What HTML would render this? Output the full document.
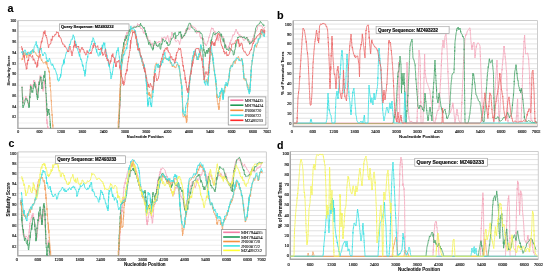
<!DOCTYPE html>
<html><head><meta charset="utf-8"><title>SimPlot and Bootscan analysis</title>
<style>html,body{margin:0;padding:0;background:#fff;}body{width:550px;height:277px;overflow:hidden;}svg{display:block;}</style>
</head><body>
<svg width="550" height="277" viewBox="0 0 550 277">
<rect width="550" height="277" fill="#fff"/>
<line x1="17.9" y1="25.99" x2="268.0" y2="25.99" stroke="#e9e9e9" stroke-width="0.8"/><line x1="17.9" y1="31.38" x2="268.0" y2="31.38" stroke="#e9e9e9" stroke-width="0.8"/><line x1="17.9" y1="36.77" x2="268.0" y2="36.77" stroke="#e9e9e9" stroke-width="0.8"/><line x1="17.9" y1="42.16" x2="268.0" y2="42.16" stroke="#e9e9e9" stroke-width="0.8"/><line x1="17.9" y1="47.55" x2="268.0" y2="47.55" stroke="#e9e9e9" stroke-width="0.8"/><line x1="17.9" y1="52.94" x2="268.0" y2="52.94" stroke="#e9e9e9" stroke-width="0.8"/><line x1="17.9" y1="58.33" x2="268.0" y2="58.33" stroke="#e9e9e9" stroke-width="0.8"/><line x1="17.9" y1="63.72" x2="268.0" y2="63.72" stroke="#e9e9e9" stroke-width="0.8"/><line x1="17.9" y1="69.11" x2="268.0" y2="69.11" stroke="#e9e9e9" stroke-width="0.8"/><line x1="17.9" y1="74.50" x2="268.0" y2="74.50" stroke="#e9e9e9" stroke-width="0.8"/><line x1="17.9" y1="79.89" x2="268.0" y2="79.89" stroke="#e9e9e9" stroke-width="0.8"/><line x1="17.9" y1="85.28" x2="268.0" y2="85.28" stroke="#e9e9e9" stroke-width="0.8"/><line x1="17.9" y1="90.67" x2="268.0" y2="90.67" stroke="#e9e9e9" stroke-width="0.8"/><line x1="17.9" y1="96.06" x2="268.0" y2="96.06" stroke="#e9e9e9" stroke-width="0.8"/><line x1="17.9" y1="101.45" x2="268.0" y2="101.45" stroke="#e9e9e9" stroke-width="0.8"/><line x1="17.9" y1="106.84" x2="268.0" y2="106.84" stroke="#e9e9e9" stroke-width="0.8"/><line x1="17.9" y1="112.23" x2="268.0" y2="112.23" stroke="#e9e9e9" stroke-width="0.8"/><line x1="17.9" y1="117.62" x2="268.0" y2="117.62" stroke="#e9e9e9" stroke-width="0.8"/><line x1="17.9" y1="123.01" x2="268.0" y2="123.01" stroke="#e9e9e9" stroke-width="0.8"/><polyline points="17.9,20.6 268.0,20.6 268.0,128.4" fill="none" stroke="#cdcdcd" stroke-width="1"/><polyline points="17.9,20.6 17.9,128.4 268.0,128.4" fill="none" stroke="#a6a6a6" stroke-width="1.4"/>
<polyline points="22.0,86.0 22.1,86.7 22.1,88.7 22.2,88.7 22.2,89.6 22.3,89.8 22.3,91.7 22.4,94.4 22.4,94.5 22.5,96.3 22.6,96.3 22.6,97.5 22.7,98.2 22.7,96.8 22.8,101.1 22.8,101.6 22.9,102.6 22.9,100.8 23.0,104.0 23.4,100.8 23.7,101.0 24.1,100.6 24.5,100.7 24.6,100.0 24.9,99.0 25.3,98.8 25.6,96.3 26.0,96.0 26.3,97.3 26.7,98.4 27.0,98.0 27.4,100.0 27.8,103.2 28.1,102.6 28.5,104.3 28.9,102.9 29.0,104.0 29.1,102.0 29.2,101.6 29.2,100.9 29.3,100.8 29.4,99.3 29.5,97.4 29.6,95.8 29.6,95.3 29.7,96.6 29.8,93.0 29.9,93.4 30.0,92.6 30.0,89.1 30.1,90.1 30.2,90.7 30.3,85.4 30.4,86.6 30.4,85.9 30.5,84.0 30.6,84.0 31.0,85.5 31.5,85.7 31.9,84.8 32.4,88.7 32.6,88.0 32.8,87.9 32.9,87.3 33.1,86.9 33.3,84.5 33.5,83.2 33.6,80.4 33.8,81.9 34.0,80.0 34.3,80.2 34.6,81.3 34.9,81.2 35.3,82.5 35.6,84.1 35.9,87.4 36.0,86.0 36.2,84.3 36.3,86.1 36.5,89.3 36.6,91.8 36.8,91.7 36.9,89.5 37.1,89.6 37.2,94.4 37.4,95.0 37.5,93.1 37.6,91.6 37.8,93.3 37.9,92.5 38.0,90.2 38.1,89.4 38.3,88.6 38.4,89.1 38.5,86.9 38.6,85.7 38.7,84.8 38.9,81.1 39.0,82.0 39.3,82.7 39.5,81.3 39.8,79.8 40.0,75.6 40.3,76.3 40.6,76.0 40.8,78.1 40.9,75.6 41.1,78.7 41.2,81.3 41.4,79.2 41.5,84.0 41.7,83.6 41.9,83.7 42.0,85.3 42.2,86.7 42.3,87.0 42.5,89.3 42.7,88.0 42.8,89.3 43.0,91.0 43.1,91.4 43.3,89.1 43.4,86.9 43.6,88.3 43.7,88.0 43.9,84.5 44.0,82.3 44.2,82.9 44.3,81.9 44.4,80.7 44.6,80.0 44.7,82.8 44.8,80.7 44.9,84.6 45.0,82.3 45.1,84.0 45.2,86.8 45.3,88.4 45.3,89.1 45.4,89.4 45.5,90.1 45.6,91.2 45.7,92.7 45.8,92.7 45.9,94.3 46.0,95.0 46.0,96.7 46.1,97.0 46.1,99.0 46.1,99.7 46.2,102.6 46.2,101.4 46.2,101.4 46.3,102.5 46.3,104.0 46.3,106.2 46.4,105.6 46.4,107.5 46.4,110.4 46.5,105.7 46.5,108.5 46.6,111.3 46.6,112.5 46.6,113.3 46.7,113.4 46.7,115.8 46.7,116.4 46.8,116.3 46.8,121.1 46.8,119.4 46.9,119.3 46.9,120.9 46.9,121.7 47.0,122.9 47.0,124.0 47.2,121.4 47.4,125.3 47.7,128.2 47.9,126.4 48.0,128.5" fill="none" stroke="#f4a8bc" stroke-width="0.85" stroke-linejoin="round" stroke-opacity="1.0"/><polyline points="119.0,128.5 119.0,127.4 119.1,127.7 119.1,126.6 119.1,126.4 119.2,121.3 119.2,122.0 119.3,121.1 119.3,121.3 119.3,120.9 119.4,115.0 119.4,118.9 119.4,114.6 119.5,116.4 119.5,112.6 119.6,113.7 119.6,114.1 119.6,111.3 119.7,110.8 119.7,110.5 119.7,108.7 119.8,107.4 119.8,108.5 119.9,106.9 119.9,104.1 119.9,107.1 120.0,101.0 120.0,102.7 120.0,100.2 120.1,99.7 120.1,99.4 120.2,97.8 120.2,97.4 120.2,93.5 120.3,92.6 120.3,94.3 120.3,91.3 120.4,90.2 120.4,88.6 120.5,91.2 120.5,89.5 120.5,89.4 120.6,85.3 120.6,85.5 120.6,83.0 120.7,84.5 120.7,84.6 120.8,80.4 120.8,82.6 120.8,80.8 120.9,78.3 120.9,75.0 120.9,78.4 121.0,75.4 121.0,75.0 121.1,73.2 121.1,73.5 121.2,72.5 121.2,73.0 121.3,68.7 121.3,70.5 121.4,69.9 121.4,68.9 121.5,65.8 121.5,64.0 121.6,65.3 121.6,63.2 121.7,62.2 121.7,62.9 121.8,59.7 121.8,56.0 121.9,57.5 121.9,54.6 122.0,56.0 122.2,56.1 122.3,54.4 122.5,52.2 122.7,52.0 122.8,52.2 123.0,50.2 123.2,50.8 123.3,48.0 123.5,48.5 123.6,48.1 123.8,47.2 124.0,44.0 124.2,42.2 124.5,43.2 124.7,38.7 125.0,38.7 125.2,36.6 125.5,39.6 125.7,35.6 125.9,36.2 126.2,35.0 126.4,34.3 126.7,32.6 126.9,32.7 127.0,32.0 127.7,33.6 128.4,30.6 129.1,30.6 130.0,29.0 130.9,30.0 131.9,28.1 133.0,28.0 133.9,26.0 134.9,26.6 136.0,27.0 136.8,27.7 137.5,23.6 138.3,24.3 139.0,25.7 139.5,24.0 139.8,26.0 140.1,25.9 140.4,27.9 140.6,28.0 141.0,29.0 141.6,28.2 142.2,28.5 142.9,30.5 143.5,33.3 144.1,32.2 144.7,32.5 145.0,34.0 145.4,33.9 145.9,33.8 146.3,36.5 146.8,36.0 147.2,38.9 147.7,36.3 148.0,40.0 148.6,41.2 149.2,40.8 149.8,39.9 150.4,44.1 151.0,44.0 151.6,44.5 152.1,42.8 152.7,45.4 153.0,47.0 153.5,46.5 154.0,44.7 154.5,45.4 155.1,44.5 155.6,43.6 156.0,42.0 156.9,42.1 157.9,43.1 159.0,41.0 159.9,42.3 161.0,42.0 161.4,41.7 161.9,37.5 162.3,40.5 162.8,40.1 163.0,38.0 164.0,37.4 164.9,36.9 165.9,39.8 167.0,37.0 167.7,35.4 168.4,39.0 169.1,42.3 170.0,40.0 170.3,37.8 170.5,39.0 170.8,39.6 171.1,36.0 171.4,35.9 171.6,35.4 171.9,32.1 172.0,33.0 172.4,33.8 172.8,35.2 173.2,36.8 173.6,36.6 174.0,37.3 174.4,37.2 174.8,39.0 175.0,40.0 175.9,41.6 176.8,41.0 177.7,40.2 178.6,40.7 179.0,42.0 179.6,44.6 180.1,41.8 180.7,40.3 181.2,35.3 181.8,38.6 182.3,37.6 183.0,36.0 183.6,37.4 184.1,34.9 184.7,33.4 185.2,33.4 185.8,29.3 186.3,32.4 187.0,30.0 187.7,29.7 188.4,27.7 189.1,29.6 189.8,29.5 190.5,24.6 191.0,26.0 191.9,25.4 192.9,27.0 194.0,27.0 194.6,28.1 195.1,28.1 195.7,28.2 196.0,30.0 196.7,33.5 197.4,32.8 198.1,30.6 199.0,33.0 199.5,32.1 200.0,37.0 200.5,36.9 201.0,38.8 201.5,38.4 202.0,37.1 202.5,39.4 203.0,40.0 203.4,38.1 203.9,40.8 204.3,42.6 204.8,44.3 205.2,43.5 205.7,45.2 206.0,46.0 206.4,45.7 206.7,44.6 207.1,44.0 207.4,42.5 207.8,40.9 208.1,41.4 208.5,39.5 208.8,37.4 209.0,38.0 209.2,36.2 209.5,36.1 209.7,34.9 210.0,34.3 210.2,33.1 210.5,32.4 210.7,31.0 211.0,30.0 211.7,27.7 212.4,29.1 213.0,28.0 213.4,30.3 213.7,30.4 214.1,30.6 214.4,32.3 214.8,31.4 215.1,31.2 215.5,34.6 215.8,34.3 216.0,36.0 216.4,37.9 216.9,36.4 217.3,35.3 217.8,38.2 218.0,40.0 218.3,41.1 218.6,37.6 218.9,35.4 219.3,35.2 219.6,35.9 219.9,35.0 220.0,34.0 220.8,34.8 221.7,37.0 222.5,36.6 223.0,36.0 223.2,36.9 223.5,38.7 223.7,41.1 224.0,41.1 224.2,42.2 224.5,40.4 224.7,42.6 225.0,44.0 225.6,45.7 226.2,45.2 226.8,47.8 227.4,48.0 228.0,48.0 228.3,48.2 228.6,45.8 228.9,48.5 229.3,45.8 229.6,43.0 229.9,42.4 230.0,42.0 230.4,44.5 230.9,39.8 231.3,40.5 231.8,39.7 232.0,38.0 232.4,37.1 232.9,34.7 233.3,35.6 233.8,34.9 234.0,34.0 234.4,34.5 234.7,33.2 235.1,31.2 235.5,31.4 235.9,30.1 236.0,29.0 236.4,30.2 236.7,30.9 237.1,31.5 237.5,33.6 237.9,32.3 238.0,34.0 238.6,34.0 239.2,35.6 239.8,34.5 240.4,36.6 241.0,38.0 241.8,35.9 242.7,38.2 243.5,40.4 244.0,40.0 244.8,40.2 245.7,38.8 246.5,38.0 247.0,38.0 247.5,37.0 248.0,42.1 248.5,41.3 249.0,42.9 249.5,41.2 250.0,42.9 250.5,44.0 251.0,40.8 251.6,43.3 252.1,42.7 252.6,38.1 253.0,40.0 253.3,39.0 253.6,38.9 253.9,34.8 254.2,33.8 254.5,33.8 254.8,33.5 255.1,31.5 255.4,32.4 255.5,32.0 255.9,31.4 256.2,31.0 256.6,30.1 257.0,30.2 257.4,28.9 257.5,27.0 258.4,25.0 259.4,25.7 260.5,26.0 261.2,25.3 261.9,26.0 262.6,28.0 263.5,29.0 264.0,28.2 264.6,28.0 264.8,27.0" fill="none" stroke="#f4a8bc" stroke-width="0.85" stroke-linejoin="round" stroke-opacity="1.0"/>
<polyline points="22.0,88.0 22.0,86.9 22.1,88.4 22.1,91.0 22.2,91.7 22.2,92.6 22.3,93.9 22.3,94.0 22.4,96.9 22.4,97.4 22.5,97.9 22.5,98.1 22.6,99.8 22.6,97.4 22.7,100.7 22.7,103.0 22.8,102.0 22.8,105.2 22.9,106.2 22.9,105.2 23.0,108.0 23.3,106.7 23.6,105.7 23.9,105.7 24.2,105.0 24.6,103.0 24.9,102.0 25.1,100.0 25.4,99.9 25.7,99.1 26.0,98.0 26.4,99.9 26.8,100.2 27.3,99.8 27.4,101.0 27.6,100.2 27.8,102.5 28.1,103.0 28.3,103.5 28.5,105.7 28.7,106.2 29.0,108.0 29.1,107.1 29.1,106.7 29.2,104.5 29.3,107.0 29.4,102.6 29.4,103.4 29.5,101.2 29.6,101.5 29.7,95.9 29.7,97.0 29.8,97.4 29.9,96.8 29.9,98.1 30.0,94.5 30.1,94.7 30.2,93.0 30.2,92.3 30.3,90.7 30.4,88.8 30.5,88.7 30.5,85.7 30.6,86.0 30.9,88.5 31.2,86.6 31.5,89.2 31.9,92.6 32.2,90.5 32.5,91.7 32.6,92.0 32.8,92.5 33.0,90.1 33.2,88.0 33.4,88.4 33.6,87.9 33.8,87.0 34.0,84.1 34.2,86.4 34.4,85.3 34.6,82.0 34.8,83.0 35.0,84.3 35.2,84.4 35.4,87.8 35.6,86.0 35.8,88.8 36.0,89.0 36.1,89.4 36.3,90.1 36.4,92.9 36.6,94.7 36.7,93.9 36.8,94.1 37.0,97.0 37.1,96.9 37.2,98.3 37.4,99.0 37.5,100.0 37.6,98.5 37.7,95.3 37.9,98.0 38.0,94.0 38.1,94.1 38.2,91.2 38.3,91.0 38.4,87.8 38.5,91.4 38.6,89.8 38.8,85.5 38.9,84.1 39.0,85.0 39.2,81.9 39.4,84.6 39.6,81.5 39.8,81.0 40.0,79.7 40.2,79.0 40.4,76.7 40.6,77.0 40.7,78.0 40.9,77.1 41.0,79.9 41.1,81.4 41.2,82.6 41.4,82.7 41.5,82.8 41.6,85.1 41.7,85.3 41.9,89.0 42.0,88.0 42.1,88.0 42.3,85.9 42.4,84.4 42.5,83.1 42.6,81.8 42.8,81.6 42.9,81.4 43.0,80.7 43.1,79.8 43.3,80.8 43.4,77.0 43.8,75.2 44.1,75.2 44.5,77.8 44.9,70.9 45.0,73.0 45.0,73.3 45.1,75.2 45.1,76.2 45.2,77.5 45.2,77.7 45.3,79.5 45.3,80.1 45.4,82.0 45.4,79.5 45.5,81.8 45.5,84.0 45.6,83.6 45.6,84.6 45.7,87.8 45.7,87.1 45.8,89.8 45.8,90.9 45.9,91.4 45.9,92.6 46.0,93.0 46.1,93.9 46.1,93.2 46.2,96.0 46.3,97.6 46.3,97.3 46.4,98.9 46.4,101.0 46.5,99.8 46.6,102.8 46.6,105.4 46.7,103.3 46.8,105.2 46.8,105.8 46.9,109.0 47.0,108.4 47.0,110.1 47.1,109.1 47.1,110.9 47.2,111.9 47.3,110.7 47.3,115.8 47.4,115.0 47.6,115.2 47.8,110.8 48.0,113.0 48.2,110.9 48.4,110.7 48.6,109.0 48.7,110.5 48.9,109.0 49.0,111.7 49.2,114.9 49.3,113.2 49.4,113.6 49.6,114.2 49.7,115.3 49.8,118.3 50.0,119.0 50.1,122.2 50.1,121.6 50.2,122.3 50.3,125.9 50.3,123.3 50.4,124.1 50.4,126.7 50.5,127.7 50.6,126.7 50.6,128.5" fill="none" stroke="#4aa56c" stroke-width="0.85" stroke-linejoin="round" stroke-opacity="1.0"/><polyline points="118.6,128.5 118.6,126.0 118.7,126.9 118.7,125.8 118.8,122.8 118.8,123.2 118.9,121.8 118.9,122.1 119.0,120.4 119.0,119.4 119.1,118.1 119.1,118.9 119.2,118.3 119.2,115.0 119.3,115.6 119.3,112.5 119.4,112.6 119.4,112.5 119.5,112.5 119.5,109.0 119.6,108.4 119.6,107.8 119.7,104.6 119.7,105.5 119.8,103.7 119.8,104.0 119.9,101.1 119.9,99.0 120.0,100.6 120.0,100.0 120.0,99.3 120.1,97.3 120.1,98.2 120.1,95.6 120.2,94.2 120.2,94.6 120.2,91.0 120.3,91.1 120.3,91.0 120.4,91.1 120.4,88.8 120.4,88.4 120.5,86.2 120.5,86.4 120.5,87.2 120.6,83.1 120.6,86.1 120.6,81.2 120.7,81.0 120.7,80.2 120.7,80.3 120.8,76.4 120.8,74.3 120.9,76.8 120.9,76.0 120.9,74.8 121.0,76.4 121.0,72.0 121.1,71.3 121.1,70.3 121.2,70.2 121.2,68.5 121.3,69.2 121.3,64.4 121.4,64.5 121.4,59.5 121.5,64.1 121.6,61.5 121.6,62.2 121.7,62.8 121.7,59.0 121.8,57.7 121.8,56.4 121.9,54.9 121.9,54.2 122.0,54.0 122.2,53.8 122.3,52.1 122.5,51.1 122.7,49.8 122.8,50.3 123.0,48.7 123.2,46.9 123.3,47.0 123.5,44.9 123.6,42.6 123.8,45.0 124.0,42.0 124.4,41.7 124.9,39.0 125.3,40.7 125.8,38.9 126.2,35.5 126.7,38.7 127.0,36.0 127.4,35.5 127.9,35.4 128.3,33.6 128.8,32.2 129.2,29.5 129.7,31.9 130.0,30.0 130.7,29.3 131.4,28.2 132.0,28.0 132.9,28.1 133.9,27.5 135.0,27.0 135.9,27.4 137.0,26.0 137.9,26.0 139.0,27.0 139.8,26.4 140.6,23.1 141.0,25.6 141.9,25.5 142.8,27.3 143.7,28.6 144.0,27.0 144.3,27.5 144.6,28.7 144.9,31.9 145.3,30.4 145.6,32.7 145.9,34.9 146.0,33.0 146.2,34.0 146.4,36.6 146.6,35.0 146.8,37.2 147.0,38.0 147.4,38.8 147.9,39.9 148.3,42.2 148.8,44.7 149.0,42.0 149.4,42.0 149.9,43.0 150.3,45.3 150.8,44.2 151.0,46.0 151.4,47.5 151.9,48.5 152.3,48.3 152.8,50.3 153.0,50.0 153.2,47.0 153.4,49.0 153.5,45.0 153.7,45.2 153.9,44.4 154.1,43.6 154.2,44.2 154.4,42.2 154.6,41.0 155.2,41.3 155.7,43.3 156.0,43.0 156.4,46.0 156.8,44.8 157.3,46.2 157.4,46.0 158.0,46.8 158.6,44.8 159.0,44.0 159.6,43.2 160.1,48.9 160.7,49.4 161.0,47.0 161.2,43.4 161.5,45.0 161.7,44.6 162.0,44.4 162.2,43.0 162.5,40.8 162.7,38.8 163.0,39.0 163.7,39.8 164.4,41.8 165.0,41.0 165.6,40.4 166.2,41.2 166.6,43.0 167.0,43.9 167.4,42.3 167.9,45.4 168.0,46.0 168.7,44.7 169.4,45.2 170.0,44.0 170.3,42.1 170.6,41.0 170.9,40.6 171.3,40.1 171.6,38.4 171.9,38.3 172.0,38.0 172.4,38.1 172.9,37.8 173.3,37.5 173.8,33.4 174.0,34.0 174.6,34.3 175.1,32.4 175.7,39.0 176.0,37.0 176.7,35.4 177.4,35.5 178.0,35.0 178.6,34.8 179.1,31.6 179.7,33.1 180.0,32.0 180.3,32.9 180.6,31.5 180.9,35.2 181.3,37.3 181.6,34.3 181.9,38.7 182.0,38.0 182.6,37.4 183.1,37.0 183.7,36.1 184.0,35.0 184.6,35.9 185.1,33.0 185.7,33.6 186.0,32.0 186.3,30.5 186.6,31.0 186.9,28.1 187.3,28.1 187.6,29.5 187.9,26.9 188.0,26.0 188.6,25.0 189.3,23.0 190.0,23.6 190.5,23.4 191.0,25.6 191.5,27.4 192.0,27.0 192.7,28.3 193.4,29.1 194.0,29.0 194.7,29.7 195.4,32.2 196.0,31.0 196.9,30.9 198.0,32.0 199.0,31.1 200.0,31.6 200.6,33.5 201.3,33.2 202.0,34.0 202.1,34.6 202.2,35.2 202.4,36.6 202.5,38.8 202.6,39.4 202.7,38.4 202.9,41.5 203.0,42.0 203.1,43.2 203.2,42.7 203.3,46.0 203.4,45.6 203.6,46.5 203.7,49.0 203.8,50.7 203.9,49.1 204.0,51.0 204.4,52.5 204.8,51.7 205.3,56.7 205.4,54.0 205.8,52.4 206.1,53.7 206.5,50.4 206.9,51.3 207.0,50.0 207.7,53.6 208.4,48.1 209.0,52.0 209.3,50.5 209.5,50.7 209.8,49.0 210.0,47.3 210.3,50.0 210.6,46.0 210.8,45.1 210.9,41.9 211.1,44.1 211.2,39.8 211.4,42.6 211.5,39.3 211.7,39.3 211.8,39.7 212.0,37.0 212.6,36.3 213.1,33.5 213.7,32.3 214.0,34.0 214.9,35.1 216.0,33.0 216.9,33.5 218.0,32.0 218.9,31.4 220.0,33.0 220.4,35.0 220.7,35.5 221.1,36.6 221.5,33.8 221.9,37.2 222.0,38.0 222.4,40.1 222.9,40.7 223.3,41.8 223.8,38.4 224.0,42.0 224.3,43.2 224.6,44.5 224.9,48.2 225.3,44.6 225.6,46.3 225.9,47.7 226.0,48.0 226.7,49.9 227.4,48.8 228.0,50.0 228.7,50.8 229.4,47.6 230.0,48.0 230.6,49.2 231.1,49.0 231.7,50.7 232.0,51.0 232.4,51.0 232.9,50.7 233.3,55.1 233.8,55.0 234.0,55.0 234.2,53.3 234.4,53.3 234.5,53.3 234.7,49.8 234.9,49.9 235.1,49.8 235.3,48.8 235.4,46.7 235.6,43.4 235.8,46.8 236.0,44.0 236.3,43.5 236.6,42.1 236.9,40.8 237.3,40.5 237.6,38.7 237.9,37.0 238.0,38.0 238.9,36.6 240.0,37.0 240.9,36.5 241.9,36.8 243.0,38.0 244.0,36.5 245.0,38.8 246.0,38.0 246.7,37.0 247.4,40.3 248.0,40.0 248.6,39.5 249.1,42.1 249.7,44.3 250.0,43.0 250.9,42.8 252.0,42.0 252.7,40.3 253.4,40.6 254.0,40.0 254.1,39.2 254.3,35.8 254.4,36.2 254.5,36.2 254.7,34.4 254.8,34.2 254.9,34.0 255.1,33.1 255.2,32.3 255.4,30.9 255.5,29.0 255.9,27.7 256.4,27.2 256.8,26.0 257.3,25.0 257.5,25.0 258.4,24.3 259.5,24.0 260.4,21.3 261.5,23.0 262.1,23.4 262.6,24.6 263.2,24.2 263.5,26.0 264.3,25.4 264.8,25.0" fill="none" stroke="#4aa56c" stroke-width="0.85" stroke-linejoin="round" stroke-opacity="1.0"/>
<polyline points="21.4,60.0 21.8,59.8 22.3,58.0 22.7,60.0 23.2,53.0 23.4,56.0 24.2,55.1 25.0,52.4 25.8,55.4 26.0,54.0 26.8,58.0 27.7,51.9 28.5,55.8 29.0,56.0 29.7,56.0 30.4,54.2 31.1,54.6 32.0,53.0 32.7,49.4 33.4,52.7 34.0,51.0 34.6,52.3 35.1,52.7 35.7,52.7 36.0,54.0 36.6,55.7 37.1,55.0 37.7,56.8 38.0,57.0 38.9,55.9 40.0,56.0 40.4,54.0 40.7,57.8 41.1,59.0 41.5,60.7 41.9,59.5 42.0,61.0 42.7,61.7 43.4,63.2 44.0,63.0 44.7,62.5 45.4,63.2 46.0,61.0 46.3,64.5 46.6,61.7 46.9,61.3 47.3,65.9 47.6,67.7 47.9,67.9 48.0,67.0 48.2,69.0 48.5,68.1 48.7,69.0 48.9,72.1 49.1,70.7 49.4,73.0 49.5,71.6 49.5,73.7 49.6,79.2 49.7,79.5 49.7,77.1 49.8,78.0 49.9,80.3 49.9,80.0 50.0,83.7 50.1,82.9 50.1,82.6 50.2,86.7 50.3,85.2 50.3,87.3 50.4,88.0 50.5,88.6 50.5,90.4 50.6,91.0 50.7,91.1 50.7,90.6 50.8,91.1 50.9,93.3 50.9,95.0 51.0,97.0 51.0,98.1 51.1,99.7 51.2,100.1 51.2,99.9 51.3,101.1 51.4,100.2 51.4,103.8 51.5,105.6 51.6,106.7 51.6,106.8 51.7,107.7 51.7,110.2 51.8,110.0 51.9,111.9 51.9,112.7 52.0,113.2 52.1,115.7 52.1,114.2 52.2,115.5 52.3,115.9 52.3,116.9 52.4,121.0 52.5,122.2 52.5,121.0 52.6,122.7 52.6,124.5 52.7,125.0 52.8,126.5 52.8,124.3 52.9,126.1 53.0,128.4 53.0,128.5" fill="none" stroke="#f2a468" stroke-width="0.85" stroke-linejoin="round" stroke-opacity="1.0"/><polyline points="118.0,128.5 118.1,128.4 118.1,126.6 118.2,124.4 118.2,124.0 118.3,122.6 118.3,121.4 118.4,123.5 118.4,119.7 118.5,119.5 118.5,121.3 118.6,119.1 118.6,117.0 118.7,114.7 118.7,115.1 118.8,115.6 118.8,113.3 118.9,113.2 118.9,110.7 119.0,110.2 119.1,108.3 119.1,108.1 119.2,108.2 119.2,103.7 119.3,104.5 119.3,103.8 119.4,101.8 119.4,101.1 119.5,101.6 119.5,100.0 119.6,101.6 119.6,98.8 119.7,97.4 119.7,94.0 119.8,97.5 119.8,94.1 119.9,93.0 119.9,90.6 120.0,90.9 120.0,88.6 120.1,89.1 120.1,88.6 120.2,87.1 120.2,86.4 120.3,83.9 120.4,85.9 120.4,82.2 120.5,79.7 120.5,80.8 120.6,79.0 120.6,77.7 120.7,77.6 120.7,77.4 120.8,74.5 120.8,74.9 120.9,75.9 120.9,73.9 121.0,72.0 121.1,70.8 121.2,70.2 121.4,68.9 121.5,68.0 121.6,68.0 121.7,65.9 121.8,61.9 121.9,64.0 122.1,61.9 122.2,62.9 122.3,60.3 122.4,60.3 122.5,61.9 122.6,56.7 122.8,55.6 122.9,54.3 123.0,55.0 123.2,50.9 123.4,50.6 123.6,52.5 123.8,50.2 124.0,47.7 124.2,47.2 124.4,48.9 124.6,46.1 124.8,45.7 125.0,45.0 125.4,44.5 125.7,44.9 126.1,44.7 126.5,42.6 126.9,40.5 127.0,40.0 127.4,39.3 127.7,40.5 128.1,39.1 128.5,35.9 128.9,36.0 129.0,35.0 129.6,34.5 130.1,33.4 130.7,31.9 131.0,32.0 131.9,29.8 133.0,31.0 133.7,31.0 134.4,30.4 135.0,33.0 135.2,35.6 135.4,35.6 135.7,34.4 135.9,38.7 136.1,39.0 136.3,36.4 136.5,42.2 136.7,41.9 137.0,42.0 137.2,45.7 137.5,42.3 137.7,45.6 138.0,46.4 138.2,47.1 138.5,48.0 138.7,50.2 138.9,47.8 139.2,49.1 139.4,49.9 139.5,52.0 139.8,52.2 140.0,53.1 140.3,55.4 140.6,56.2 140.8,56.9 141.1,56.9 141.4,58.2 141.6,60.9 141.9,61.7 142.0,61.0 142.3,62.1 142.6,62.5 142.9,65.9 143.3,64.0 143.6,66.6 143.9,68.2 144.0,67.0 144.2,67.6 144.5,70.0 144.7,68.5 145.0,72.2 145.2,72.1 145.5,70.8 145.7,74.7 146.0,75.0 146.1,74.8 146.2,78.7 146.3,77.1 146.4,78.8 146.5,80.3 146.5,80.5 146.6,82.3 146.7,82.2 146.8,84.8 146.9,85.0 147.0,86.0 147.1,87.3 147.2,84.4 147.3,90.5 147.4,90.0 147.6,88.7 147.7,92.1 147.8,93.6 147.9,95.3 148.0,95.0 148.4,92.7 148.8,95.2 149.3,92.1 149.4,92.0 149.7,96.1 149.9,93.7 150.2,95.8 150.4,95.4 150.7,95.4 151.0,98.0 151.2,98.4 151.4,97.2 151.6,97.1 151.8,95.2 152.0,92.4 152.2,90.0 152.4,90.3 152.6,89.3 152.8,88.1 153.0,88.0 153.1,87.8 153.2,86.4 153.3,84.7 153.4,84.2 153.5,82.8 153.5,82.3 153.6,82.0 153.7,81.3 153.8,78.1 153.9,76.1 154.0,78.9 154.1,76.2 154.2,76.5 154.3,71.9 154.4,72.6 154.4,72.1 154.5,69.2 154.6,69.4 154.7,70.0 154.8,69.5 154.9,69.2 155.0,66.0 155.7,64.2 156.4,62.8 157.0,64.0 157.4,65.6 157.9,67.0 158.3,66.9 158.8,65.9 159.0,68.0 159.4,68.1 159.9,67.2 160.3,66.0 160.8,63.8 161.0,64.0 161.4,63.5 161.9,63.2 162.3,60.6 162.8,58.0 163.0,60.0 163.6,59.6 164.1,59.0 164.7,57.5 165.0,57.0 165.6,59.0 166.1,57.9 166.7,59.4 167.0,60.0 167.7,58.9 168.4,59.3 169.0,58.0 169.4,61.0 169.9,59.5 170.3,63.4 170.8,63.6 171.0,62.0 171.4,63.9 171.9,64.6 172.3,67.0 172.8,65.3 173.0,66.0 173.7,66.6 174.4,66.0 175.0,68.0 175.4,67.7 175.9,68.0 176.3,66.0 176.8,65.0 177.0,64.0 177.7,64.4 178.4,65.6 179.0,66.0 179.1,65.1 179.3,69.3 179.4,68.4 179.6,68.5 179.7,70.0 179.8,70.9 180.0,73.0 180.1,75.1 180.2,76.4 180.3,74.2 180.4,78.2 180.5,79.1 180.6,78.2 180.7,78.0 180.8,80.0 180.9,81.1 181.0,83.4 181.2,83.5 181.3,82.3 181.4,86.2 181.5,84.9 181.6,89.1 181.7,87.3 181.8,89.0 181.9,89.8 182.0,92.0 182.0,92.3 182.1,95.7 182.1,96.1 182.2,96.8 182.2,97.4 182.2,96.0 182.3,98.3 182.3,99.3 182.4,99.7 182.4,102.7 182.5,102.0 182.5,103.1 182.5,103.6 182.6,103.3 182.6,107.8 182.7,109.7 182.7,109.2 182.7,108.7 182.8,107.5 182.8,112.2 182.9,114.6 182.9,114.4 183.0,116.2 183.0,116.0 183.7,117.2 184.4,116.1 185.0,114.0 185.2,114.4 185.4,117.3 185.5,118.0 185.7,115.9 185.9,118.4 186.1,118.1 186.2,120.7 186.4,122.6 186.6,123.0 186.7,120.6 186.7,118.3 186.8,121.7 186.8,119.5 186.9,119.9 187.0,115.3 187.0,117.4 187.1,117.7 187.1,116.6 187.2,112.7 187.3,112.4 187.3,110.8 187.4,111.3 187.5,110.4 187.5,108.1 187.6,105.3 187.6,107.0 187.7,104.4 187.8,104.9 187.8,103.4 187.9,104.1 187.9,102.5 188.0,100.0 188.1,98.4 188.2,98.5 188.3,99.3 188.4,95.3 188.5,95.6 188.6,95.6 188.7,94.7 188.7,92.7 188.8,89.3 188.9,88.4 189.0,89.4 189.1,88.6 189.2,90.4 189.3,84.9 189.4,85.0 189.5,85.5 189.6,84.0 189.7,79.8 189.8,80.0 189.9,80.2 190.0,78.4 190.1,77.8 190.2,77.7 190.4,75.0 190.5,75.7 190.6,73.2 190.7,72.4 190.8,72.8 190.9,70.3 191.0,70.0 191.2,69.4 191.3,70.1 191.5,67.1 191.6,65.9 191.8,66.0 191.9,63.6 192.1,64.5 192.2,60.4 192.4,61.9 192.5,59.5 192.7,58.1 192.8,60.4 193.0,57.0 193.4,55.0 193.7,57.4 194.1,55.1 194.5,55.2 194.9,51.1 195.0,52.0 195.4,54.5 195.7,55.8 196.1,54.6 196.5,55.5 196.9,59.8 197.0,57.0 197.3,58.2 197.6,58.3 198.0,60.0 198.2,58.2 198.5,58.6 198.7,57.5 199.0,56.4 199.2,57.4 199.5,53.8 199.7,53.8 200.0,52.0 200.2,52.9 200.4,48.7 200.6,50.4 200.8,50.5 201.0,47.0 201.3,46.2 201.5,47.5 201.8,48.5 202.1,48.4 202.4,52.4 202.6,50.4 202.9,54.4 203.0,54.0 203.0,56.9 203.1,53.9 203.1,56.6 203.2,55.5 203.2,60.0 203.3,59.0 203.3,60.6 203.4,62.1 203.4,63.7 203.5,63.5 203.5,65.0 203.5,65.3 203.6,67.1 203.6,66.5 203.7,69.1 203.7,67.5 203.8,70.3 203.8,74.5 203.9,73.1 203.9,72.3 204.0,75.3 204.0,76.0 204.2,75.7 204.3,75.8 204.5,78.0 204.7,80.9 204.8,81.4 205.0,82.0 205.7,81.2 206.4,79.4 207.0,80.0 207.3,79.5 207.6,83.7 208.0,83.0 208.1,82.3 208.2,79.8 208.2,77.3 208.3,77.2 208.4,81.2 208.5,75.5 208.5,75.9 208.6,75.3 208.7,73.8 208.8,72.7 208.8,70.2 208.9,69.7 209.0,70.0 209.1,71.2 209.1,67.0 209.2,68.1 209.3,63.8 209.4,64.7 209.4,64.4 209.5,64.4 209.6,60.6 209.7,61.8 209.7,60.5 209.8,58.1 209.9,58.7 210.0,55.9 210.0,55.0 210.1,55.0 210.2,50.5 210.3,52.9 210.3,50.8 210.4,49.2 210.5,50.0 210.8,50.4 211.1,52.9 211.4,52.3 211.8,55.4 212.1,53.2 212.4,54.0 212.5,56.0 212.6,59.0 212.7,58.5 212.8,60.2 212.9,58.9 213.0,62.0 213.1,62.3 213.2,63.8 213.4,64.0 213.5,66.5 213.6,65.1 213.7,65.7 213.8,66.0 213.9,70.4 214.0,70.0 214.1,70.0 214.3,70.6 214.4,71.7 214.6,73.4 214.7,73.3 214.8,75.6 215.0,76.1 215.1,77.2 215.3,77.7 215.4,79.9 215.6,80.3 215.7,82.0 215.8,83.2 216.0,84.0 216.1,85.4 216.1,83.1 216.2,86.3 216.3,87.0 216.4,90.0 216.4,87.9 216.5,90.1 216.6,91.6 216.6,92.5 216.7,95.3 216.8,94.4 216.9,97.2 216.9,95.1 217.0,98.0 217.2,96.6 217.3,101.6 217.5,101.5 217.7,102.6 217.8,103.1 218.0,104.5 218.2,103.3 218.3,107.1 218.5,106.2 218.6,109.1 218.8,109.0 219.0,110.0 219.1,106.4 219.1,106.3 219.2,108.5 219.3,105.8 219.4,104.5 219.4,104.3 219.5,102.5 219.6,101.3 219.6,101.2 219.7,100.2 219.8,101.0 219.9,98.1 219.9,99.5 220.0,96.0 220.3,97.4 220.6,96.3 220.9,94.5 221.3,92.4 221.6,91.4 221.9,90.1 222.0,90.0 222.1,90.0 222.2,91.9 222.4,92.1 222.5,96.1 222.6,95.7 222.7,95.4 222.9,94.5 223.0,98.0 223.2,96.9 223.3,95.5 223.5,93.6 223.7,92.6 223.8,90.1 224.0,92.0 224.2,91.8 224.5,90.0 224.7,92.4 225.0,88.1 225.2,87.0 225.5,88.1 225.7,85.4 226.0,84.0 226.4,85.1 227.0,86.0 227.2,84.5 227.5,83.3 227.7,85.0 228.0,83.4 228.2,83.4 228.5,79.7 228.7,79.2 229.0,78.0 229.1,75.9 229.2,77.3 229.3,73.2 229.4,74.8 229.5,74.4 229.6,73.9 229.7,69.8 229.8,71.5 229.9,68.1 230.0,68.0 230.6,66.3 231.3,64.8 231.7,66.0 232.1,66.6 232.6,66.4 233.0,62.5 233.5,61.4 233.7,62.0 234.4,60.9 235.1,63.8 235.7,60.0 236.4,60.6 237.1,57.9 237.7,58.0 238.4,56.4 239.1,58.5 239.7,60.0 240.4,60.8 241.1,61.0 241.6,58.0 241.8,58.6 241.9,59.1 242.1,60.3 242.3,59.5 242.5,64.1 242.6,62.5 242.8,66.3 243.0,66.0 243.1,64.8 243.2,66.3 243.2,69.4 243.3,69.0 243.4,72.0 243.5,72.0 243.6,71.4 243.7,74.8 243.7,76.1 243.8,73.5 243.9,79.3 244.0,78.0 244.6,79.4 245.2,80.6 245.6,80.0 245.9,78.5 246.3,81.0 246.6,82.4 247.0,84.0 247.3,86.4 247.5,84.0 247.8,85.7 248.0,85.2 248.3,88.5 248.6,90.0 249.0,91.3 249.6,92.0 249.7,88.8 249.8,89.2 249.9,89.7 250.0,90.1 250.0,87.9 250.1,85.6 250.2,83.5 250.3,82.8 250.4,82.2 250.5,82.0 250.6,81.2 250.6,79.9 250.7,81.2 250.7,78.4 250.8,75.6 250.9,78.0 250.9,76.2 251.0,74.1 251.1,72.1 251.1,69.6 251.2,69.7 251.2,71.2 251.3,68.0 251.4,66.3 251.4,67.3 251.5,66.0 251.6,65.3 251.8,64.8 251.9,63.9 252.1,63.9 252.2,60.0 252.3,61.3 252.5,57.8 252.6,59.0 252.8,57.3 252.9,56.4 253.1,56.4 253.2,54.1 253.3,54.6 253.5,52.0 253.7,52.2 254.0,50.2 254.2,48.4 254.5,47.1 254.7,46.5 255.0,45.9 255.2,45.2 255.5,44.0 256.4,47.4 257.5,43.0 257.9,42.9 258.2,42.1 258.6,39.1 259.0,38.4 259.4,37.9 259.5,38.0 259.9,37.3 260.2,34.8 260.6,37.3 261.0,33.6 261.4,34.8 261.5,33.0 261.9,29.1 262.5,31.0 262.7,32.0 262.9,33.3 263.1,34.2 263.3,35.7 263.5,36.0 264.0,35.5 264.6,34.5 264.8,34.0" fill="none" stroke="#f2a468" stroke-width="0.85" stroke-linejoin="round" stroke-opacity="1.0"/>
<polyline points="21.4,53.0 22.0,51.3 22.6,53.6 23.0,55.0 23.3,51.0 23.6,53.9 23.9,52.5 24.2,50.9 24.6,50.0 25.2,49.8 25.7,50.9 26.3,54.9 26.6,53.0 27.5,54.9 28.4,52.2 29.0,52.0 29.7,54.4 30.4,51.3 31.0,54.0 31.4,50.6 31.9,51.6 32.3,50.2 32.8,49.7 33.2,49.8 33.7,52.6 34.0,48.0 34.3,46.2 34.6,46.2 34.9,45.5 35.3,44.2 35.6,44.5 35.9,44.6 36.0,42.0 36.2,41.4 36.5,44.2 36.7,44.6 36.9,46.4 37.1,44.9 37.4,48.0 37.7,46.7 38.0,46.9 38.3,51.5 38.6,52.1 39.0,53.0 39.4,52.2 39.9,48.1 40.3,49.8 40.8,48.4 41.0,49.0 41.3,48.1 41.5,49.7 41.8,52.8 42.1,53.6 42.4,53.8 42.6,55.4 42.9,54.9 43.0,56.0 43.4,55.2 43.7,54.2 44.1,53.9 44.5,52.2 44.6,52.0 45.0,52.7 45.4,53.6 45.9,53.9 46.0,55.0 46.3,58.9 46.5,57.6 46.8,58.4 47.1,61.8 47.4,60.0 48.4,61.8 49.4,58.0 50.0,60.0 50.4,61.8 50.9,62.9 51.3,65.1 51.8,65.3 52.2,65.5 52.7,63.8 53.0,66.0 53.4,65.8 53.9,68.1 54.3,69.3 54.8,68.2 55.2,70.0 55.7,70.8 56.0,72.0 56.3,73.0 56.6,74.4 56.8,74.5 57.1,74.2 57.4,78.4 57.7,79.8 57.9,78.6 58.2,81.0 58.5,81.2 58.6,81.0 59.0,81.0 59.4,79.8 59.9,77.3 60.0,78.0 60.2,77.8 60.4,77.3 60.5,73.9 60.7,76.6 60.9,75.8 61.1,74.5 61.3,73.7 61.4,71.1 61.6,68.7 61.8,67.4 62.0,67.0 62.3,65.0 62.6,65.3 62.9,64.1 63.3,64.1 63.6,59.6 63.9,64.3 64.0,61.0 64.3,63.0 64.5,59.0 64.8,59.0 65.1,57.8 65.4,56.5 65.6,55.0 65.9,54.1 66.0,54.0 66.4,52.0 66.9,52.4 67.3,51.3 67.8,50.8 68.0,50.0 68.3,47.9 68.6,48.1 68.9,47.2 69.2,47.0 69.5,43.9 69.9,44.8 70.2,44.6 70.5,43.2 70.6,42.0 71.0,40.6 71.3,39.5 71.7,38.9 72.1,39.2 72.5,39.4 72.8,36.2 73.2,34.7 73.4,35.0 73.7,36.5 73.9,37.2 74.2,36.7 74.4,37.9 74.7,39.7 75.0,41.0 75.3,42.8 75.5,41.4 75.8,42.6 76.1,45.5 76.4,44.2 76.6,46.9 76.9,48.2 77.0,48.0 77.3,48.8 77.6,48.6 77.9,50.8 78.3,51.4 78.6,53.2 78.9,52.6 79.0,54.0 79.4,56.4 79.7,53.7 80.1,56.6 80.4,57.8 80.8,59.9 81.1,58.8 81.5,61.3 81.8,60.8 82.0,62.0 82.2,63.9 82.5,66.2 82.7,64.4 83.0,66.5 83.2,65.6 83.5,69.1 83.7,70.4 84.0,70.0 84.2,71.0 84.3,70.5 84.5,73.5 84.7,75.4 84.8,76.3 85.0,76.0 85.1,76.1 85.2,71.6 85.3,72.1 85.4,73.9 85.5,69.4 85.6,71.5 85.7,71.5 85.8,69.0 85.9,68.5 86.0,66.0 86.2,64.6 86.3,62.4 86.5,62.9 86.7,61.8 86.8,61.0 87.0,61.0 87.2,58.9 87.3,58.4 87.5,57.7 87.6,56.1 87.8,57.5 88.0,54.0 88.4,53.6 88.7,52.3 89.1,50.9 89.5,49.5 89.9,51.1 90.0,49.0 90.3,48.2 90.5,45.7 90.8,45.4 91.1,45.0 91.4,43.6 91.6,44.6 91.9,40.8 92.0,42.0 92.3,41.7 92.7,40.3 93.0,37.6 93.4,38.0 93.7,39.0 93.9,39.8 94.2,41.6 94.4,41.3 94.7,43.2 95.0,44.0 95.2,42.8 95.4,44.5 95.7,47.9 95.9,49.3 96.1,48.9 96.3,49.1 96.5,52.2 96.7,49.1 97.0,53.0 97.6,52.8 98.1,55.5 98.7,56.3 99.0,56.0 99.4,53.8 99.9,51.8 100.3,55.2 100.8,52.6 101.0,52.0 101.3,49.9 101.6,50.2 101.9,50.3 102.3,44.8 102.6,48.7 102.9,47.3 103.0,46.0 103.6,42.5 104.2,45.4 104.6,44.0 104.8,42.7 104.9,47.5 105.1,47.5 105.3,50.9 105.5,48.1 105.6,49.9 105.8,52.3 106.0,52.0 106.2,52.1 106.5,53.0 106.7,54.4 107.0,55.8 107.2,55.4 107.5,58.5 107.7,59.5 108.0,60.0 108.2,61.1 108.4,64.2 108.6,62.5 108.8,65.6 109.0,64.2 109.2,66.9 109.4,64.3 109.6,68.1 109.8,68.6 110.0,70.0 110.1,70.4 110.2,71.2 110.3,72.5 110.4,73.0 110.6,72.1 110.7,75.2 110.8,76.2 110.9,77.3 111.0,79.0 111.2,76.6 111.4,76.9 111.6,77.1 111.8,74.8 112.0,73.5 112.2,74.9 112.4,73.4 112.6,71.0 112.8,71.2 112.9,70.5 113.1,67.6 113.2,66.9 113.4,67.5 113.5,64.4 113.7,63.9 113.8,63.6 114.0,62.0 114.3,61.5 114.6,59.7 114.8,60.4 115.1,57.9 115.4,58.1 115.7,57.6 115.9,56.1 116.2,55.3 116.5,51.8 116.6,53.0 116.9,50.3 117.1,50.3 117.4,50.7 117.7,51.1 118.0,48.0 118.2,47.4 118.3,50.4 118.5,49.9 118.6,51.0 118.8,52.6 118.9,54.8 119.1,55.2 119.2,57.4 119.4,57.0 119.6,56.7 119.7,60.1 119.9,61.2 120.0,61.0 120.2,62.6 120.3,62.2 120.5,62.5 120.7,64.4 120.8,65.1 121.0,67.0 121.2,69.8 121.4,64.4 121.6,66.2 121.8,63.3 122.0,62.5 122.2,62.1 122.4,59.1 122.6,60.3 122.8,58.7 123.0,57.0 123.3,54.1 123.6,55.9 123.9,54.9 124.3,53.8 124.6,54.3 124.9,50.8 125.0,51.0 125.4,50.8 125.9,50.2 126.3,47.1 126.8,49.0 127.0,47.0 127.2,44.1 127.4,43.3 127.5,44.7 127.7,41.6 127.9,41.9 128.1,39.0 128.3,40.2 128.4,37.7 128.6,38.6 128.8,35.2 129.0,36.0 129.3,35.6 129.5,33.7 129.8,33.2 130.1,32.1 130.4,31.4 130.6,28.5 130.9,25.9 131.0,29.0 132.0,29.0 133.0,29.0 133.7,28.5 134.4,29.8 135.0,31.0 135.2,32.5 135.4,30.4 135.7,32.9 135.9,34.1 136.1,34.5 136.3,37.3 136.5,37.7 136.7,37.7 137.0,40.0 137.2,39.7 137.4,43.0 137.6,42.1 137.8,44.7 138.0,45.5 138.2,43.4 138.4,45.4 138.6,47.8 138.8,49.3 139.0,50.8 139.2,51.8 139.4,53.1 139.5,52.0 139.8,52.5 140.0,53.7 140.3,55.9 140.6,55.3 140.8,58.2 141.1,55.7 141.4,59.6 141.6,59.5 141.9,58.1 142.0,61.0 142.3,63.2 142.6,63.3 142.9,63.9 143.3,63.4 143.6,65.1 143.9,68.7 144.0,67.0 144.2,66.9 144.4,64.5 144.5,68.8 144.7,69.4 144.9,71.7 145.1,72.4 145.3,72.7 145.4,73.8 145.6,77.2 145.8,75.0 146.0,78.0 146.1,81.5 146.1,79.3 146.2,79.6 146.3,83.0 146.3,83.7 146.4,82.6 146.5,86.0 146.5,83.6 146.6,85.8 146.7,89.4 146.7,88.6 146.8,88.3 146.9,91.6 146.9,93.2 147.0,93.0 147.1,94.0 147.2,92.6 147.2,95.5 147.3,97.5 147.4,99.0 147.5,101.4 147.5,99.7 147.6,100.3 147.7,101.9 147.8,104.5 147.8,102.7 147.9,106.7 148.0,106.0 148.2,101.4 148.3,105.1 148.5,102.2 148.6,102.6 148.8,102.0 148.9,98.5 149.1,99.0 149.2,98.4 149.4,97.0 149.6,98.7 149.8,97.8 150.0,98.7 150.2,98.4 150.4,105.2 150.6,102.6 150.8,103.6 151.0,102.9 151.2,107.0 151.4,107.0 151.5,105.3 151.6,106.9 151.7,105.1 151.9,103.1 152.0,103.0 152.1,99.6 152.2,99.6 152.3,98.3 152.4,96.4 152.5,97.1 152.6,95.9 152.8,96.9 152.9,89.7 153.0,93.0 153.1,91.1 153.2,89.8 153.2,89.4 153.3,89.6 153.4,88.5 153.5,87.1 153.6,85.4 153.7,85.7 153.7,84.5 153.8,80.6 153.9,81.7 154.0,81.0 154.1,78.2 154.2,77.5 154.3,78.2 154.4,77.1 154.5,76.2 154.5,73.9 154.6,73.8 154.7,71.8 154.8,72.5 154.9,71.9 155.0,70.0 155.3,71.3 155.6,69.7 155.9,66.1 156.3,65.6 156.6,64.0 156.9,64.7 157.0,64.0 157.4,67.5 157.9,66.7 158.3,63.8 158.8,65.9 159.0,68.0 159.4,65.4 159.9,66.9 160.3,65.3 160.8,64.8 161.0,64.0 161.4,65.4 161.9,61.1 162.3,60.2 162.8,63.0 163.0,60.0 163.4,59.5 163.7,57.1 164.1,54.6 164.5,54.3 164.9,52.2 165.0,55.0 165.4,56.0 165.7,56.9 166.1,59.1 166.5,58.5 166.9,58.7 167.0,60.0 167.7,58.3 168.4,61.1 169.0,58.0 169.4,56.6 169.9,60.0 170.3,60.7 170.8,62.4 171.0,62.0 171.4,62.4 171.9,64.4 172.3,65.7 172.8,65.4 173.0,66.0 173.6,64.6 174.1,64.1 174.7,62.2 175.0,63.0 175.9,62.3 177.0,62.0 177.4,62.5 177.9,64.1 178.3,66.4 178.8,67.3 179.0,66.0 179.1,66.4 179.3,68.8 179.4,69.4 179.6,70.9 179.7,71.0 179.8,72.3 180.0,73.0 180.1,73.4 180.2,74.0 180.4,77.1 180.5,78.7 180.6,78.8 180.7,79.5 180.9,80.3 181.0,80.4 181.1,79.6 181.2,83.8 181.4,84.2 181.5,84.2 181.6,84.6 181.7,88.6 181.9,85.5 182.0,89.0 182.0,92.3 182.1,91.8 182.1,95.1 182.2,92.1 182.2,94.0 182.2,94.3 182.3,96.2 182.3,96.7 182.4,97.0 182.4,100.4 182.5,99.0 182.5,100.3 182.5,102.7 182.6,102.3 182.6,103.4 182.7,105.4 182.7,105.5 182.7,105.4 182.8,107.9 182.8,108.7 182.9,112.2 182.9,109.6 183.0,113.2 183.0,113.0 183.5,112.9 183.9,114.3 184.4,115.2 184.6,116.0 184.7,115.4 184.9,115.1 185.0,115.3 185.1,111.2 185.2,112.8 185.4,111.3 185.5,110.1 185.6,107.1 185.7,108.2 185.9,105.9 186.0,105.0 186.3,104.5 186.6,102.8 186.9,103.0 187.3,102.7 187.6,101.7 187.9,99.0 188.0,99.0 188.1,99.3 188.2,98.9 188.3,94.8 188.4,96.9 188.5,92.3 188.6,93.7 188.7,92.8 188.8,93.0 188.9,90.4 189.0,88.4 189.1,87.0 189.2,85.4 189.3,87.1 189.4,85.0 189.5,83.7 189.6,82.1 189.7,82.7 189.8,80.0 189.9,79.5 190.0,78.4 190.1,80.2 190.2,78.9 190.4,75.8 190.5,73.0 190.6,74.4 190.7,73.2 190.8,72.5 190.9,71.8 191.0,70.0 191.1,68.6 191.3,69.2 191.4,68.1 191.5,66.3 191.7,64.5 191.8,63.4 191.9,64.0 192.1,60.6 192.2,60.9 192.3,59.1 192.5,57.3 192.6,58.9 192.7,57.1 192.9,56.2 193.0,55.0 193.4,55.2 193.7,51.2 194.1,52.1 194.5,51.7 194.9,51.4 195.0,50.0 195.3,49.5 195.6,52.8 195.9,53.1 196.3,55.6 196.6,56.2 196.9,56.4 197.0,56.0 197.2,59.8 197.5,57.9 197.7,58.4 198.0,60.0 198.2,58.6 198.4,56.8 198.6,57.0 198.8,53.6 199.0,55.0 199.2,54.7 199.4,54.4 199.6,51.7 199.8,53.0 200.0,50.0 200.2,48.2 200.4,47.9 200.6,44.6 200.8,45.1 201.0,45.0 201.2,44.9 201.4,48.8 201.7,48.6 201.9,47.5 202.1,50.6 202.3,51.5 202.5,51.5 202.7,52.8 203.0,54.0 203.0,54.6 203.1,55.3 203.1,54.7 203.2,57.9 203.2,60.6 203.2,61.8 203.3,60.6 203.3,61.0 203.4,62.7 203.4,65.1 203.5,65.4 203.5,65.2 203.5,67.4 203.6,67.7 203.6,69.6 203.7,69.5 203.7,69.1 203.7,72.1 203.8,73.9 203.8,72.6 203.9,74.8 203.9,77.1 204.0,76.5 204.0,78.0 204.2,78.2 204.3,82.5 204.5,82.0 204.7,83.2 204.8,81.7 205.0,84.0 205.7,85.4 206.4,80.5 207.0,82.0 207.3,82.3 207.6,84.8 208.0,85.0 208.1,85.7 208.2,81.8 208.2,81.2 208.3,81.3 208.4,77.6 208.5,79.8 208.5,78.7 208.6,76.5 208.7,76.7 208.8,76.0 208.8,74.4 208.9,73.7 209.0,72.0 209.1,72.9 209.1,69.4 209.2,69.2 209.2,67.3 209.3,68.3 209.4,65.5 209.4,65.6 209.5,64.2 209.6,63.1 209.6,64.2 209.7,60.9 209.7,61.8 209.8,60.1 209.9,59.7 209.9,56.8 210.0,57.2 210.1,56.0 210.1,53.3 210.2,53.4 210.2,51.9 210.3,51.0 210.4,51.7 210.4,48.1 210.5,48.0 210.7,44.9 211.0,46.0 211.2,44.8 211.4,47.4 211.6,48.1 211.7,49.9 211.9,51.6 212.1,54.1 212.3,53.3 212.5,54.0 212.6,55.6 212.7,55.1 212.8,57.7 212.9,59.7 213.0,60.7 213.1,57.5 213.2,62.1 213.4,63.9 213.5,64.0 213.6,62.1 213.7,64.6 213.8,66.7 213.9,67.4 214.0,68.0 214.1,68.0 214.3,68.9 214.4,72.2 214.6,70.3 214.7,74.7 214.8,74.0 215.0,75.3 215.1,74.2 215.3,76.2 215.4,78.8 215.6,77.0 215.7,82.5 215.8,79.1 216.0,82.0 216.1,81.5 216.2,84.0 216.2,85.6 216.3,86.9 216.4,86.5 216.5,87.7 216.6,88.7 216.7,89.3 216.7,87.7 216.8,93.2 216.9,93.3 217.0,94.0 217.3,95.1 217.7,95.1 218.0,97.1 218.4,98.0 218.8,97.1 219.1,96.0 219.5,96.6 219.9,92.1 220.0,94.0 220.3,93.4 220.6,90.8 220.9,90.8 221.3,92.1 221.6,87.9 221.9,88.2 222.0,88.0 222.1,88.3 222.2,91.2 222.2,89.8 222.3,89.9 222.4,93.6 222.5,93.5 222.6,94.6 222.7,97.3 222.7,95.9 222.8,97.5 222.9,99.1 223.0,100.0 223.1,99.5 223.2,97.4 223.3,98.3 223.4,98.8 223.5,94.5 223.6,96.4 223.7,90.4 223.8,93.8 223.9,90.6 224.0,90.0 224.2,89.2 224.5,87.6 224.7,86.3 225.0,84.5 225.2,84.7 225.5,85.8 225.7,84.6 226.0,82.0 226.2,82.5 226.5,83.3 226.7,84.0 227.0,86.0 227.2,83.5 227.5,86.3 227.7,83.9 228.0,82.3 228.2,80.5 228.5,78.9 228.7,80.9 229.0,78.0 229.1,78.0 229.2,74.8 229.3,76.2 229.4,72.6 229.5,73.8 229.6,70.8 229.7,70.5 229.8,70.7 229.9,69.6 230.0,68.0 230.6,68.5 231.3,65.4 231.7,66.0 232.1,67.1 232.6,65.9 233.0,63.3 233.5,63.0 233.7,62.0 234.4,60.3 235.1,60.4 235.7,60.0 236.4,57.6 237.1,58.7 237.7,58.0 238.4,59.0 239.1,61.1 239.7,60.0 240.4,60.5 241.1,59.6 241.6,58.0 241.8,58.5 241.9,59.7 242.1,60.5 242.3,62.2 242.5,60.5 242.6,64.9 242.8,62.9 243.0,66.0 243.1,66.4 243.2,68.0 243.2,68.3 243.3,72.1 243.4,70.9 243.5,73.9 243.6,74.4 243.7,73.4 243.7,75.5 243.8,77.6 243.9,76.5 244.0,78.0 244.7,78.8 245.4,78.7 246.0,80.0 246.2,81.0 246.5,81.5 246.7,83.0 247.0,84.0 247.2,86.2 247.4,87.7 247.6,87.1 247.8,88.2 248.0,90.0 248.2,89.5 248.4,89.5 248.6,92.0 249.3,94.1 249.6,93.0 249.7,90.8 249.8,92.2 249.8,88.8 249.9,91.3 250.0,86.7 250.1,88.1 250.2,87.9 250.3,83.8 250.3,85.9 250.4,82.0 250.5,82.0 250.6,78.8 250.6,80.9 250.7,79.9 250.7,77.8 250.8,73.9 250.9,75.9 250.9,74.6 251.0,73.5 251.1,72.7 251.1,69.8 251.2,70.3 251.2,72.3 251.3,71.0 251.4,67.6 251.4,66.1 251.5,66.0 251.6,65.5 251.8,65.3 251.9,63.9 252.1,60.6 252.2,61.3 252.3,60.2 252.5,60.9 252.6,59.6 252.8,57.7 252.9,57.6 253.1,54.6 253.2,56.0 253.3,52.6 253.5,52.0 253.7,51.5 254.0,51.2 254.2,47.9 254.5,47.2 254.7,45.0 255.0,46.4 255.2,45.1 255.5,44.0 256.4,43.1 257.5,43.0 257.9,42.7 258.2,38.5 258.6,40.2 259.0,39.4 259.4,38.0 259.5,38.0 259.8,38.0 260.1,38.3 260.4,34.6 260.8,33.0 261.1,32.5 261.4,32.4 261.5,32.0 261.9,31.8 262.5,30.0 262.7,29.9 262.8,33.2 263.0,31.7 263.2,35.0 263.3,35.5 263.5,36.0 263.9,35.7 264.3,36.9 264.7,32.9 264.8,33.0" fill="none" stroke="#3fe1e3" stroke-width="0.85" stroke-linejoin="round" stroke-opacity="1.0"/>
<polyline points="21.4,46.0 21.7,46.8 21.9,48.5 22.2,50.0 22.4,48.2 22.7,51.2 23.0,52.0 23.2,52.1 23.4,54.7 23.6,56.7 23.8,56.0 24.0,56.8 24.2,58.1 24.4,55.2 24.6,60.0 24.8,61.9 25.0,62.7 25.2,63.1 25.4,63.4 25.6,64.0 25.8,66.0 26.1,66.7 26.3,69.4 26.6,69.0 26.8,67.9 26.9,68.7 27.1,62.8 27.3,64.5 27.5,64.4 27.6,63.1 27.8,60.0 28.0,61.0 28.3,59.2 28.6,60.7 28.9,56.5 29.3,56.0 29.6,54.9 29.9,54.6 30.0,55.0 30.7,56.5 31.4,57.2 32.0,57.0 32.6,55.3 33.2,60.4 33.8,58.7 34.3,59.5 34.9,61.0 35.2,64.0 35.5,62.8 35.7,62.3 36.0,64.0 36.3,64.9 36.6,65.5 36.8,67.5 37.0,66.1 37.2,66.6 37.4,65.0 37.5,61.8 37.7,66.1 37.9,60.4 38.1,60.8 38.3,59.7 38.5,59.6 38.7,57.3 38.8,57.0 39.0,56.6 39.1,57.7 39.3,54.2 39.5,51.7 39.6,52.5 39.8,50.1 40.0,49.6 40.1,49.3 40.3,48.5 40.4,46.8 40.6,47.2 40.8,45.0 41.0,43.8 41.3,41.4 41.5,43.2 41.8,40.7 42.0,41.7 42.3,38.4 42.5,38.9 42.8,37.0 43.1,36.5 43.5,31.8 43.8,32.3 44.2,31.8 44.5,34.1 44.6,32.0 45.0,30.5 45.4,35.0 45.9,36.1 46.0,35.0 46.2,36.6 46.5,37.8 46.7,37.3 47.0,39.0 47.2,40.0 47.4,41.2 47.5,42.5 47.7,43.8 47.9,43.7 48.1,44.0 48.2,45.2 48.4,47.4 48.6,48.0 49.0,45.0 49.5,44.6 49.9,44.8 50.4,43.7 50.6,44.0 50.9,42.7 51.2,38.8 51.6,40.7 51.9,39.9 52.2,40.2 52.5,35.9 52.9,37.0 53.0,37.0 53.6,36.8 54.1,35.9 54.7,36.0 55.0,34.0 55.8,34.8 56.7,31.6 57.5,33.1 58.0,32.0 58.3,32.5 58.5,32.9 58.8,36.8 59.1,35.1 59.4,37.0 60.0,36.8 60.5,38.2 61.1,38.4 61.4,40.0 61.8,42.2 62.3,42.3 62.7,44.4 63.2,44.1 63.4,44.0 63.9,44.1 64.5,47.0 65.0,45.7 65.6,46.8 66.0,48.0 66.5,48.6 67.1,49.7 67.6,52.0 68.2,50.6 68.6,52.0 68.8,51.5 69.1,50.0 69.3,47.5 69.5,46.7 69.7,46.9 70.0,46.0 70.2,47.5 70.4,48.4 70.6,49.5 70.8,50.0 71.0,50.3 71.2,52.4 71.4,51.6 71.6,52.2 71.8,54.4 72.0,56.0 72.2,53.2 72.4,53.4 72.6,52.1 72.8,51.4 73.1,51.1 73.3,49.1 73.5,48.6 73.7,46.0 73.9,47.4 74.1,45.1 74.3,45.8 74.5,40.7 74.6,44.0 74.9,43.9 75.3,46.2 75.6,43.8 76.0,48.0 76.7,46.8 77.4,46.7 78.0,46.0 78.3,47.1 78.6,46.0 78.9,49.1 79.3,50.0 79.6,49.5 79.9,52.6 80.0,52.0 80.4,51.0 80.7,50.2 81.1,48.7 81.5,49.0 81.9,47.5 82.0,47.0 82.4,49.3 82.9,49.4 83.3,48.9 83.8,50.3 84.0,51.0 84.4,53.0 84.9,52.3 85.3,54.2 85.8,55.2 86.0,55.0 86.6,53.9 87.1,50.4 87.7,52.7 88.0,52.0 88.7,53.0 89.4,53.6 90.0,54.0 90.6,52.2 91.1,53.9 91.7,51.3 92.0,51.0 92.2,49.2 92.5,48.2 92.7,48.5 93.0,45.7 93.2,44.9 93.5,47.7 93.7,45.9 94.0,43.0 94.4,45.2 95.0,45.0 95.7,47.4 96.4,47.2 97.0,47.0 97.7,45.6 98.4,49.9 99.0,49.0 99.9,50.1 101.0,48.0 101.3,49.6 101.5,47.5 101.8,52.4 102.1,53.6 102.4,52.2 102.6,53.9 102.9,55.7 103.0,55.0 103.4,54.0 103.9,54.6 104.3,52.4 104.7,52.3 105.2,50.6 105.4,50.0 105.6,49.1 105.8,50.7 105.9,56.9 106.1,54.3 106.3,56.6 106.5,57.3 106.7,59.0 106.8,58.6 107.0,58.1 107.2,59.9 107.4,61.0 108.1,59.3 108.7,62.3 109.4,64.4 110.0,64.0 110.3,60.3 110.5,62.3 110.8,62.1 111.0,61.8 111.3,58.0 111.5,57.4 111.8,54.9 112.0,55.0 112.3,56.0 112.5,56.9 112.6,54.0 112.9,53.5 113.3,57.6 113.6,57.4 114.0,58.0 114.3,58.3 114.5,62.7 114.8,57.7 115.1,61.8 115.4,63.1 115.6,66.5 115.9,67.0 116.0,65.0 116.2,66.9 116.5,63.2 116.7,63.3 117.0,61.0 117.9,62.3 119.0,60.0 119.1,61.6 119.3,62.4 119.4,62.7 119.5,63.4 119.7,63.4 119.8,68.4 119.9,66.4 120.1,65.3 120.2,69.3 120.3,69.9 120.5,71.1 120.6,74.2 120.7,72.8 120.9,73.5 121.0,75.0 121.4,75.0 121.7,76.8 122.1,77.2 122.5,79.0 122.6,79.0 122.8,83.9 123.1,81.4 123.3,80.8 123.5,85.3 123.7,85.0 124.0,85.0 124.1,85.0 124.3,83.9 124.4,83.1 124.6,81.9 124.7,81.8 124.8,80.3 125.0,79.8 125.1,76.4 125.2,76.1 125.4,75.0 125.7,73.1 125.9,74.3 126.2,73.2 126.4,70.5 126.7,70.9 127.0,69.0 127.1,71.3 127.2,68.6 127.4,64.6 127.5,64.9 127.6,64.8 127.7,63.0 127.9,62.5 128.0,61.0 128.2,61.5 128.4,59.5 128.6,56.7 128.8,58.0 129.0,56.0 129.2,55.3 129.4,53.4 129.6,51.4 129.8,50.6 130.0,51.0 130.1,49.6 130.2,47.7 130.3,44.6 130.4,48.5 130.5,44.5 130.5,44.1 130.6,44.7 130.7,40.0 130.8,43.7 130.9,40.1 131.0,40.0 131.3,39.9 131.5,37.5 131.8,37.5 132.1,36.3 132.4,35.2 132.6,31.9 132.9,31.4 133.0,33.0 133.6,32.1 134.2,33.2 134.5,31.0 134.8,31.3 135.1,33.6 135.4,34.1 135.6,35.4 136.0,36.0 136.1,38.3 136.2,36.1 136.3,39.3 136.4,39.8 136.6,40.6 136.7,40.9 136.8,42.0 136.9,42.6 137.0,45.0 137.4,44.5 137.7,50.1 138.1,50.0 138.4,48.8 138.8,50.6 139.1,49.4 139.5,48.0 139.8,50.2 140.0,53.0 140.3,54.1 140.6,56.7 140.9,55.8 141.1,55.6 141.4,57.5 141.7,57.5 142.0,57.9 142.3,60.4 142.6,61.1 142.9,61.5 143.0,63.0 143.2,62.8 143.5,63.8 143.7,66.2 144.0,68.6 144.2,67.6 144.5,71.7 144.7,67.7 145.0,71.0 145.2,72.3 145.4,71.5 145.6,73.7 145.8,75.1 146.0,76.6 146.2,78.3 146.4,77.2 146.6,77.3 146.8,79.6 147.0,81.0 147.3,82.3 147.6,82.0 147.9,85.0 148.3,86.9 148.6,83.9 148.9,87.2 149.0,87.0 149.7,87.6 150.4,83.2 151.0,85.0 151.4,86.2 151.7,86.6 152.1,86.0 152.5,90.4 152.9,89.9 153.0,90.0 153.1,88.4 153.2,88.6 153.4,87.8 153.5,87.0 153.6,85.8 153.7,84.6 153.8,81.6 153.9,81.5 154.1,81.2 154.2,76.6 154.3,81.8 154.4,77.6 154.5,75.8 154.6,73.8 154.8,75.4 154.9,74.2 155.0,73.0 155.2,73.2 155.5,74.4 155.7,74.8 156.0,75.9 156.2,77.7 156.5,78.0 156.7,80.7 157.0,81.0 157.3,79.9 157.6,79.3 157.9,78.7 158.3,78.8 158.6,77.0 158.9,75.6 159.0,75.0 159.1,73.8 159.3,72.0 159.4,71.6 159.6,71.9 159.7,70.3 159.8,68.6 160.0,66.4 160.1,65.1 160.3,66.5 160.4,66.4 160.6,64.6 160.7,61.4 160.8,61.9 161.0,61.0 161.3,60.3 161.6,57.9 161.9,58.6 162.3,57.0 162.6,55.2 162.9,53.7 163.0,55.0 163.3,55.1 163.6,53.6 163.9,51.0 164.3,49.9 164.6,51.4 164.9,50.1 165.0,49.0 165.7,47.9 166.4,49.6 167.0,47.0 167.3,47.6 167.6,47.6 167.9,51.2 168.3,50.6 168.6,52.2 168.9,52.7 169.0,53.0 169.4,52.6 169.9,53.3 170.3,55.4 170.8,58.4 171.0,57.0 171.7,56.4 172.4,60.1 173.0,59.0 173.4,60.2 173.9,59.4 174.3,62.0 174.8,63.3 175.0,63.0 175.2,60.9 175.4,58.3 175.6,60.5 175.8,57.7 176.0,58.7 176.2,54.7 176.4,56.0 176.6,54.1 176.8,52.3 177.0,53.0 177.4,51.8 177.9,51.4 178.3,49.6 178.8,47.9 179.0,49.0 179.7,50.0 180.4,48.2 181.0,51.0 181.1,52.7 181.3,53.6 181.4,56.1 181.6,56.1 181.7,56.4 181.8,57.3 182.0,58.0 182.1,57.2 182.3,61.8 182.4,61.6 182.6,61.5 182.7,61.4 182.8,65.7 183.0,65.0 183.2,66.7 183.4,65.5 183.6,68.8 183.8,71.3 184.0,69.9 184.2,71.4 184.4,71.3 184.6,72.1 184.8,75.2 185.0,75.0 185.1,79.9 185.3,77.1 185.4,77.8 185.5,80.0 185.7,79.6 185.8,81.9 185.9,83.0 186.1,81.6 186.2,82.6 186.3,84.8 186.5,87.0 186.6,87.0 186.8,88.3 187.1,90.5 187.3,88.2 187.5,91.5 187.7,91.1 188.0,93.0 188.1,92.1 188.2,91.4 188.4,88.8 188.5,88.7 188.6,86.6 188.7,87.4 188.9,85.0 189.0,84.4 189.1,84.3 189.2,82.3 189.4,83.5 189.5,80.3 189.6,81.2 189.7,79.5 189.9,76.8 190.0,77.0 190.2,75.7 190.4,74.0 190.6,73.6 190.8,72.7 191.0,74.4 191.2,70.6 191.4,72.1 191.6,69.7 191.8,66.5 192.0,67.0 192.2,63.1 192.4,65.9 192.6,61.5 192.8,64.0 193.0,63.4 193.2,61.6 193.4,59.9 193.6,58.8 193.8,58.5 194.0,57.0 194.2,55.6 194.5,54.4 194.7,53.6 195.0,54.6 195.2,51.4 195.5,51.7 195.7,48.8 196.0,49.0 197.0,48.1 198.0,49.0 198.6,48.1 199.1,50.4 199.7,52.4 200.0,52.0 200.2,53.4 200.5,53.3 200.7,55.7 201.0,55.4 201.2,57.3 201.5,58.0 201.7,59.3 201.9,60.6 202.1,57.8 202.2,60.3 202.4,63.9 202.6,63.8 202.8,67.7 203.0,66.0 203.1,66.7 203.1,67.3 203.2,70.9 203.3,70.7 203.4,73.4 203.4,72.6 203.5,72.7 203.6,74.9 203.6,74.0 203.7,75.4 203.8,76.3 203.9,77.7 203.9,79.9 204.0,80.0 204.2,78.4 204.4,78.4 204.6,76.4 204.8,77.2 205.0,75.0 206.0,71.5 207.0,74.7 208.0,75.0 208.1,74.2 208.2,71.7 208.3,73.3 208.4,71.3 208.5,71.6 208.6,70.2 208.7,68.8 208.8,66.9 208.9,64.7 209.0,64.8 209.1,63.5 209.2,63.4 209.3,61.5 209.4,61.0 209.5,63.8 209.6,57.0 209.7,59.5 209.7,56.4 209.8,55.7 209.9,56.2 210.0,54.0 210.1,51.5 210.2,52.6 210.2,50.8 210.3,47.5 210.4,49.3 210.5,48.0 210.7,45.7 210.9,45.1 211.1,45.7 211.3,44.5 211.5,42.7 211.8,44.9 212.0,41.0 212.4,42.5 212.7,42.1 213.1,44.1 213.5,44.6 213.9,42.9 214.0,46.0 214.3,43.1 214.6,42.4 214.9,45.7 215.3,42.0 215.6,40.9 215.9,39.6 216.0,40.0 216.3,40.3 216.5,38.1 216.8,39.3 217.1,37.1 217.4,37.3 217.6,34.1 217.9,33.7 218.0,33.0 218.4,33.4 218.7,34.6 219.1,33.6 219.5,36.0 219.9,36.4 220.0,38.0 220.2,38.2 220.5,41.5 220.7,41.2 221.0,43.4 221.2,43.9 221.5,45.0 221.7,46.1 222.0,46.0 222.4,46.2 222.7,48.9 223.1,48.4 223.5,49.0 223.9,52.1 224.0,51.0 224.9,54.2 226.0,52.0 226.4,51.7 226.9,56.0 227.3,55.7 227.8,54.5 228.0,56.0 228.4,55.4 228.9,54.7 229.3,53.8 229.8,52.0 230.0,52.0 230.2,49.4 230.5,50.1 230.7,50.2 231.0,49.1 231.2,48.0 231.5,47.6 231.7,44.0 232.0,44.0 233.0,43.9 234.0,44.0 234.4,43.5 234.9,43.5 235.3,41.5 235.8,41.1 236.0,40.0 237.0,40.2 238.0,40.0 238.3,43.6 238.6,39.2 238.9,42.8 239.3,46.9 239.6,45.0 239.9,43.4 240.0,46.0 240.7,45.5 241.4,42.8 242.0,44.0 242.2,44.1 242.5,46.2 242.7,49.1 243.0,48.5 243.2,49.7 243.5,50.0 244.1,52.1 244.6,51.9 245.2,51.4 245.5,53.0 246.1,53.7 246.6,55.1 247.2,55.1 247.5,56.0 248.2,54.5 248.9,54.1 249.5,54.0 249.8,51.2 250.1,50.8 250.4,51.0 250.8,49.8 251.1,49.3 251.4,50.1 251.5,48.0 251.9,47.4 252.2,46.1 252.6,43.7 253.0,42.9 253.4,43.8 253.5,43.0 253.9,41.0 254.2,41.7 254.6,38.9 255.0,39.5 255.4,38.3 255.5,38.0 256.2,38.5 256.9,36.1 257.5,36.0 258.2,34.8 258.9,34.9 259.5,34.0 259.9,33.1 260.2,34.3 260.6,30.9 261.0,29.6 261.4,29.0 261.5,29.0 262.1,30.4 262.6,31.0 263.2,32.4 263.5,32.0 264.0,29.4 264.6,33.4 264.8,30.0" fill="none" stroke="#ec6a6a" stroke-width="0.85" stroke-linejoin="round" stroke-opacity="1.0"/>
<text x="16.10" y="21.94" text-anchor="end" style="font-family:'Liberation Serif',serif;font-size:3.95px;font-weight:normal" fill="#1a1a1a" stroke="#1a1a1a" stroke-width="0.16">100</text>
<text x="16.10" y="32.22" text-anchor="end" style="font-family:'Liberation Serif',serif;font-size:3.95px;font-weight:normal" fill="#1a1a1a" stroke="#1a1a1a" stroke-width="0.16">98</text>
<text x="16.10" y="43.00" text-anchor="end" style="font-family:'Liberation Serif',serif;font-size:3.95px;font-weight:normal" fill="#1a1a1a" stroke="#1a1a1a" stroke-width="0.16">96</text>
<text x="16.10" y="53.78" text-anchor="end" style="font-family:'Liberation Serif',serif;font-size:3.95px;font-weight:normal" fill="#1a1a1a" stroke="#1a1a1a" stroke-width="0.16">94</text>
<text x="16.10" y="64.56" text-anchor="end" style="font-family:'Liberation Serif',serif;font-size:3.95px;font-weight:normal" fill="#1a1a1a" stroke="#1a1a1a" stroke-width="0.16">92</text>
<text x="16.10" y="75.34" text-anchor="end" style="font-family:'Liberation Serif',serif;font-size:3.95px;font-weight:normal" fill="#1a1a1a" stroke="#1a1a1a" stroke-width="0.16">90</text>
<text x="16.10" y="86.12" text-anchor="end" style="font-family:'Liberation Serif',serif;font-size:3.95px;font-weight:normal" fill="#1a1a1a" stroke="#1a1a1a" stroke-width="0.16">88</text>
<text x="16.10" y="96.90" text-anchor="end" style="font-family:'Liberation Serif',serif;font-size:3.95px;font-weight:normal" fill="#1a1a1a" stroke="#1a1a1a" stroke-width="0.16">86</text>
<text x="16.10" y="107.68" text-anchor="end" style="font-family:'Liberation Serif',serif;font-size:3.95px;font-weight:normal" fill="#1a1a1a" stroke="#1a1a1a" stroke-width="0.16">84</text>
<text x="16.10" y="118.46" text-anchor="end" style="font-family:'Liberation Serif',serif;font-size:3.95px;font-weight:normal" fill="#1a1a1a" stroke="#1a1a1a" stroke-width="0.16">82</text>
<text x="18.23" y="133.30" text-anchor="middle" style="font-family:'Liberation Serif',serif;font-size:3.95px;font-weight:normal" fill="#1a1a1a" stroke="#1a1a1a" stroke-width="0.16">0</text>
<text x="39.57" y="133.30" text-anchor="middle" style="font-family:'Liberation Serif',serif;font-size:3.95px;font-weight:normal" fill="#1a1a1a" stroke="#1a1a1a" stroke-width="0.16">600</text>
<text x="60.91" y="133.30" text-anchor="middle" style="font-family:'Liberation Serif',serif;font-size:3.95px;font-weight:normal" fill="#1a1a1a" stroke="#1a1a1a" stroke-width="0.16">1200</text>
<text x="82.26" y="133.30" text-anchor="middle" style="font-family:'Liberation Serif',serif;font-size:3.95px;font-weight:normal" fill="#1a1a1a" stroke="#1a1a1a" stroke-width="0.16">1800</text>
<text x="103.60" y="133.30" text-anchor="middle" style="font-family:'Liberation Serif',serif;font-size:3.95px;font-weight:normal" fill="#1a1a1a" stroke="#1a1a1a" stroke-width="0.16">2400</text>
<text x="124.94" y="133.30" text-anchor="middle" style="font-family:'Liberation Serif',serif;font-size:3.95px;font-weight:normal" fill="#1a1a1a" stroke="#1a1a1a" stroke-width="0.16">3000</text>
<text x="146.28" y="133.30" text-anchor="middle" style="font-family:'Liberation Serif',serif;font-size:3.95px;font-weight:normal" fill="#1a1a1a" stroke="#1a1a1a" stroke-width="0.16">3600</text>
<text x="167.62" y="133.30" text-anchor="middle" style="font-family:'Liberation Serif',serif;font-size:3.95px;font-weight:normal" fill="#1a1a1a" stroke="#1a1a1a" stroke-width="0.16">4200</text>
<text x="188.97" y="133.30" text-anchor="middle" style="font-family:'Liberation Serif',serif;font-size:3.95px;font-weight:normal" fill="#1a1a1a" stroke="#1a1a1a" stroke-width="0.16">4800</text>
<text x="210.31" y="133.30" text-anchor="middle" style="font-family:'Liberation Serif',serif;font-size:3.95px;font-weight:normal" fill="#1a1a1a" stroke="#1a1a1a" stroke-width="0.16">5400</text>
<text x="231.65" y="133.30" text-anchor="middle" style="font-family:'Liberation Serif',serif;font-size:3.95px;font-weight:normal" fill="#1a1a1a" stroke="#1a1a1a" stroke-width="0.16">6000</text>
<text x="252.99" y="133.30" text-anchor="middle" style="font-family:'Liberation Serif',serif;font-size:3.95px;font-weight:normal" fill="#1a1a1a" stroke="#1a1a1a" stroke-width="0.16">6600</text>
<text x="267.29" y="133.30" text-anchor="middle" style="font-family:'Liberation Serif',serif;font-size:3.95px;font-weight:normal" fill="#1a1a1a" stroke="#1a1a1a" stroke-width="0.16">7002</text>
<text x="145.25" y="137.80" text-anchor="middle" style="font-family:'Liberation Sans',sans-serif;font-size:3.95px;font-weight:bold" fill="#111" stroke="#111" stroke-width="0.08">Nucleotide Position</text>
<text transform="translate(9.60,70.50) rotate(-90)" text-anchor="middle" style="font-family:'Liberation Sans',sans-serif;font-size:3.95px;font-weight:bold" fill="#111" stroke="#111" stroke-width="0.08">Similarity Score</text>
<rect x="59.5" y="23.9" width="69.50" height="6.40" fill="#fff" stroke="#8c8c8c" stroke-width="0.6"/><line x1="59.8" y1="23.9" x2="128.7" y2="23.9" stroke="#cfcfcf" stroke-width="0.7"/><text x="61.00" y="28.30" text-anchor="start" style="font-family:'Liberation Sans',sans-serif;font-size:3.97px;font-weight:bold" fill="#111" stroke="#111" stroke-width="0.2">Query Sequence: MZ493232</text>
<rect x="228.2" y="96.9" width="37.70" height="28.10" fill="#fff" stroke="#7a7a7a" stroke-width="0.6"/><line x1="230.3" y1="100.2" x2="243.4" y2="100.2" stroke="#f27fa5" stroke-width="1.6"/><text x="244.70" y="101.58" text-anchor="start" style="font-family:'Liberation Serif',serif;font-size:4.06px;font-weight:normal" fill="#111" stroke="#111" stroke-width="0.08">MH794435</text><line x1="230.3" y1="105.2" x2="243.4" y2="105.2" stroke="#1f9a55" stroke-width="1.6"/><text x="244.70" y="106.58" text-anchor="start" style="font-family:'Liberation Serif',serif;font-size:4.06px;font-weight:normal" fill="#111" stroke="#111" stroke-width="0.08">MH794434</text><line x1="230.3" y1="110.3" x2="243.4" y2="110.3" stroke="#f4913e" stroke-width="1.6"/><text x="244.70" y="111.68" text-anchor="start" style="font-family:'Liberation Serif',serif;font-size:4.06px;font-weight:normal" fill="#111" stroke="#111" stroke-width="0.08">JN006720</text><line x1="230.3" y1="115.3" x2="243.4" y2="115.3" stroke="#3fe3e3" stroke-width="1.6"/><text x="244.70" y="116.68" text-anchor="start" style="font-family:'Liberation Serif',serif;font-size:4.06px;font-weight:normal" fill="#111" stroke="#111" stroke-width="0.08">JN006722</text><line x1="230.3" y1="120.3" x2="243.4" y2="120.3" stroke="#ff2a2a" stroke-width="1.6"/><text x="244.70" y="121.68" text-anchor="start" style="font-family:'Liberation Serif',serif;font-size:4.06px;font-weight:normal" fill="#111" stroke="#111" stroke-width="0.08">MZ493233</text>
<text x="7.50" y="11.90" text-anchor="start" style="font-family:'Liberation Sans',sans-serif;font-size:10.8px;font-weight:bold" fill="#000" stroke="#000" stroke-width="0.08">a</text>
<line x1="293.2" y1="123.20" x2="537.5" y2="123.20" stroke="#dfdfdf" stroke-width="0.9"/><line x1="293.2" y1="118.25" x2="537.5" y2="118.25" stroke="#dfdfdf" stroke-width="0.9"/><line x1="293.2" y1="113.29" x2="537.5" y2="113.29" stroke="#dfdfdf" stroke-width="0.9"/><line x1="293.2" y1="108.34" x2="537.5" y2="108.34" stroke="#dfdfdf" stroke-width="0.9"/><line x1="293.2" y1="103.38" x2="537.5" y2="103.38" stroke="#dfdfdf" stroke-width="0.9"/><line x1="293.2" y1="98.43" x2="537.5" y2="98.43" stroke="#dfdfdf" stroke-width="0.9"/><line x1="293.2" y1="93.47" x2="537.5" y2="93.47" stroke="#dfdfdf" stroke-width="0.9"/><line x1="293.2" y1="88.52" x2="537.5" y2="88.52" stroke="#dfdfdf" stroke-width="0.9"/><line x1="293.2" y1="83.56" x2="537.5" y2="83.56" stroke="#dfdfdf" stroke-width="0.9"/><line x1="293.2" y1="78.61" x2="537.5" y2="78.61" stroke="#dfdfdf" stroke-width="0.9"/><line x1="293.2" y1="73.65" x2="537.5" y2="73.65" stroke="#dfdfdf" stroke-width="0.9"/><line x1="293.2" y1="68.69" x2="537.5" y2="68.69" stroke="#dfdfdf" stroke-width="0.9"/><line x1="293.2" y1="63.74" x2="537.5" y2="63.74" stroke="#dfdfdf" stroke-width="0.9"/><line x1="293.2" y1="58.78" x2="537.5" y2="58.78" stroke="#dfdfdf" stroke-width="0.9"/><line x1="293.2" y1="53.83" x2="537.5" y2="53.83" stroke="#dfdfdf" stroke-width="0.9"/><line x1="293.2" y1="48.88" x2="537.5" y2="48.88" stroke="#dfdfdf" stroke-width="0.9"/><line x1="293.2" y1="43.92" x2="537.5" y2="43.92" stroke="#dfdfdf" stroke-width="0.9"/><line x1="293.2" y1="38.97" x2="537.5" y2="38.97" stroke="#dfdfdf" stroke-width="0.9"/><line x1="293.2" y1="34.01" x2="537.5" y2="34.01" stroke="#dfdfdf" stroke-width="0.9"/><line x1="293.2" y1="29.06" x2="537.5" y2="29.06" stroke="#dfdfdf" stroke-width="0.9"/><line x1="293.2" y1="24.10" x2="537.5" y2="24.10" stroke="#dfdfdf" stroke-width="0.9"/><polyline points="293.2,20.5 537.5,20.5 537.5,126.5" fill="none" stroke="#cdcdcd" stroke-width="1"/><polyline points="293.2,20.5 293.2,126.5 537.5,126.5" fill="none" stroke="#a6a6a6" stroke-width="1.4"/>
<polyline points="293.5,123.0 294.5,123.0 295.5,123.0 296.5,123.0 297.5,123.0 298.5,123.0 299.5,123.0 300.5,123.0 301.5,123.0 302.5,123.0 303.5,123.0 304.5,123.0 305.5,123.0 306.5,123.0 307.5,123.0 308.5,123.0 309.5,123.0 310.5,123.0 311.5,123.0 312.5,123.0 313.5,123.0 314.5,123.0 315.5,123.0 316.5,123.0 317.5,123.0 318.5,123.0 319.5,123.0 320.5,123.0 321.5,123.0 322.5,123.0 323.5,123.0 324.5,123.0 325.5,123.0 326.5,123.0 327.5,123.0 328.5,123.0 329.5,123.0 330.5,123.0 331.5,123.0 332.5,123.0 333.5,123.0 334.5,123.0 335.5,123.0 336.5,123.0 337.5,123.0 338.5,123.0 339.5,123.0 340.5,123.0 341.5,123.0 342.5,123.0 343.5,123.0 344.5,123.0 345.5,123.0 346.5,123.0 347.5,123.0 348.5,123.0 349.5,123.0 350.5,123.0 351.5,123.0 352.5,123.0 353.5,123.0 354.5,123.0 355.5,123.0 356.5,123.0 357.5,123.0 358.5,123.0 359.5,123.0 360.5,123.0 361.5,123.0 362.5,123.0 363.5,123.0 364.5,123.0 365.5,123.0 366.5,123.0 367.5,123.0 368.5,123.0 369.5,123.0 370.5,123.0 371.5,123.0 372.5,123.0 373.5,123.0 374.5,123.0 375.5,123.0 376.5,123.0 377.5,123.0 378.5,123.0 379.5,123.0 380.5,123.0 381.5,123.0 382.5,123.0 383.5,123.0 384.5,123.0 385.5,123.0 386.5,123.0 387.5,123.0 388.5,123.0 389.5,123.0 390.5,123.0 391.5,123.0 392.5,123.0 393.0,123.0 393.1,123.0 393.2,121.0 393.4,119.2 393.5,119.1 393.6,118.3 393.7,115.5 393.9,116.1 394.0,115.0 394.2,113.0 394.3,113.3 394.5,113.0 394.7,111.8 394.8,109.1 395.0,109.0 395.1,110.9 395.2,111.6 395.3,111.7 395.4,113.3 395.6,115.0 395.7,114.7 395.8,115.9 395.9,116.6 396.0,118.0 396.2,119.8 396.4,118.5 396.6,121.9 396.8,121.3 397.0,123.0 397.0,122.6 397.1,119.9 397.1,119.4 397.1,118.6 397.2,118.6 397.2,115.9 397.2,116.4 397.2,114.6 397.3,114.8 397.3,112.8 397.3,112.3 397.4,110.9 397.4,111.2 397.4,108.8 397.5,108.0 397.5,108.3 397.5,106.1 397.5,105.5 397.6,103.5 397.6,103.1 397.6,100.5 397.7,101.1 397.7,99.6 397.7,98.0 397.8,97.1 397.8,97.8 397.8,96.3 397.8,94.0 397.9,95.2 397.9,92.5 397.9,91.8 398.0,91.2 398.0,90.0 398.0,88.2 398.0,86.9 398.1,86.5 398.1,86.8 398.1,85.6 398.1,82.9 398.1,83.8 398.2,82.0 398.2,81.3 398.2,80.0 398.2,79.3 398.3,77.3 398.3,76.4 398.3,75.5 398.3,74.8 398.3,74.4 398.4,72.2 398.4,73.1 398.4,70.6 398.4,69.6 398.4,69.5 398.5,68.3 398.5,66.8 398.5,65.3 398.5,64.3 398.6,62.9 398.6,63.8 398.6,62.0 398.6,63.7 398.7,65.3 398.7,65.3 398.7,66.2 398.8,67.5 398.8,68.6 398.8,68.8 398.9,70.2 398.9,72.4 398.9,70.9 399.0,72.0 399.0,73.3 399.0,75.5 399.1,76.8 399.1,76.8 399.1,78.4 399.2,79.0 399.2,80.0 399.2,81.2 399.2,81.6 399.3,83.0 399.3,84.0 399.3,85.8 399.3,87.5 399.3,85.8 399.3,88.4 399.4,89.0 399.4,90.7 399.4,91.7 399.4,92.5 399.4,93.5 399.5,93.4 399.5,93.8 399.5,97.1 399.5,97.8 399.5,97.4 399.6,99.9 399.6,100.4 399.6,99.3 399.6,102.6 399.6,102.3 399.6,104.8 399.7,104.5 399.7,105.5 399.7,106.0 399.7,107.8 399.7,109.7 399.8,109.5 399.8,109.7 399.8,113.4 399.8,114.2 399.8,114.5 399.9,114.6 399.9,115.2 399.9,115.9 399.9,118.4 399.9,119.9 399.9,119.3 400.0,121.0 400.0,121.8 400.0,123.0 401.0,123.0 402.0,123.0 403.0,123.0 404.0,123.0 405.0,123.0 405.0,121.8 405.1,121.3 405.1,121.4 405.2,118.6 405.2,118.6 405.3,117.7 405.3,115.8 405.3,114.9 405.4,113.1 405.4,113.7 405.5,111.7 405.5,110.6 405.6,110.1 405.6,108.4 405.7,107.3 405.7,106.8 405.7,107.0 405.8,104.9 405.8,104.4 405.9,102.0 405.9,100.7 406.0,102.2 406.0,100.0 406.0,98.7 406.1,97.0 406.1,96.9 406.1,96.4 406.1,93.8 406.2,93.4 406.2,93.2 406.2,91.4 406.2,91.5 406.3,90.7 406.3,89.3 406.3,87.7 406.3,87.0 406.4,85.6 406.4,84.9 406.4,84.2 406.4,82.8 406.5,82.7 406.5,82.8 406.5,79.6 406.6,79.2 406.6,78.6 406.6,77.4 406.6,75.8 406.7,74.7 406.7,74.7 406.7,73.4 406.7,72.4 406.8,70.5 406.8,70.4 406.8,69.5 406.8,67.9 406.9,67.4 406.9,67.5 406.9,63.7 406.9,64.4 407.0,62.2 407.0,62.0 407.0,62.1 407.1,63.8 407.1,65.4 407.2,66.0 407.2,66.2 407.2,67.0 407.3,68.6 407.3,70.0 407.3,70.4 407.4,71.0 407.4,74.2 407.5,73.4 407.5,75.0 407.5,75.9 407.5,76.6 407.6,77.6 407.6,79.0 407.6,79.8 407.6,81.4 407.6,81.2 407.6,82.0 407.7,85.3 407.7,84.9 407.7,86.5 407.7,87.8 407.7,88.4 407.7,89.0 407.8,88.9 407.8,89.9 407.8,92.7 407.8,93.5 407.8,94.4 407.9,93.9 407.9,94.6 407.9,96.3 407.9,97.2 407.9,99.1 407.9,99.3 408.0,102.1 408.0,101.6 408.0,103.0 408.1,103.6 408.1,105.6 408.2,106.2 408.2,106.4 408.3,108.5 408.4,110.3 408.4,109.2 408.5,110.8 408.6,111.3 408.6,111.7 408.7,114.4 408.7,115.5 408.8,116.6 408.9,117.3 408.9,116.6 409.0,119.0 409.3,119.9 409.6,120.4 410.0,122.0 411.0,121.3 412.0,121.5 413.0,122.9 414.0,122.4 414.9,123.0 415.9,123.0 417.0,123.0 417.0,120.7 417.1,121.6 417.1,120.9 417.1,119.0 417.2,117.2 417.2,118.2 417.2,115.1 417.2,114.9 417.3,112.7 417.3,112.2 417.3,110.8 417.4,111.7 417.4,110.8 417.4,108.7 417.5,107.1 417.5,107.0 417.5,106.3 417.5,104.0 417.6,103.2 417.6,102.9 417.6,102.5 417.7,101.1 417.7,100.3 417.7,98.2 417.8,96.3 417.8,97.2 417.8,95.4 417.8,94.9 417.9,93.8 417.9,93.3 417.9,91.5 418.0,92.0 418.0,90.0 418.0,89.0 418.0,88.4 418.1,87.4 418.1,86.7 418.1,85.3 418.1,82.8 418.2,82.6 418.2,83.3 418.2,81.3 418.2,80.4 418.3,79.3 418.3,77.6 418.3,76.5 418.3,75.6 418.4,75.8 418.4,74.3 418.4,74.2 418.4,72.3 418.5,72.3 418.5,70.3 418.5,68.2 418.5,69.2 418.6,67.2 418.6,66.8 418.6,65.2 418.6,63.8 418.7,63.1 418.7,61.2 418.7,60.2 418.7,59.4 418.8,58.6 418.8,57.1 418.8,56.9 418.8,56.2 418.9,56.4 418.9,55.3 418.9,53.0 418.9,52.6 419.0,50.9 419.0,50.0 419.1,51.3 419.2,52.0 419.4,52.6 419.5,54.0 419.6,53.9 419.7,56.3 419.9,56.7 420.0,58.0 420.0,58.3 420.0,59.8 420.1,61.4 420.1,61.5 420.1,63.3 420.1,64.4 420.2,66.1 420.2,65.2 420.2,66.9 420.2,68.3 420.2,70.0 420.3,70.2 420.3,71.5 420.3,71.0 420.3,72.6 420.4,75.1 420.4,74.8 420.4,77.5 420.4,76.5 420.5,77.8 420.5,77.9 420.5,80.0 420.5,81.4 420.5,82.2 420.5,84.4 420.5,84.1 420.6,84.8 420.6,85.0 420.6,86.9 420.6,88.7 420.6,89.5 420.6,90.8 420.6,91.6 420.6,92.0 420.7,93.4 420.7,94.1 420.7,94.1 420.7,97.2 420.7,97.3 420.7,97.3 420.7,99.3 420.7,100.2 420.7,101.7 420.8,103.0 420.8,100.9 420.8,104.4 420.8,106.1 420.8,105.3 420.8,105.7 420.8,108.2 420.8,109.2 420.8,110.2 420.9,110.2 420.9,111.7 420.9,113.1 420.9,114.5 420.9,116.5 420.9,116.2 420.9,116.6 420.9,116.4 421.0,119.7 421.0,119.9 421.0,120.9 421.0,121.3 421.0,123.0 422.0,123.0 423.0,123.0 423.0,122.5 423.0,119.8 423.1,120.1 423.1,119.1 423.1,118.2 423.1,117.9 423.2,115.9 423.2,115.1 423.2,114.6 423.2,111.9 423.3,111.8 423.3,111.1 423.3,110.7 423.3,108.4 423.3,108.6 423.4,107.3 423.4,105.0 423.4,104.0 423.4,103.0 423.5,103.1 423.5,102.1 423.5,101.5 423.5,100.6 423.6,98.6 423.6,98.8 423.6,97.6 423.6,96.3 423.7,95.3 423.7,93.1 423.7,93.3 423.7,91.3 423.7,90.2 423.8,89.8 423.8,89.1 423.8,88.0 423.8,86.8 423.9,85.3 423.9,85.1 423.9,83.5 423.9,82.0 424.0,82.1 424.0,82.0 424.0,80.0 424.0,78.7 424.0,77.3 424.1,78.0 424.1,77.2 424.1,74.8 424.1,73.9 424.2,73.1 424.2,74.1 424.2,71.1 424.2,70.7 424.3,69.3 424.3,66.7 424.3,66.2 424.3,65.1 424.3,65.3 424.4,64.1 424.4,64.3 424.4,61.8 424.4,61.2 424.5,60.1 424.5,59.1 424.5,59.6 424.5,57.2 424.6,57.0 424.6,55.9 424.6,54.0 424.6,54.6 424.6,56.5 424.7,56.7 424.7,58.1 424.7,59.1 424.7,60.0 424.7,60.7 424.8,63.1 424.8,62.8 424.8,64.5 424.8,66.2 424.9,66.4 424.9,67.7 424.9,69.0 424.9,69.8 424.9,71.2 425.0,70.0 425.0,73.4 425.0,73.0 425.2,74.0 425.4,73.7 425.6,75.5 425.7,76.0 425.9,77.9 426.1,77.9 426.3,79.2 426.5,81.1 426.7,82.0 427.1,83.0 427.4,83.3 427.8,84.6 428.1,85.7 428.5,86.7 428.8,87.6 429.2,88.4 429.5,90.1 429.7,90.0 429.8,89.9 430.0,91.6 430.1,93.1 430.2,93.7 430.3,94.6 430.5,95.6 430.6,97.1 430.7,98.8 430.8,98.8 431.0,99.7 431.1,101.2 431.2,101.7 431.3,101.5 431.5,104.1 431.6,104.6 431.7,105.7 431.8,106.3 431.9,108.1 432.1,108.7 432.2,109.3 432.3,109.1 432.4,110.4 432.6,112.7 432.7,113.6 432.8,114.9 432.9,115.8 433.1,116.3 433.2,116.7 433.3,117.8 433.4,119.5 433.6,119.8 433.7,121.6 434.4,122.9 435.0,123.0 435.2,121.1 435.4,119.8 435.6,119.9 435.8,117.8 436.0,119.2 436.2,116.4 436.4,116.1 436.6,115.0 436.8,113.6 437.0,113.0 437.4,110.8 437.7,109.8 438.1,110.8 438.5,110.0 438.9,109.9 439.0,108.0 439.1,106.0 439.1,106.4 439.2,105.0 439.2,104.6 439.3,102.6 439.3,102.5 439.4,101.6 439.5,100.4 439.5,100.0 439.6,97.9 439.6,98.1 439.7,95.5 439.7,96.2 439.8,92.1 439.9,93.0 439.9,91.5 440.0,91.0 440.0,90.8 440.1,89.5 440.1,88.1 440.2,88.2 440.3,85.0 440.3,84.5 440.4,85.1 440.4,83.3 440.5,80.6 440.5,81.3 440.6,79.2 440.7,80.1 440.7,78.8 440.8,76.7 440.8,77.0 440.9,74.5 440.9,74.7 441.0,73.0 441.0,72.4 441.1,70.9 441.1,69.0 441.2,68.8 441.2,66.4 441.3,66.6 441.3,64.7 441.3,65.9 441.4,63.3 441.4,61.3 441.5,62.4 441.5,61.3 441.6,59.7 441.6,60.5 441.7,58.6 441.7,57.1 441.7,55.6 441.8,52.9 441.8,54.4 441.9,53.7 441.9,51.6 442.0,50.0 442.0,50.0 442.1,49.0 442.2,46.8 442.3,47.0 442.4,46.6 442.5,46.1 442.6,44.2 442.7,43.2 442.8,42.6 442.9,42.0 443.0,40.0 443.1,40.8 443.2,41.1 443.4,42.4 443.5,43.1 443.6,44.3 443.7,45.9 443.9,47.2 444.0,48.0 444.1,47.1 444.2,46.1 444.2,44.8 444.3,44.3 444.4,43.6 444.5,42.6 444.6,42.1 444.7,39.8 444.7,38.9 444.8,39.2 444.9,37.2 445.0,36.0 445.4,35.4 446.0,34.0 446.1,34.8 446.1,36.7 446.2,36.7 446.3,37.3 446.4,38.9 446.4,39.7 446.5,41.6 446.6,41.7 446.6,43.1 446.7,43.8 446.8,45.2 446.9,45.5 446.9,47.7 447.0,48.0 447.0,48.0 447.1,49.7 447.1,50.5 447.2,52.5 447.2,53.0 447.2,54.3 447.3,54.8 447.3,55.5 447.4,56.2 447.4,57.8 447.4,58.6 447.5,60.2 447.5,61.2 447.6,62.7 447.6,62.9 447.6,63.5 447.7,64.2 447.7,66.0 447.8,67.2 447.8,69.3 447.8,69.1 447.9,71.2 447.9,72.3 448.0,71.2 448.0,73.0 448.0,74.8 448.1,75.8 448.1,76.9 448.2,77.0 448.2,78.7 448.3,78.7 448.3,79.9 448.4,81.0 448.4,83.2 448.5,82.8 448.5,84.7 448.6,85.0 448.6,85.5 448.7,87.2 448.7,88.4 448.8,88.5 448.8,90.4 448.9,90.5 448.9,91.4 449.0,93.0 449.0,94.2 449.1,94.8 449.1,95.3 449.2,95.9 449.2,98.0 449.3,99.2 449.3,99.7 449.4,101.1 449.4,100.9 449.5,103.3 449.5,104.3 449.6,105.2 449.6,105.6 449.7,107.0 449.7,108.1 449.8,109.7 449.8,110.2 449.9,111.2 449.9,111.5 450.0,113.0 450.4,112.7 450.7,112.0 451.1,109.9 451.5,109.7 451.9,108.6 452.0,108.0 452.2,107.0 452.4,105.1 452.6,106.3 452.8,102.8 453.0,103.0 453.1,104.2 453.2,104.7 453.3,106.8 453.4,106.7 453.5,108.0 453.6,109.4 453.7,110.3 453.8,110.6 453.9,112.4 454.0,113.0 454.1,114.3 454.2,115.7 454.3,115.6 454.4,116.9 454.5,117.7 454.6,118.4 454.7,120.1 454.8,121.2 454.9,122.9 455.0,123.0 455.1,121.8 455.3,121.3 455.4,120.8 455.6,119.0 455.7,118.1 455.8,117.2 456.0,115.6 456.1,114.4 456.3,114.9 456.4,113.2 456.6,112.1 456.7,110.3 456.8,110.2 457.0,109.0 457.2,110.8 457.3,110.2 457.5,111.3 457.7,113.7 457.8,114.9 458.0,116.0 458.2,115.5 458.3,117.3 458.5,117.4 458.6,119.2 458.8,119.6 459.0,121.0 459.7,121.8 460.4,123.0 461.0,123.0 461.0,122.2 461.1,120.8 461.1,120.0 461.2,119.2 461.2,117.6 461.3,117.1 461.3,116.4 461.3,116.1 461.4,112.6 461.4,112.2 461.5,111.1 461.5,111.6 461.6,111.7 461.6,109.1 461.7,108.1 461.7,107.8 461.7,104.3 461.8,104.9 461.8,101.8 461.9,103.1 461.9,101.7 462.0,100.7 462.0,100.0 462.0,99.2 462.1,97.6 462.1,97.8 462.1,96.0 462.2,95.3 462.2,95.8 462.3,92.7 462.3,92.6 462.3,90.4 462.4,90.9 462.4,89.7 462.4,88.1 462.5,87.7 462.5,87.1 462.6,86.0 462.6,84.0 462.6,83.0 462.7,82.8 462.7,80.0 462.7,79.6 462.8,79.4 462.8,78.4 462.9,78.3 462.9,77.2 462.9,75.2 463.0,74.3 463.0,73.0 463.1,71.1 463.1,70.9 463.2,70.2 463.2,68.8 463.3,68.0 463.3,67.4 463.4,65.4 463.5,64.6 463.5,62.8 463.6,63.8 463.6,61.3 463.7,59.8 463.7,60.6 463.8,58.9 463.9,58.7 463.9,56.8 464.0,57.5 464.0,55.5 464.1,54.1 464.1,53.1 464.2,51.9 464.3,51.6 464.3,51.4 464.4,48.7 464.4,47.3 464.5,47.5 464.5,46.8 464.6,44.0 464.7,43.6 464.7,42.4 464.8,42.4 464.8,41.4 464.9,39.5 464.9,38.3 465.0,38.0 465.3,37.5 465.6,34.7 465.9,35.6 466.3,34.1 466.6,34.6 466.9,33.0 467.0,32.0 467.6,30.8 468.1,30.1 468.7,29.3 469.0,29.0 469.7,27.8 470.0,28.0 470.1,29.1 470.1,30.7 470.2,30.0 470.3,31.8 470.4,34.0 470.4,34.5 470.5,34.4 470.6,35.4 470.6,36.4 470.7,36.9 470.8,39.8 470.9,40.0 470.9,40.5 471.0,42.0 471.1,42.0 471.2,43.7 471.4,44.6 471.5,47.2 471.6,46.6 471.7,48.0 471.9,49.7 472.0,50.0 472.2,49.5 472.3,47.9 472.5,45.5 472.7,47.0 472.8,45.5 473.0,44.0 473.4,42.8 474.0,42.0 474.1,42.9 474.1,43.3 474.2,44.4 474.2,45.0 474.3,47.3 474.4,48.3 474.4,49.1 474.5,50.5 474.6,51.4 474.6,52.1 474.7,52.4 474.7,54.4 474.8,55.8 474.9,56.4 474.9,57.8 475.0,58.0 475.1,56.7 475.2,55.3 475.3,55.9 475.4,53.6 475.5,53.2 475.6,51.9 475.7,51.0 475.8,49.9 475.9,48.7 476.0,48.0 476.2,45.8 476.5,47.4 476.7,45.2 477.0,44.0 478.0,42.7 479.0,44.0 479.4,44.3 480.0,46.0 480.0,46.2 480.1,47.5 480.1,47.2 480.1,50.4 480.2,52.1 480.2,51.8 480.3,53.5 480.3,54.4 480.3,54.1 480.4,56.8 480.4,55.8 480.4,57.6 480.5,58.7 480.5,60.9 480.6,61.1 480.6,61.9 480.6,62.4 480.7,64.0 480.7,65.0 480.7,66.5 480.8,67.9 480.8,68.5 480.9,69.0 480.9,69.9 480.9,72.1 481.0,72.1 481.0,73.0 481.0,74.0 481.1,76.2 481.1,77.1 481.1,77.4 481.2,77.9 481.2,78.6 481.3,80.7 481.3,80.7 481.3,82.7 481.4,82.5 481.4,84.1 481.4,85.3 481.5,86.1 481.5,87.2 481.6,88.3 481.6,88.2 481.6,89.2 481.7,90.9 481.7,93.2 481.7,92.9 481.8,93.4 481.8,94.5 481.9,96.0 481.9,97.8 481.9,97.6 482.0,99.4 482.0,100.0 482.0,101.1 482.1,101.8 482.1,102.4 482.2,103.9 482.2,104.5 482.3,106.4 482.3,105.8 482.3,108.8 482.4,109.5 482.4,110.4 482.5,112.0 482.5,112.4 482.6,111.8 482.6,114.0 482.7,115.3 482.7,115.5 482.7,116.2 482.8,118.3 482.8,119.3 482.9,119.7 482.9,120.8 483.0,121.6 483.0,123.0 484.0,123.0 485.0,123.0 486.0,123.0 487.0,123.0 488.0,123.0 489.0,123.0 490.0,123.0 491.0,123.0 492.0,123.0 493.0,123.0 494.0,123.0 494.0,121.6 494.1,121.0 494.1,120.7 494.1,117.9 494.2,117.8 494.2,118.1 494.2,116.2 494.2,115.1 494.3,114.6 494.3,112.3 494.3,111.2 494.4,109.9 494.4,109.0 494.4,109.2 494.5,108.6 494.5,106.7 494.5,105.5 494.5,105.3 494.6,104.4 494.6,103.2 494.6,100.7 494.7,100.6 494.7,98.3 494.7,99.2 494.8,97.4 494.8,96.6 494.8,97.0 494.8,95.9 494.9,94.3 494.9,93.2 494.9,92.1 495.0,90.6 495.0,90.0 495.1,89.0 495.1,89.3 495.2,86.4 495.3,85.6 495.3,85.1 495.4,84.6 495.5,83.6 495.5,81.4 495.6,80.9 495.7,79.8 495.7,78.2 495.8,78.1 495.9,76.7 495.9,76.7 496.0,75.3 496.1,73.5 496.1,73.1 496.2,71.8 496.3,70.6 496.3,69.7 496.4,69.8 496.5,67.8 496.5,65.9 496.6,65.5 496.7,65.6 496.7,65.5 496.8,62.3 496.9,61.8 496.9,60.8 497.0,60.0 497.0,60.0 497.1,62.3 497.1,63.0 497.1,64.2 497.2,66.5 497.2,65.8 497.2,67.5 497.3,68.6 497.3,68.6 497.3,69.6 497.4,72.1 497.4,72.5 497.4,73.1 497.5,73.2 497.5,75.6 497.5,76.4 497.6,78.5 497.6,79.0 497.6,79.5 497.7,80.2 497.7,81.0 497.7,81.6 497.8,83.2 497.8,84.2 497.8,85.4 497.9,86.7 497.9,87.2 497.9,87.6 498.0,89.5 498.0,90.0 498.0,92.1 498.1,91.4 498.1,93.3 498.1,94.4 498.2,95.4 498.2,96.3 498.2,96.9 498.2,97.9 498.3,100.1 498.3,101.2 498.3,100.0 498.4,100.3 498.4,103.3 498.4,103.5 498.5,104.6 498.5,104.9 498.5,107.2 498.5,108.0 498.6,108.6 498.6,110.6 498.6,112.6 498.7,113.0 498.7,113.8 498.7,113.7 498.8,115.4 498.8,116.0 498.8,117.8 498.8,118.4 498.9,119.0 498.9,120.4 498.9,120.5 499.0,122.5 499.0,123.0 499.1,123.0 499.2,120.8 499.2,120.4 499.3,117.9 499.4,118.7 499.5,117.6 499.5,115.3 499.6,116.2 499.7,114.1 499.8,111.9 499.8,111.1 499.9,111.6 500.0,110.0 500.0,108.8 500.1,108.8 500.1,105.9 500.2,105.9 500.2,105.7 500.3,103.5 500.3,103.5 500.4,101.8 500.4,101.2 500.5,100.2 500.5,100.5 500.6,97.2 500.6,97.5 500.6,96.9 500.7,94.3 500.7,94.1 500.8,94.6 500.8,92.7 500.9,89.0 500.9,89.9 501.0,87.9 501.0,88.2 501.1,86.5 501.1,85.6 501.1,84.5 501.2,84.2 501.2,82.7 501.3,81.4 501.3,80.9 501.4,80.3 501.4,78.5 501.5,78.8 501.5,75.9 501.6,76.3 501.6,74.8 501.7,75.1 501.7,73.0 501.8,71.6 501.9,70.6 502.0,69.1 502.1,70.4 502.2,68.4 502.2,66.3 502.3,65.8 502.4,64.4 502.5,65.1 502.6,63.3 502.7,62.0 502.8,59.6 502.9,60.1 502.9,59.6 503.0,58.0 503.1,57.3 503.2,55.9 503.3,55.2 503.3,54.2 503.4,52.5 503.5,52.3 503.6,51.1 503.7,50.0 503.8,48.6 503.8,47.4 503.9,47.2 504.0,46.0 504.1,47.6 504.2,46.3 504.3,48.6 504.4,50.9 504.5,51.6 504.6,51.5 504.8,53.9 504.9,53.3 505.0,54.4 505.1,57.3 505.2,56.6 505.3,58.0 505.4,58.8 505.5,58.9 505.6,60.3 505.7,61.2 505.8,62.9 505.9,62.7 506.0,65.7 506.0,65.7 506.1,66.5 506.2,67.5 506.3,69.5 506.4,71.0 506.5,70.7 506.6,73.0 506.7,73.0 506.7,75.1 506.7,75.9 506.8,76.2 506.8,76.0 506.8,78.5 506.8,78.7 506.8,80.1 506.8,79.7 506.9,81.8 506.9,83.2 506.9,83.4 506.9,85.2 506.9,87.1 506.9,87.2 507.0,87.5 507.0,90.6 507.0,90.0 507.0,89.5 507.1,91.4 507.1,93.3 507.1,93.6 507.2,93.4 507.2,96.2 507.2,97.6 507.2,97.5 507.3,100.0 507.3,100.3 507.3,101.8 507.4,101.0 507.4,103.0 507.4,105.1 507.5,106.4 507.5,106.9 507.5,107.0 507.5,108.1 507.6,108.6 507.6,110.7 507.6,110.5 507.7,112.1 507.7,111.6 507.7,113.0 507.8,116.2 507.8,116.0 507.8,117.1 507.8,116.5 507.9,119.0 507.9,121.4 507.9,120.0 508.0,120.4 508.0,123.0 509.0,123.0 510.0,123.0 511.0,123.0 512.0,123.0 513.0,123.0 514.0,123.0 515.0,123.0 516.0,123.0 516.1,121.9 516.1,120.6 516.2,119.9 516.3,118.2 516.3,117.1 516.4,116.2 516.5,116.5 516.5,115.0 516.6,114.6 516.7,112.3 516.7,112.4 516.8,110.7 516.9,110.1 516.9,109.7 517.0,108.1 517.1,106.8 517.1,104.9 517.2,105.1 517.3,104.6 517.3,102.6 517.4,102.0 517.5,99.8 517.5,99.1 517.6,99.3 517.6,98.8 517.6,100.7 517.6,100.6 517.7,100.7 517.7,102.5 517.7,102.7 517.7,104.6 517.7,107.1 517.7,107.0 517.8,107.7 517.8,109.5 517.8,109.5 517.8,111.0 517.8,111.9 517.9,113.1 517.9,112.8 517.9,115.3 517.9,116.4 517.9,115.2 517.9,115.9 518.0,118.2 518.0,120.8 518.0,121.0 518.8,121.6 519.7,122.6 520.5,123.0 521.0,123.0 521.0,122.6 521.1,120.6 521.1,119.6 521.2,119.3 521.2,118.4 521.3,117.4 521.3,116.2 521.3,114.7 521.4,114.8 521.4,113.3 521.5,112.7 521.5,109.3 521.6,110.7 521.6,107.3 521.7,108.2 521.7,106.6 521.7,106.1 521.8,104.7 521.8,103.8 521.9,103.2 521.9,102.3 522.0,100.5 522.0,100.0 522.0,97.3 522.0,97.5 522.1,97.4 522.1,95.4 522.1,95.3 522.1,93.7 522.2,92.4 522.2,92.8 522.2,92.1 522.2,89.9 522.2,89.0 522.3,88.7 522.3,86.1 522.3,85.4 522.3,85.8 522.4,84.6 522.4,82.7 522.4,81.5 522.4,81.2 522.4,79.0 522.5,78.7 522.5,77.8 522.5,75.3 522.5,76.4 522.6,75.5 522.6,74.7 522.6,73.0 522.6,71.0 522.7,70.1 522.7,69.4 522.8,68.1 522.8,69.4 522.8,66.3 522.9,65.8 522.9,65.1 523.0,64.3 523.0,64.0 523.0,61.3 523.1,61.6 523.1,60.1 523.2,58.2 523.2,58.1 523.2,56.0 523.3,57.1 523.3,54.5 523.4,54.7 523.4,53.9 523.4,51.6 523.5,50.4 523.5,50.1 523.6,48.3 523.6,48.0 523.7,47.6 523.8,46.1 523.8,44.5 523.9,43.5 524.0,43.5 524.1,41.0 524.1,42.2 524.2,39.5 524.3,38.9 524.4,37.4 524.4,38.2 524.5,36.6 524.6,35.0 524.7,36.9 524.7,37.5 524.8,38.1 524.8,40.2 524.9,40.5 524.9,41.3 525.0,42.4 525.0,43.5 525.1,44.2 525.1,44.9 525.2,44.9 525.2,48.4 525.3,47.1 525.3,47.5 525.4,49.5 525.4,52.3 525.5,52.8 525.5,52.6 525.6,54.0 526.5,53.7 527.5,53.0 527.7,54.0 527.9,53.6 528.1,55.7 528.3,57.1 528.5,58.0 528.6,59.8 528.6,59.2 528.7,59.4 528.8,60.9 528.8,63.2 528.9,64.0 529.0,65.1 529.0,66.1 529.1,66.7 529.2,67.0 529.2,69.3 529.3,70.2 529.4,71.4 529.4,72.8 529.5,73.0 529.5,73.1 529.6,73.4 529.6,74.8 529.6,78.5 529.6,77.4 529.7,79.3 529.7,80.0 529.7,81.5 529.8,84.2 529.8,82.6 529.8,83.9 529.9,84.6 529.9,86.2 529.9,87.4 529.9,87.3 530.0,89.9 530.0,90.0 530.0,91.8 530.1,92.3 530.1,92.9 530.1,93.8 530.2,93.8 530.2,96.5 530.2,96.3 530.3,97.6 530.3,99.7 530.3,99.4 530.4,100.6 530.4,102.6 530.4,104.3 530.5,103.5 530.5,105.8 530.5,105.5 530.5,107.3 530.6,108.3 530.6,108.2 530.6,110.7 530.7,112.2 530.7,112.0 530.7,113.2 530.8,113.2 530.8,116.2 530.8,116.0 530.9,116.1 530.9,118.5 530.9,118.0 531.0,119.5 531.0,121.0 531.9,119.8 532.9,122.6 533.8,123.0 534.8,121.8 535.7,122.1 536.7,122.5 537.0,123.0" fill="none" stroke="#f4a8bc" stroke-width="0.85" stroke-linejoin="round" stroke-opacity="1.0"/>
<polyline points="293.5,123.5 294.5,123.5 295.5,123.5 296.5,123.5 297.5,123.5 298.5,123.5 299.5,123.5 300.5,123.5 301.5,123.5 302.5,123.5 303.5,123.5 304.5,123.5 305.5,123.5 306.5,123.5 307.5,123.5 308.5,123.5 309.5,123.5 310.5,123.5 311.5,123.5 312.5,123.5 313.5,123.5 314.5,123.5 315.5,123.5 316.5,123.5 317.5,123.5 318.5,123.5 319.5,123.5 320.5,123.5 321.5,123.5 322.5,123.5 323.5,123.5 324.5,123.5 325.5,123.5 326.5,123.5 327.5,123.5 328.5,123.5 329.5,123.5 330.5,123.5 331.5,123.5 332.5,123.5 333.5,123.5 334.5,123.5 335.5,123.5 336.5,123.5 337.5,123.5 338.5,123.5 339.5,123.5 340.5,123.5 341.5,123.5 342.5,123.5 343.5,123.5 344.5,123.5 345.5,123.5 346.5,123.5 347.5,123.5 348.5,123.5 349.5,123.5 350.5,123.5 351.5,123.5 352.5,123.5 353.5,123.5 354.5,123.5 355.5,123.5 356.5,123.5 357.5,123.5 358.5,123.5 359.5,123.5 360.5,123.5 361.5,123.5 362.5,123.5 363.5,123.5 364.5,123.5 365.5,123.5 366.5,123.5 367.5,123.5 368.5,123.5 369.5,123.5 370.5,123.5 371.5,123.5 372.5,123.5 373.5,123.5 374.5,123.5 375.5,123.5 376.5,123.5 377.5,123.5 378.5,123.5 379.5,123.5 380.5,123.5 381.5,123.5 382.5,123.5 383.5,123.5 384.5,123.5 385.5,123.5 386.5,123.5 387.5,123.5 388.5,123.5 389.5,123.5 390.5,123.5 391.5,123.5 392.5,123.5 393.0,123.5 393.2,122.1 393.4,121.9 393.7,121.6 393.9,118.9 394.1,118.9 394.3,116.4 394.5,117.7 394.7,115.6 395.0,114.2 395.2,114.8 395.4,112.7 395.6,112.7 395.8,111.6 396.0,110.0 396.0,110.2 396.1,107.4 396.1,107.0 396.2,106.3 396.2,104.9 396.3,105.1 396.3,102.5 396.4,102.7 396.4,102.0 396.5,98.6 396.5,98.3 396.6,97.4 396.6,96.6 396.7,96.3 396.7,94.9 396.8,94.1 396.8,92.7 396.9,92.0 396.9,91.4 397.0,90.0 397.1,89.5 397.1,87.5 397.2,86.9 397.2,85.5 397.3,84.9 397.4,83.0 397.4,83.7 397.5,82.5 397.5,80.9 397.6,79.5 397.6,78.7 397.7,77.6 397.8,75.9 397.8,77.2 397.9,77.3 397.9,73.2 398.0,73.0 398.3,71.2 398.6,71.5 399.0,70.0 399.1,69.4 399.1,66.9 399.2,65.7 399.3,66.4 399.4,63.6 399.4,65.0 399.5,62.7 399.6,62.1 399.6,61.0 399.7,59.6 399.8,58.9 399.9,57.8 399.9,57.9 400.0,56.0 400.1,56.9 400.2,58.0 400.4,58.6 400.5,59.5 400.6,60.4 400.7,62.0 400.9,64.2 401.0,64.0 401.0,65.8 401.0,66.2 401.1,68.2 401.1,68.7 401.1,69.1 401.1,69.9 401.1,70.2 401.1,72.2 401.2,72.8 401.2,72.9 401.2,74.1 401.2,77.4 401.2,77.1 401.2,78.3 401.3,79.1 401.3,79.7 401.3,81.3 401.3,82.8 401.3,82.8 401.3,84.4 401.4,85.7 401.4,85.7 401.4,87.1 401.4,87.5 401.4,89.4 401.4,89.7 401.5,91.8 401.5,91.5 401.5,93.0 401.5,93.2 401.5,90.8 401.6,89.4 401.6,88.4 401.6,88.5 401.6,86.4 401.7,87.3 401.7,85.9 401.7,84.4 401.7,82.0 401.8,82.0 401.8,80.5 401.8,78.7 401.8,79.3 401.9,79.5 401.9,76.6 401.9,76.6 401.9,75.9 402.0,73.3 402.0,73.0 402.1,73.8 402.2,75.2 402.2,76.3 402.3,76.2 402.4,78.1 402.5,78.9 402.6,80.6 402.7,79.9 402.7,81.6 402.8,82.6 402.9,83.7 403.0,85.0 403.1,84.5 403.2,82.6 403.2,83.9 403.3,80.5 403.4,80.6 403.5,79.7 403.6,78.7 403.7,76.9 403.7,75.5 403.8,74.9 403.9,74.5 404.0,73.0 404.0,74.1 404.1,75.4 404.1,76.4 404.1,76.4 404.2,77.3 404.2,80.0 404.3,79.7 404.3,79.9 404.3,83.3 404.4,82.4 404.4,83.3 404.4,85.7 404.5,85.2 404.5,86.4 404.6,88.7 404.6,88.4 404.6,91.7 404.7,91.1 404.7,93.9 404.7,93.1 404.8,94.0 404.8,94.5 404.9,95.8 404.9,96.6 404.9,98.0 405.0,99.5 405.0,100.0 405.0,100.1 405.1,101.4 405.1,101.5 405.2,105.0 405.2,104.9 405.3,106.0 405.3,107.0 405.3,108.7 405.4,109.2 405.4,110.6 405.5,110.9 405.5,111.9 405.6,112.9 405.6,112.7 405.7,115.7 405.7,114.9 405.7,116.3 405.8,118.5 405.8,119.0 405.9,120.6 405.9,122.2 406.0,123.3 406.0,123.0 406.1,123.0 406.2,120.8 406.2,121.4 406.3,118.4 406.4,118.0 406.5,117.7 406.5,115.9 406.6,114.9 406.7,113.8 406.8,114.0 406.8,110.3 406.9,111.9 407.0,110.0 407.1,109.7 407.1,108.0 407.2,107.4 407.2,105.3 407.3,105.8 407.4,106.2 407.4,102.4 407.5,103.0 407.5,101.0 407.6,99.8 407.6,98.7 407.7,97.9 407.8,96.1 407.8,95.1 407.9,96.2 407.9,94.0 408.0,93.0 408.0,92.4 408.1,91.2 408.1,90.3 408.2,87.9 408.2,87.3 408.3,87.5 408.3,86.7 408.4,84.2 408.4,83.6 408.5,82.3 408.5,82.5 408.6,81.3 408.6,80.0 408.7,78.6 408.7,78.3 408.8,77.0 408.8,75.5 408.9,75.3 408.9,73.6 409.0,73.0 409.0,72.7 409.1,71.4 409.1,69.5 409.1,69.4 409.2,68.1 409.2,66.5 409.3,65.4 409.3,63.8 409.3,63.2 409.4,63.2 409.4,62.9 409.4,60.6 409.5,60.1 409.5,59.3 409.6,58.6 409.6,57.3 409.6,56.9 409.7,55.5 409.7,53.5 409.7,53.3 409.8,50.4 409.8,50.9 409.9,50.0 409.9,49.4 409.9,47.8 410.0,47.6 410.0,46.0 410.2,46.0 410.5,43.5 410.7,42.7 411.0,42.0 411.3,41.2 411.6,40.4 412.0,39.0 412.1,40.1 412.1,41.6 412.2,41.2 412.2,43.5 412.3,44.8 412.3,45.8 412.4,46.3 412.4,46.8 412.5,48.3 412.5,48.9 412.6,48.9 412.6,50.6 412.7,52.0 412.7,52.6 412.8,53.3 412.8,54.8 412.9,55.7 412.9,57.0 413.0,58.0 413.4,58.9 414.0,60.0 414.2,61.1 414.5,62.6 414.7,63.0 415.0,64.0 415.1,65.3 415.1,65.1 415.2,64.9 415.2,67.7 415.3,69.5 415.4,69.8 415.4,70.6 415.5,71.1 415.6,73.6 415.6,73.6 415.7,75.2 415.7,76.8 415.8,77.3 415.9,79.5 415.9,78.9 416.0,80.0 416.1,81.7 416.2,82.5 416.2,82.5 416.3,84.0 416.4,84.6 416.5,85.3 416.5,87.2 416.6,87.4 416.7,90.1 416.8,89.5 416.8,90.6 416.9,92.0 417.0,93.0 417.1,93.6 417.1,95.0 417.2,95.6 417.3,96.0 417.4,96.3 417.4,98.1 417.5,101.0 417.6,101.3 417.6,102.1 417.7,102.6 417.8,103.9 417.9,105.2 417.9,105.0 418.0,107.0 418.4,107.3 419.0,109.0 419.2,107.4 419.5,107.9 419.7,105.4 420.0,105.0 420.7,106.5 421.4,106.1 422.0,107.0 422.4,109.8 422.9,108.7 423.3,109.7 423.8,111.5 424.0,111.0 424.1,110.6 424.1,109.7 424.2,107.3 424.2,107.8 424.3,107.2 424.3,104.9 424.4,103.7 424.4,102.2 424.5,102.7 424.6,101.2 424.6,100.0 424.7,98.2 424.7,99.2 424.8,97.6 424.8,96.0 424.9,96.1 424.9,93.4 425.0,93.0 425.1,94.6 425.2,94.3 425.3,97.0 425.4,96.8 425.5,98.8 425.6,98.7 425.7,100.2 425.8,101.8 425.9,101.3 426.0,103.0 426.1,104.1 426.2,104.4 426.3,106.6 426.4,106.6 426.5,107.7 426.6,108.8 426.7,110.8 426.8,110.2 426.9,111.9 427.0,113.0 427.1,113.8 427.2,114.6 427.4,115.4 427.5,116.9 427.6,118.1 427.7,117.9 427.9,120.1 428.0,121.0 428.1,119.2 428.3,119.0 428.4,119.6 428.6,116.4 428.7,116.0 428.8,114.9 429.0,114.8 429.1,112.7 429.3,110.8 429.4,110.0 429.6,110.2 429.7,109.3 429.8,108.9 430.0,107.0 430.1,107.6 430.3,109.4 430.4,109.2 430.6,111.9 430.7,111.9 430.8,112.5 431.0,114.1 431.1,116.1 431.3,115.3 431.4,116.0 431.6,117.2 431.7,118.1 431.8,119.8 432.0,121.0 432.0,120.2 432.1,118.9 432.1,118.1 432.1,117.8 432.2,115.8 432.2,114.1 432.2,112.4 432.3,113.2 432.3,111.5 432.4,110.8 432.4,110.3 432.4,109.3 432.5,106.9 432.5,106.3 432.5,106.1 432.6,104.9 432.6,104.8 432.6,102.7 432.7,100.6 432.7,101.8 432.7,98.9 432.8,98.3 432.8,98.3 432.9,96.3 432.9,97.8 432.9,95.2 433.0,94.4 433.0,93.0 433.1,91.7 433.1,92.6 433.2,90.4 433.3,88.5 433.4,88.9 433.4,85.8 433.5,85.6 433.6,85.2 433.6,84.1 433.7,82.4 433.8,83.1 433.9,82.1 433.9,79.4 434.0,79.0 434.1,78.3 434.1,76.6 434.2,75.7 434.2,75.7 434.3,74.1 434.3,72.9 434.4,72.1 434.4,70.2 434.5,70.9 434.5,68.5 434.6,68.9 434.6,66.7 434.7,65.7 434.7,66.1 434.8,64.2 434.8,62.6 434.9,61.6 434.9,61.4 435.0,60.0 435.0,62.3 435.1,62.4 435.1,62.7 435.2,63.2 435.2,64.5 435.3,65.9 435.3,67.2 435.4,67.5 435.4,69.9 435.5,69.3 435.5,70.5 435.6,72.3 435.6,73.3 435.7,73.7 435.7,75.7 435.8,75.0 435.8,78.1 435.9,79.5 435.9,80.3 436.0,80.0 436.1,81.1 436.1,83.4 436.2,83.0 436.2,84.9 436.3,84.9 436.3,86.1 436.4,87.4 436.4,86.8 436.5,88.8 436.5,91.2 436.6,88.9 436.6,92.3 436.7,93.6 436.7,94.2 436.8,95.1 436.8,96.9 436.9,97.2 436.9,96.7 437.0,99.0 437.2,99.3 437.5,100.7 437.7,102.0 438.0,103.0 438.1,101.7 438.2,100.9 438.3,101.2 438.4,97.0 438.5,98.8 438.6,97.7 438.7,96.5 438.8,95.1 438.9,94.1 439.0,93.0 439.2,94.2 439.3,95.1 439.5,95.5 439.7,97.5 439.8,97.4 440.0,99.0 440.1,100.0 440.2,100.7 440.4,101.2 440.5,103.4 440.6,103.9 440.7,104.1 440.9,105.9 441.0,107.0 441.3,107.0 441.6,109.9 441.9,110.2 442.3,112.2 442.6,111.3 442.9,113.2 443.0,113.0 443.4,111.4 443.9,110.6 444.3,110.3 444.8,109.7 445.0,109.0 445.2,110.6 445.4,110.8 445.6,112.7 445.8,113.6 446.0,113.3 446.2,114.8 446.4,115.2 446.6,118.0 446.8,117.4 447.0,119.0 447.4,118.7 447.9,117.8 448.3,116.1 448.8,115.1 449.0,115.0 449.1,114.2 449.2,112.5 449.2,111.1 449.3,110.3 449.4,110.3 449.5,109.2 449.6,109.3 449.7,105.8 449.7,106.4 449.8,104.2 449.9,104.8 450.0,103.0 450.1,102.5 450.1,101.1 450.2,101.0 450.2,98.7 450.3,97.6 450.3,96.3 450.4,95.6 450.4,95.1 450.5,94.5 450.6,93.9 450.6,91.8 450.7,90.5 450.7,89.8 450.8,88.7 450.8,87.7 450.9,86.7 450.9,85.4 451.0,85.0 451.1,84.0 451.2,82.7 451.3,81.9 451.4,80.1 451.5,80.1 451.6,79.4 451.7,78.5 451.8,76.7 451.9,75.3 452.0,75.0 452.7,73.4 453.4,72.8 454.0,73.0 454.0,71.6 454.1,70.8 454.1,68.8 454.1,69.5 454.2,66.9 454.2,66.5 454.2,65.5 454.3,65.6 454.3,65.3 454.3,62.8 454.4,61.8 454.4,60.7 454.4,59.9 454.5,58.9 454.5,59.7 454.5,56.3 454.5,55.9 454.6,54.5 454.6,54.3 454.6,52.7 454.7,52.4 454.7,50.3 454.7,51.5 454.8,49.2 454.8,46.8 454.8,47.5 454.9,45.7 454.9,44.2 454.9,44.3 455.0,42.7 455.0,42.0 455.1,41.5 455.2,39.6 455.4,39.6 455.5,38.1 455.6,37.3 455.7,36.2 455.9,34.8 456.0,34.0 456.2,32.8 456.3,32.3 456.5,31.5 456.7,29.8 456.8,30.6 457.0,28.0 457.7,28.5 458.0,27.0 458.3,27.2 458.6,29.6 459.0,30.0 459.4,29.1 460.0,28.0 460.2,29.1 460.4,29.4 460.6,32.1 460.8,31.4 461.0,33.0 461.6,33.8 462.1,34.2 462.7,36.8 463.0,36.0 463.4,37.8 464.0,38.0 464.0,38.1 464.0,39.7 464.0,41.3 464.0,41.7 464.1,42.8 464.1,43.3 464.1,45.2 464.1,45.2 464.1,47.6 464.1,49.7 464.1,48.8 464.1,51.1 464.1,51.3 464.2,51.5 464.2,52.8 464.2,53.3 464.2,55.1 464.2,56.5 464.2,57.6 464.2,57.8 464.2,58.2 464.2,59.9 464.3,62.2 464.3,62.2 464.3,63.0 464.3,62.6 464.3,64.7 464.3,66.4 464.3,66.3 464.3,68.9 464.3,68.6 464.3,69.4 464.4,70.6 464.4,71.9 464.4,73.7 464.4,73.6 464.4,73.8 464.4,75.9 464.4,77.4 464.4,79.1 464.4,78.2 464.5,81.0 464.5,81.5 464.5,82.3 464.5,82.5 464.5,83.4 464.5,84.3 464.5,86.6 464.5,87.1 464.5,88.7 464.6,90.3 464.6,90.0 464.6,91.0 464.6,93.3 464.6,93.0 464.6,93.1 464.6,94.7 464.6,95.7 464.7,96.7 464.7,98.1 464.7,98.4 464.7,100.8 464.7,100.1 464.7,101.4 464.7,101.8 464.7,103.0 464.8,105.4 464.8,106.4 464.8,106.9 464.8,108.6 464.8,109.4 464.8,109.6 464.8,111.0 464.9,112.3 464.9,114.4 464.9,113.7 464.9,115.3 464.9,116.4 464.9,117.8 464.9,118.3 464.9,119.7 465.0,119.3 465.0,120.8 465.0,120.7 465.0,123.0 466.0,123.0 467.0,123.5 468.0,123.0 468.2,122.2 468.5,121.1 468.7,120.3 469.0,119.0 469.2,118.1 469.3,116.1 469.5,115.6 469.7,114.9 469.8,114.2 470.0,113.0 470.1,111.4 470.2,110.9 470.3,109.5 470.4,108.1 470.5,107.6 470.6,106.5 470.7,106.6 470.8,106.0 470.9,104.4 471.0,103.0 471.1,101.9 471.1,100.6 471.2,98.9 471.3,98.7 471.4,99.1 471.4,97.8 471.5,96.2 471.6,94.9 471.6,94.0 471.7,93.3 471.8,92.0 471.9,91.3 471.9,89.5 472.0,89.0 472.1,88.0 472.1,86.8 472.2,86.7 472.2,84.2 472.3,84.9 472.4,83.0 472.4,81.7 472.5,81.0 472.6,80.1 472.6,78.9 472.7,78.3 472.7,76.6 472.8,74.9 472.9,75.5 472.9,74.0 473.0,73.0 473.2,75.1 473.5,75.2 473.7,74.5 474.0,77.0 474.1,78.8 474.2,78.5 474.4,80.4 474.5,82.5 474.6,82.7 474.7,82.2 474.9,83.9 475.0,85.0 475.1,84.9 475.2,87.5 475.3,88.4 475.4,88.3 475.5,90.3 475.6,91.6 475.7,92.5 475.8,92.5 475.9,93.5 476.0,95.0 476.4,95.1 476.9,95.9 477.3,97.9 477.8,98.6 478.0,99.0 478.4,100.8 478.9,101.0 479.3,101.5 479.8,101.6 480.0,103.0 480.2,105.0 480.3,105.1 480.5,105.9 480.7,106.3 480.8,107.2 481.0,109.0 481.1,110.4 481.2,110.3 481.3,112.4 481.4,113.4 481.6,113.7 481.7,113.9 481.8,116.2 481.9,117.9 482.0,117.4 482.1,118.1 482.2,120.7 482.3,120.6 483.1,121.3 484.0,122.0 484.1,120.6 484.2,120.8 484.2,118.8 484.3,118.3 484.4,116.7 484.5,115.5 484.5,115.2 484.6,113.4 484.7,111.8 484.8,111.7 484.8,111.9 484.9,110.8 485.0,110.5 485.1,108.7 485.1,108.2 485.2,106.2 485.3,104.7 485.4,104.4 485.4,102.4 485.5,102.6 485.6,100.8 485.7,100.2 485.7,98.5 485.8,98.0 485.9,97.7 485.9,96.8 486.0,95.7 486.0,94.3 486.1,94.0 486.2,93.4 486.2,91.7 486.3,90.0 486.4,88.8 486.4,87.9 486.5,88.6 486.6,86.8 486.6,86.2 486.7,85.6 486.8,84.0 486.8,83.2 486.9,81.5 487.0,79.7 487.0,80.3 487.1,78.8 487.2,78.2 487.2,76.1 487.3,75.8 487.4,76.2 487.4,73.3 487.5,73.0 487.6,72.1 487.8,71.9 487.9,69.9 488.0,69.1 488.2,66.6 488.3,67.6 488.4,65.8 488.6,65.9 488.7,64.0 488.8,62.8 488.9,62.4 489.1,61.0 489.2,59.8 489.3,60.2 489.4,58.7 489.6,60.3 489.9,60.7 490.1,62.2 490.4,63.1 490.5,63.0 491.0,62.5 491.4,61.3 491.9,60.4 492.2,59.7 492.3,61.0 492.4,62.1 492.5,62.9 492.6,63.3 492.6,64.6 492.7,66.0 492.8,66.0 492.9,67.7 493.0,69.2 493.1,69.8 493.2,70.5 493.3,71.6 493.4,72.3 493.4,73.0 493.4,74.7 493.4,74.8 493.5,74.9 493.5,76.2 493.5,78.2 493.5,79.1 493.5,79.7 493.5,80.1 493.6,81.9 493.6,82.4 493.6,83.5 493.6,85.0 493.6,85.5 493.6,87.2 493.7,87.5 493.7,88.7 493.7,89.8 493.7,92.0 493.7,93.1 493.7,93.6 493.8,93.5 493.8,95.0 493.8,96.6 493.8,96.8 493.8,98.4 493.9,97.7 493.9,99.8 494.0,100.3 494.0,102.3 494.1,103.2 494.1,103.4 494.2,106.3 494.2,105.6 494.3,108.5 494.3,107.7 494.3,108.7 494.4,111.1 494.4,110.4 494.5,111.5 494.5,113.8 494.6,113.8 494.6,115.1 494.7,114.9 494.7,118.0 494.8,118.4 494.8,118.6 495.8,118.6 496.7,118.6 497.0,118.0 497.5,116.8 497.8,116.6 498.2,117.2 498.7,117.3 499.1,119.5 499.6,121.0 500.0,121.0 500.8,121.0 501.6,120.4 502.4,119.7 503.2,117.9 504.0,117.1 504.7,117.8 505.7,116.6 506.2,115.8 506.6,115.5 507.1,113.8 507.5,112.4 507.7,112.7 508.0,114.0 508.3,114.2 508.7,114.5 509.0,116.1 509.3,116.9 509.5,118.0 509.9,116.3 510.3,115.8 510.7,115.9 511.0,115.9 511.4,114.6 511.7,112.7 511.8,111.4 511.9,111.5 512.0,109.7 512.1,109.0 512.2,107.3 512.3,106.7 512.4,104.6 512.5,106.0 512.6,103.2 512.7,103.2 512.8,101.4 512.9,100.9 513.0,99.0 513.1,98.5 513.2,98.4 513.3,97.2 513.4,94.5 513.5,95.4 513.6,92.9 513.7,92.8 513.7,92.0 513.8,91.2 513.8,89.4 513.9,88.6 513.9,87.6 514.0,87.1 514.0,86.4 514.1,85.7 514.1,84.0 514.2,84.2 514.2,81.2 514.2,82.0 514.3,79.6 514.3,79.3 514.4,77.7 514.4,76.9 514.5,75.2 514.5,75.1 514.6,75.2 514.6,73.0 514.8,72.1 514.9,71.0 515.1,70.1 515.3,69.5 515.4,67.9 515.6,67.1 515.8,66.3 515.9,66.0 516.0,64.6 516.1,66.2 516.2,65.9 516.4,67.2 516.5,68.6 516.6,70.1 516.7,71.2 516.8,71.4 516.9,74.0 517.0,73.0 517.1,73.9 517.2,76.0 517.3,76.9 517.4,78.1 517.5,78.1 517.6,79.0 517.8,80.4 517.9,80.0 518.1,80.7 518.3,82.6 518.4,84.4 518.6,85.0 518.8,86.7 519.1,86.9 519.3,88.6 519.6,89.3 519.8,90.9 520.1,89.7 520.3,91.2 520.6,92.8 520.8,91.2 521.0,90.2 521.2,91.0 521.3,88.3 521.5,88.0 521.6,88.4 521.7,89.7 521.8,91.6 522.0,91.7 522.1,93.5 522.2,94.3 522.3,94.5 522.4,94.4 522.5,96.3 522.6,97.1 522.8,100.0 522.9,99.5 523.0,100.2 523.1,102.2 523.2,102.8 523.3,103.8 523.4,104.2 523.5,106.5 523.6,107.4 523.6,108.0 523.7,108.3 523.8,109.2 523.9,109.4 524.0,112.0 524.1,113.0 524.2,113.1 524.3,114.8 524.3,118.0 524.4,116.0 524.5,116.6 524.6,118.6 525.1,119.9 525.7,120.0 526.2,120.8 526.5,121.6 527.4,121.6 528.5,120.6 529.4,121.0 530.5,121.6 531.5,122.4 532.5,122.3 533.0,122.0 534.0,123.0 534.9,122.6 535.9,121.2 537.0,123.0" fill="none" stroke="#4aa56c" stroke-width="0.85" stroke-linejoin="round" stroke-opacity="1.0"/>
<polyline points="293.5,123.8 294.5,123.8 295.5,123.8 296.5,123.8 297.5,123.8 298.5,123.8 299.5,123.8 300.5,123.8 301.5,123.8 302.5,123.8 303.5,123.8 304.5,123.8 305.5,123.8 306.5,123.8 307.5,123.8 308.5,123.8 309.5,123.8 310.5,123.8 311.5,123.8 312.5,123.8 313.5,123.8 314.5,123.8 315.5,123.8 316.5,123.8 317.5,123.8 318.5,123.8 319.5,123.8 320.5,123.8 321.5,123.8 322.5,123.8 323.5,123.8 324.5,123.8 325.5,123.8 326.5,123.8 327.5,123.8 328.5,123.8 329.5,123.8 330.5,123.8 331.5,123.8 332.5,123.8 333.5,123.8 334.5,123.8 335.5,123.8 336.5,123.8 337.5,123.8 338.5,123.8 339.5,123.8 340.5,123.8 341.5,123.8 342.5,123.8 343.5,123.8 344.5,123.8 345.5,123.8 346.5,123.8 347.5,123.8 348.5,123.8 349.5,123.8 350.5,123.8 351.5,123.8 352.5,123.8 353.5,123.8 354.5,123.8 355.5,123.8 356.5,123.8 357.5,123.8 358.5,123.8 359.5,123.8 360.5,123.8 361.5,123.8 362.5,123.8 363.5,123.8 364.5,123.8 365.5,123.8 366.5,123.8 367.5,123.8 368.5,123.8 369.5,123.8 370.5,123.8 371.5,123.8 372.5,123.8 373.5,123.8 374.5,123.8 375.5,123.8 376.5,123.8 377.5,123.8 378.5,123.8 379.5,123.8 380.5,123.8 381.5,123.8 382.5,123.8 383.5,123.8 384.5,123.8 385.5,123.8 386.5,123.8 387.5,123.8 388.5,123.8 389.5,123.8 390.5,123.8 391.5,123.8 392.5,123.8 393.5,123.8 394.5,123.8 395.5,123.8 396.5,123.8 397.5,123.8 398.5,123.8 399.5,123.8 400.5,123.8 401.5,123.8 402.5,123.8 403.5,123.8 404.5,123.8 405.5,123.8 406.5,123.8 407.5,123.8 408.5,123.8 409.5,123.8 410.5,123.8 411.5,123.8 412.5,123.8 413.5,123.8 414.5,123.8 415.5,123.8 416.5,123.8 417.5,123.8 418.5,123.8 419.5,123.8 420.5,123.8 421.5,123.8 422.5,123.8 423.5,123.8 424.5,123.8 425.5,123.8 426.5,123.8 427.5,123.8 428.5,123.8 429.5,123.8 430.5,123.8 431.5,123.8 432.5,123.8 433.5,123.8 434.5,123.8 435.5,123.8 436.5,123.8 437.5,123.8 438.5,123.8 439.5,123.8 440.5,123.8 441.5,123.8 442.5,123.8 443.5,123.8 444.5,123.8 445.5,123.8 446.5,123.8 447.5,123.8 448.5,123.8 449.5,123.8 450.5,123.8 451.5,123.8 452.5,123.8 453.5,123.8 454.5,123.8 455.5,123.8 456.5,123.8 457.5,123.8 458.5,123.8 459.5,123.8 460.5,123.8 461.5,123.8 462.5,123.8 463.5,123.8 464.5,123.8 465.5,123.8 466.5,123.8 467.5,123.8 468.5,123.8 469.5,123.8 470.5,123.8 471.5,123.8 472.5,123.8 473.5,123.8 474.5,123.8 475.5,123.8 476.5,123.8 477.5,123.8 478.5,123.8 479.5,123.8 480.5,123.8 481.5,123.8 482.5,123.8 483.5,123.8 484.5,123.8 485.5,123.8 486.5,123.8 487.5,123.8 488.5,123.8 489.5,123.8 490.5,123.8 491.5,123.8 492.5,123.8 493.5,123.8 494.5,123.8 495.5,123.8 496.5,123.8 497.5,123.8 498.5,123.8 499.5,123.8 500.5,123.8 501.5,123.8 502.5,123.8 503.5,123.8 504.5,123.8 505.5,123.8 506.5,123.8 507.5,123.8 508.5,123.8 509.5,123.8 510.5,123.8 511.5,123.8 512.5,123.8 513.5,123.8 514.5,123.8 515.5,123.8 516.5,123.8 517.5,123.8 518.5,123.8 519.5,123.8 520.5,123.8 521.5,123.8 522.5,123.8 523.5,123.8 524.5,123.8 525.5,123.8 526.5,123.8 527.5,123.8 528.5,123.8 529.5,123.8 530.5,123.8 531.5,123.8 532.5,123.8 533.5,123.8 534.5,123.8 535.5,123.8 536.5,123.8 537.0,123.8" fill="none" stroke="#f2a468" stroke-width="0.85" stroke-linejoin="round" stroke-opacity="1.0"/>
<polyline points="293.5,123.0 294.5,123.0 295.5,123.0 296.5,123.0 297.0,123.0 298.0,123.0 299.0,123.0 300.0,123.0 301.0,123.0 302.0,123.0 303.0,123.0 304.0,123.0 305.0,123.0 306.0,123.0 307.0,123.0 308.0,123.0 309.0,123.0 310.0,123.0 310.2,122.9 310.5,119.9 310.7,120.8 311.0,119.0 311.2,120.1 311.5,120.0 311.7,122.0 312.0,123.0 313.0,123.0 314.0,123.0 315.0,123.0 316.0,123.0 317.0,123.0 318.0,123.0 319.0,123.0 320.0,123.0 321.0,123.0 322.0,123.0 323.0,123.0 324.0,123.0 325.0,123.0 326.0,123.0 326.2,122.6 326.5,120.4 326.7,120.1 327.0,119.0 327.0,117.5 327.1,116.3 327.1,115.6 327.2,115.9 327.2,114.5 327.2,113.0 327.3,111.9 327.3,111.1 327.3,110.2 327.4,109.1 327.4,106.8 327.5,107.6 327.5,105.4 327.5,103.3 327.6,104.5 327.6,102.2 327.7,101.9 327.7,101.0 327.7,99.6 327.8,99.4 327.8,97.8 327.8,96.8 327.9,95.4 327.9,94.8 328.0,93.3 328.0,93.0 328.1,94.0 328.1,95.9 328.2,96.7 328.2,97.3 328.3,97.1 328.4,99.7 328.4,100.6 328.5,102.4 328.6,100.5 328.6,103.0 328.7,103.8 328.7,105.7 328.8,105.3 328.9,106.7 328.9,109.5 329.0,109.0 329.2,110.7 329.5,109.6 329.7,111.9 330.0,113.0 330.4,114.8 331.0,115.0 331.1,115.6 331.2,117.4 331.4,118.0 331.5,118.0 331.6,119.5 331.7,121.7 331.9,122.8 332.0,123.0 333.0,123.0 334.0,123.0 335.0,123.0 335.0,121.6 335.1,121.8 335.1,119.5 335.2,119.2 335.2,118.0 335.2,116.1 335.3,116.2 335.3,114.7 335.3,112.2 335.4,112.4 335.4,111.4 335.5,110.4 335.5,109.4 335.5,108.5 335.6,106.4 335.6,107.6 335.7,106.1 335.7,105.2 335.7,103.8 335.8,103.1 335.8,101.8 335.8,100.3 335.9,99.0 335.9,99.1 336.0,98.7 336.0,97.0 336.2,96.2 336.3,96.1 336.5,93.1 336.7,92.9 336.8,91.6 337.0,91.0 337.1,92.8 337.2,94.2 337.4,93.6 337.5,95.5 337.6,95.8 337.7,96.3 337.9,97.9 338.0,99.0 338.1,97.3 338.1,98.0 338.2,96.4 338.3,95.8 338.4,94.3 338.4,91.4 338.5,92.6 338.6,91.1 338.6,88.4 338.7,89.1 338.8,88.7 338.9,88.2 338.9,85.3 339.0,85.0 339.1,84.5 339.2,83.2 339.4,81.9 339.5,80.8 339.6,80.4 339.7,79.4 339.9,78.5 340.0,77.0 340.1,75.7 340.1,74.1 340.2,74.9 340.2,73.9 340.3,71.6 340.4,71.0 340.4,70.6 340.5,67.8 340.5,68.4 340.6,68.6 340.6,66.2 340.7,64.6 340.8,65.4 340.8,63.0 340.9,62.2 340.9,60.7 341.0,60.0 341.1,59.1 341.2,56.8 341.3,56.1 341.4,55.0 341.5,55.6 341.6,54.0 341.7,53.8 341.8,50.7 341.9,50.6 342.0,50.0 342.1,52.0 342.2,51.4 342.3,51.7 342.4,53.5 342.5,54.7 342.6,56.0 342.7,57.8 342.8,58.9 342.9,60.0 343.0,60.0 343.0,61.4 343.1,61.7 343.1,62.7 343.1,63.0 343.2,65.9 343.2,66.8 343.2,67.1 343.2,67.4 343.3,69.5 343.3,70.3 343.3,71.1 343.4,71.2 343.4,73.2 343.4,73.6 343.5,75.5 343.5,76.4 343.5,77.3 343.5,77.7 343.6,80.0 343.6,80.5 343.6,81.9 343.7,82.6 343.7,83.4 343.7,84.3 343.8,84.3 343.8,84.8 343.8,86.3 343.8,88.4 343.9,89.6 343.9,90.1 343.9,91.0 344.0,93.2 344.0,93.0 344.3,91.8 344.5,89.9 344.8,89.0 345.0,88.9 345.3,88.7 345.6,87.0 345.6,86.5 345.7,84.8 345.7,84.6 345.8,83.0 345.8,81.5 345.8,80.7 345.9,80.5 345.9,79.7 346.0,77.3 346.0,76.3 346.0,76.1 346.1,76.5 346.1,73.2 346.2,72.2 346.2,72.3 346.3,71.4 346.3,69.6 346.3,69.0 346.4,68.3 346.4,65.8 346.5,66.0 346.5,65.0 346.5,64.4 346.6,63.6 346.6,62.8 346.7,61.0 346.7,59.0 346.8,59.9 346.8,58.5 346.9,56.6 346.9,56.7 347.0,55.7 347.0,54.0 347.1,54.9 347.1,54.4 347.2,56.7 347.2,57.5 347.3,58.4 347.4,59.9 347.4,60.2 347.5,62.2 347.6,64.3 347.6,63.2 347.7,65.7 347.7,65.6 347.8,67.3 347.9,67.9 347.9,69.9 348.0,70.0 348.0,70.5 348.1,72.5 348.1,72.5 348.1,74.2 348.2,75.0 348.2,76.7 348.2,75.9 348.3,77.1 348.3,79.9 348.3,80.3 348.4,82.1 348.4,81.3 348.4,83.1 348.5,84.4 348.5,85.0 348.5,87.2 348.6,87.0 348.6,87.7 348.7,89.5 348.7,89.9 348.8,90.5 348.8,92.5 348.9,91.7 348.9,93.3 349.0,95.0 349.1,96.9 349.2,96.6 349.4,97.8 349.5,99.2 349.6,100.7 349.7,101.3 349.9,101.3 350.0,103.0 350.1,103.6 350.2,105.7 350.2,105.9 350.3,106.6 350.4,108.6 350.5,109.8 350.6,111.4 350.7,110.2 350.7,111.5 350.8,112.5 350.9,114.2 351.0,115.0 351.1,113.7 351.1,113.8 351.2,110.2 351.3,111.7 351.4,109.6 351.4,108.8 351.5,108.4 351.6,107.2 351.6,105.3 351.7,106.0 351.8,104.4 351.9,102.7 351.9,102.2 352.0,101.0 352.1,99.3 352.2,98.2 352.3,97.8 352.4,97.3 352.5,96.1 352.6,94.5 352.7,93.1 352.8,91.9 352.9,93.1 353.0,91.0 353.3,90.3 353.6,88.6 354.0,88.0 354.1,89.8 354.1,90.4 354.2,90.7 354.3,91.6 354.3,93.8 354.4,94.2 354.5,96.1 354.5,96.2 354.6,96.6 354.7,97.6 354.7,98.5 354.8,100.1 354.9,101.1 354.9,102.4 355.0,103.0 355.1,104.3 355.2,104.3 355.2,105.9 355.3,106.4 355.4,108.3 355.5,108.1 355.6,109.6 355.7,110.4 355.7,111.5 355.8,112.8 355.9,115.0 356.0,115.0 356.2,115.8 356.3,116.0 356.5,117.8 356.7,119.5 356.8,120.3 357.0,121.0 357.7,121.9 358.4,123.0 359.0,123.0 359.7,123.0 360.4,121.6 361.0,121.0 361.7,122.5 362.4,121.5 363.0,123.0 363.2,121.9 363.3,120.4 363.5,120.2 363.7,120.1 363.9,117.7 364.0,118.2 364.2,115.4 364.4,115.0 364.5,117.0 364.5,115.8 364.6,117.4 364.7,119.7 364.8,119.9 364.8,121.1 364.9,122.0 365.0,123.0 366.0,123.0 367.0,123.0 368.0,123.0 368.0,122.1 368.1,120.9 368.1,119.3 368.1,118.8 368.1,118.1 368.2,116.4 368.2,116.3 368.2,116.2 368.2,112.9 368.3,112.6 368.3,111.8 368.3,111.0 368.3,110.1 368.4,108.5 368.4,108.0 368.4,107.0 368.4,105.9 368.5,106.0 368.5,104.1 368.5,102.0 368.6,100.9 368.6,101.4 368.6,99.8 368.6,98.6 368.7,97.1 368.7,96.8 368.7,95.9 368.7,94.5 368.8,93.8 368.8,93.6 368.8,92.5 368.8,91.4 368.9,89.9 368.9,88.1 368.9,88.5 368.9,88.0 369.0,86.9 369.0,85.0 369.1,86.8 369.2,87.2 369.3,88.2 369.4,89.0 369.5,90.8 369.6,90.8 369.7,93.4 369.8,93.5 369.9,93.7 370.0,95.0 370.1,96.0 370.2,95.9 370.4,97.5 370.5,98.8 370.6,101.6 370.7,100.4 370.9,102.6 371.0,103.0 371.2,102.1 371.4,100.8 371.6,100.5 371.8,97.7 372.0,98.0 372.1,99.6 372.3,101.3 372.4,101.2 372.6,101.9 372.7,103.1 372.8,104.4 373.0,105.0 373.1,103.7 373.2,103.1 373.2,102.3 373.3,100.8 373.4,100.3 373.5,99.2 373.6,98.5 373.7,96.4 373.7,95.7 373.8,94.7 373.9,94.8 374.0,93.0 374.1,94.2 374.3,93.9 374.4,95.1 374.6,98.3 374.7,98.2 374.8,98.1 375.0,100.0 375.2,98.4 375.4,98.1 375.6,98.0 375.8,97.2 376.0,95.0 376.2,93.8 376.3,92.8 376.5,93.3 376.6,90.4 376.8,91.1 376.9,89.3 377.1,88.2 377.3,88.0 377.4,86.4 377.6,85.0 377.6,83.4 377.7,82.0 377.7,82.0 377.7,81.4 377.8,80.9 377.8,77.2 377.9,78.9 377.9,77.4 377.9,77.0 378.0,75.5 378.0,74.2 378.0,73.3 378.1,72.3 378.1,70.6 378.1,69.9 378.2,69.1 378.2,67.7 378.2,66.0 378.3,65.0 378.3,65.4 378.4,64.4 378.4,63.1 378.4,61.2 378.5,61.6 378.5,60.0 378.5,58.7 378.6,56.6 378.6,58.1 378.7,55.0 378.7,56.5 378.7,54.4 378.8,52.7 378.8,50.4 378.9,50.5 378.9,51.0 379.0,49.9 379.0,48.0 379.1,49.2 379.2,48.8 379.2,50.7 379.3,51.8 379.4,53.3 379.5,53.9 379.6,55.2 379.7,54.9 379.7,56.5 379.8,58.9 379.9,58.0 380.0,60.0 380.1,61.6 380.2,63.6 380.2,63.4 380.3,63.0 380.4,65.8 380.5,64.7 380.5,67.2 380.6,67.7 380.7,69.8 380.8,70.8 380.8,71.1 380.9,73.2 381.0,73.0 381.0,74.7 381.1,74.7 381.1,75.3 381.2,78.7 381.2,77.7 381.2,79.3 381.3,79.9 381.3,80.7 381.4,80.9 381.4,82.9 381.5,83.9 381.5,85.7 381.5,85.6 381.6,85.9 381.6,87.3 381.7,89.0 381.7,90.2 381.7,91.5 381.8,91.7 381.8,93.3 381.9,94.1 381.9,96.1 382.0,95.9 382.0,97.0 382.1,98.1 382.1,99.4 382.2,100.8 382.2,100.4 382.3,101.7 382.4,102.8 382.4,102.5 382.5,105.9 382.6,106.7 382.6,107.0 382.7,110.3 382.7,109.8 382.8,111.4 382.9,112.0 382.9,112.6 383.0,113.0 383.1,113.0 383.2,116.0 383.4,116.3 383.5,116.2 383.6,118.0 383.7,119.5 383.9,120.6 384.0,121.0 384.2,120.1 384.4,118.7 384.6,118.6 384.8,116.6 385.0,116.0 385.2,115.6 385.4,113.2 385.6,113.0 385.8,112.3 386.1,109.7 386.3,109.5 386.5,108.3 386.7,108.1 387.0,107.0 387.2,108.5 387.5,108.9 387.7,110.5 387.9,111.0 388.1,111.7 388.4,113.0 388.6,112.3 388.7,110.9 388.9,110.1 389.0,109.8 389.2,107.7 389.3,107.9 389.5,105.3 389.7,105.0 389.8,102.9 390.0,103.0 390.2,103.6 390.3,106.0 390.5,106.2 390.7,107.8 390.8,106.9 391.0,109.0 391.1,107.3 391.2,107.3 391.4,106.6 391.5,105.6 391.6,102.9 391.7,103.4 391.9,102.0 392.0,101.0 392.1,102.1 392.1,103.3 392.2,103.8 392.3,103.8 392.4,105.3 392.4,106.0 392.5,107.1 392.6,108.9 392.6,110.9 392.7,110.5 392.8,111.5 392.9,112.2 392.9,112.8 393.0,115.0 393.1,116.0 393.2,116.7 393.4,117.8 393.5,118.3 393.6,120.3 393.7,120.1 393.9,122.3 394.0,123.0 395.0,123.0 396.0,123.0 397.0,123.0 398.0,123.0 399.0,123.0 400.0,123.0 401.0,123.0 402.0,123.0 403.0,123.0 404.0,123.0 404.0,121.6 404.0,121.5 404.1,119.4 404.1,119.3 404.1,118.3 404.1,116.9 404.2,117.1 404.2,115.1 404.2,113.4 404.2,113.5 404.2,111.4 404.3,110.6 404.3,110.0 404.3,109.1 404.3,109.2 404.3,105.8 404.4,105.8 404.4,105.8 404.4,103.9 404.4,103.2 404.5,103.0 404.5,100.2 404.5,100.0 404.6,99.0 404.6,98.5 404.7,96.6 404.7,94.8 404.8,94.3 404.9,94.1 404.9,93.1 405.0,92.0 405.0,94.2 405.1,94.9 405.1,94.0 405.1,96.7 405.1,97.6 405.2,99.1 405.2,98.9 405.2,99.6 405.2,101.1 405.3,103.1 405.3,103.4 405.3,105.2 405.4,105.5 405.4,105.6 405.4,106.3 405.4,109.3 405.5,108.0 405.5,110.0 405.5,110.8 405.6,111.8 405.6,112.4 405.7,113.6 405.7,115.0 405.7,117.6 405.8,117.0 405.8,117.6 405.8,119.1 405.9,120.6 405.9,120.4 406.0,121.7 406.0,123.0 407.0,123.0 408.0,123.0 409.0,123.0 410.0,123.0 411.0,123.0 412.0,123.0 413.0,123.0 414.0,123.0 415.0,123.0 416.0,123.0 417.0,123.0 418.0,123.0 419.0,123.0 420.0,123.0 421.0,123.0 422.0,123.0 423.0,123.0 424.0,123.0 425.0,123.0 426.0,123.0 427.0,123.0 428.0,123.0 429.0,123.0 430.0,123.0 431.0,123.0 432.0,123.0 433.0,123.0 434.0,123.0 435.0,123.0 436.0,123.0 437.0,123.0 438.0,123.0 439.0,123.0 440.0,123.0 441.0,123.0 442.0,123.0 443.0,123.0 444.0,123.0 445.0,123.0 446.0,123.0 447.0,123.0 448.0,123.0 449.0,123.0 450.0,123.0 451.0,123.0 452.0,123.0 453.0,123.0 454.0,123.0 455.0,123.0 456.0,123.0 457.0,123.0 458.0,123.0 459.0,123.0 460.0,123.0 461.0,123.0 462.0,123.0 463.0,123.0 464.0,123.0 465.0,123.0 466.0,123.0 467.0,123.0 468.0,123.0 469.0,123.0 470.0,123.0 471.0,123.0 472.0,123.0 473.0,123.0 474.0,123.0 475.0,123.0 476.0,123.0 477.0,123.0 478.0,123.0 479.0,123.0 480.0,123.0 481.0,123.0 482.0,123.0 483.0,123.0 484.0,123.0 485.0,123.0 486.0,123.0 487.0,123.0 488.0,123.0 489.0,123.0 490.0,123.0 491.0,123.0 492.0,123.0 493.0,123.0 494.0,123.0 495.0,123.0 496.0,123.0 497.0,123.0 498.0,123.0 499.0,123.0 500.0,123.0 501.0,123.0 502.0,123.0 503.0,123.0 504.0,123.0 505.0,123.0 506.0,123.0 507.0,123.0 508.0,123.0 509.0,123.0 510.0,123.0 511.0,123.0 512.0,123.0 513.0,123.0 514.0,123.0 515.0,123.0 516.0,123.0 517.0,123.0 518.0,123.0 519.0,123.0 520.0,123.0 521.0,123.0 522.0,123.0 523.0,123.0 524.0,123.0 525.0,123.0 526.0,123.0 527.0,123.0 528.0,123.0 529.0,123.0 530.0,123.0 531.0,123.0 532.0,123.0 533.0,123.0 534.0,123.0 535.0,123.0 536.0,123.0 537.0,123.0" fill="none" stroke="#3fe1e3" stroke-width="0.85" stroke-linejoin="round" stroke-opacity="1.0"/>
<polyline points="293.5,123.0 294.5,123.0 295.5,123.0 296.5,123.0 297.0,123.0 297.0,120.8 297.1,121.5 297.1,120.5 297.2,120.0 297.2,117.2 297.2,118.5 297.3,116.6 297.3,114.8 297.3,113.7 297.4,112.8 297.4,111.2 297.5,111.5 297.5,109.6 297.5,108.5 297.6,108.4 297.6,107.1 297.7,105.6 297.7,104.9 297.7,103.7 297.8,103.9 297.8,102.7 297.8,100.5 297.9,100.0 297.9,99.9 298.0,97.8 298.0,97.0 298.1,97.2 298.2,95.3 298.4,94.5 298.5,91.6 298.6,92.6 298.7,91.3 298.9,90.4 299.0,89.0 299.1,88.3 299.1,87.4 299.2,85.7 299.2,85.6 299.3,84.1 299.4,82.3 299.4,81.3 299.5,81.1 299.6,80.2 299.6,77.5 299.7,76.6 299.7,77.7 299.8,76.0 299.9,77.0 299.9,73.0 300.0,73.0 300.1,71.8 300.1,70.6 300.2,70.4 300.3,70.0 300.3,69.1 300.4,66.3 300.4,66.9 300.5,64.2 300.6,64.2 300.6,63.1 300.7,62.4 300.8,60.5 300.8,60.9 300.9,59.0 301.0,58.0 301.0,56.9 301.1,55.3 301.1,55.5 301.2,54.3 301.3,53.4 301.3,53.3 301.4,50.5 301.5,49.9 301.5,49.1 301.6,48.0 301.7,47.6 301.7,45.9 301.8,45.6 301.9,44.3 301.9,41.8 302.0,41.5 302.1,39.6 302.2,39.8 302.2,38.7 302.3,38.4 302.4,37.1 302.4,36.0 302.5,35.9 302.6,34.4 302.6,32.2 302.7,31.6 302.8,31.3 302.9,31.2 302.9,28.9 303.0,28.0 303.6,28.7 304.1,29.8 304.4,30.0 304.6,31.5 304.7,31.9 304.9,33.2 305.0,33.7 305.2,34.6 305.3,35.4 305.5,37.4 305.7,37.5 305.8,39.3 306.0,40.0 306.1,41.3 306.2,42.7 306.3,41.2 306.4,43.3 306.6,44.1 306.7,45.9 306.8,47.5 306.9,49.7 307.0,50.0 307.1,50.9 307.2,51.2 307.3,51.7 307.4,53.3 307.5,52.4 307.7,55.5 307.8,55.9 307.9,57.3 308.0,58.0 308.0,58.3 308.1,59.3 308.1,60.6 308.2,62.0 308.2,63.2 308.3,63.8 308.3,65.2 308.4,66.5 308.4,66.2 308.5,67.9 308.5,67.9 308.5,69.6 308.6,71.6 308.6,71.5 308.7,74.3 308.7,74.3 308.8,75.6 308.8,76.1 308.9,77.6 308.9,78.7 309.0,79.1 309.0,80.0 309.0,80.6 309.1,81.6 309.1,84.3 309.2,83.9 309.2,84.7 309.3,85.5 309.3,85.8 309.3,87.7 309.4,89.2 309.4,89.7 309.5,90.5 309.5,92.3 309.6,93.3 309.6,93.7 309.7,95.2 309.7,95.3 309.7,97.6 309.8,97.3 309.8,98.8 309.9,100.1 309.9,100.7 310.0,101.2 310.0,103.0 310.4,105.3 311.0,105.0 311.1,105.0 311.2,101.8 311.2,102.1 311.3,100.2 311.4,100.2 311.5,98.1 311.6,98.4 311.7,97.4 311.7,97.2 311.8,95.9 311.9,93.7 312.0,93.0 312.0,92.6 312.1,90.7 312.1,89.9 312.1,88.7 312.2,86.8 312.2,87.4 312.2,84.6 312.3,84.8 312.3,84.4 312.3,83.1 312.4,80.9 312.4,80.6 312.4,80.5 312.5,79.8 312.5,79.1 312.6,75.8 312.6,76.3 312.6,74.7 312.7,74.5 312.7,71.9 312.7,71.9 312.8,71.5 312.8,69.6 312.8,68.8 312.9,67.3 312.9,67.8 312.9,65.1 313.0,64.4 313.0,64.0 313.1,62.8 313.2,61.8 313.2,62.4 313.3,60.2 313.4,58.4 313.5,58.4 313.5,57.3 313.6,56.2 313.7,55.0 313.8,54.3 313.9,52.2 313.9,51.2 314.0,50.7 314.1,49.3 314.2,49.5 314.2,49.4 314.3,47.9 314.4,46.0 314.5,45.3 314.7,44.2 314.8,42.6 314.9,41.1 315.1,41.4 315.2,39.0 315.3,39.3 315.5,38.0 315.6,37.0 315.7,36.5 315.9,35.1 316.0,34.1 316.2,32.6 316.3,30.9 316.4,30.8 316.6,30.0 316.7,31.5 316.8,32.7 317.0,33.9 317.1,33.3 317.2,34.3 317.3,36.4 317.5,36.6 317.6,38.0 317.8,40.7 318.0,40.2 318.2,39.9 318.4,41.5 318.6,43.0 318.7,43.1 318.7,39.8 318.8,40.1 318.8,38.1 318.9,39.1 319.0,36.7 319.0,35.3 319.1,33.8 319.1,33.5 319.2,31.3 319.2,31.7 319.3,32.5 319.4,30.1 319.4,28.8 319.5,27.2 319.5,27.3 319.6,26.0 320.2,24.9 320.7,23.8 321.0,24.0 321.9,24.5 323.0,23.0 323.9,23.8 325.0,24.0 325.6,24.2 326.2,26.6 326.6,26.0 326.8,26.9 327.1,28.3 327.3,29.0 327.6,30.0 327.7,31.8 327.7,32.4 327.8,32.8 327.8,34.5 327.9,34.7 327.9,36.1 328.0,38.1 328.0,37.3 328.1,38.3 328.2,39.7 328.2,40.6 328.3,42.9 328.3,41.9 328.4,45.5 328.4,46.1 328.5,45.7 328.5,47.1 328.6,48.0 328.6,48.8 328.7,50.5 328.7,51.4 328.8,52.5 328.8,53.5 328.8,55.3 328.9,54.9 328.9,56.5 329.0,56.9 329.0,58.0 329.1,59.1 329.1,60.0 329.1,61.2 329.2,61.4 329.2,62.9 329.3,63.6 329.3,64.2 329.3,65.5 329.4,66.6 329.4,67.9 329.5,67.9 329.5,69.8 329.6,70.2 329.6,72.0 329.6,72.4 329.6,74.1 329.7,75.8 329.7,76.2 329.7,76.7 329.7,77.7 329.8,79.9 329.8,78.9 329.8,81.8 329.8,81.0 329.9,82.6 329.9,84.0 329.9,84.8 329.9,87.1 330.0,87.3 330.0,88.0 330.0,89.0 330.0,88.7 330.1,87.0 330.1,85.5 330.1,85.8 330.2,85.0 330.2,83.9 330.2,81.2 330.3,82.3 330.3,79.7 330.3,79.5 330.4,78.8 330.4,78.6 330.4,74.9 330.5,74.3 330.5,74.8 330.6,73.3 330.6,71.8 330.6,69.0 330.7,70.3 330.7,68.9 330.7,66.2 330.8,68.8 330.8,64.3 330.8,64.6 330.9,64.0 330.9,63.2 330.9,62.5 331.0,60.8 331.0,60.0 331.0,58.4 331.1,57.8 331.1,55.6 331.2,55.2 331.2,56.4 331.2,53.5 331.3,53.0 331.3,53.3 331.4,51.7 331.4,50.1 331.5,49.5 331.5,47.8 331.5,46.4 331.6,46.7 331.6,45.1 331.7,45.1 331.7,42.8 331.7,41.8 331.8,41.3 331.8,39.9 331.9,38.8 331.9,37.4 332.0,37.2 332.0,36.0 332.0,37.2 332.1,39.3 332.1,39.0 332.2,38.8 332.2,41.3 332.3,43.6 332.3,42.7 332.4,43.4 332.4,44.9 332.5,44.0 332.5,46.8 332.5,47.9 332.6,48.0 332.6,50.4 332.7,50.4 332.7,50.7 332.8,52.5 332.8,54.4 332.9,56.3 332.9,56.8 333.0,57.1 333.0,58.0 333.1,58.6 333.1,59.8 333.2,61.7 333.3,61.6 333.4,63.3 333.4,64.6 333.5,64.4 333.6,65.6 333.6,67.3 333.7,68.0 333.8,68.9 333.9,69.6 333.9,70.9 334.0,72.0 334.2,74.2 334.5,74.9 334.7,73.8 335.0,76.0 335.1,77.0 335.2,78.1 335.2,79.0 335.3,79.0 335.4,80.9 335.5,82.1 335.5,82.5 335.6,84.2 335.7,83.3 335.8,84.9 335.8,87.0 335.9,88.2 336.0,89.0 336.1,87.9 336.1,86.7 336.2,86.1 336.2,85.7 336.3,84.6 336.4,83.0 336.4,81.7 336.5,81.7 336.5,80.4 336.6,79.6 336.6,77.8 336.7,76.4 336.8,76.2 336.8,74.6 336.9,74.8 336.9,73.6 337.0,72.0 337.2,69.5 337.3,70.5 337.5,70.0 337.7,68.8 337.8,66.7 338.0,66.0 338.1,66.4 338.2,68.7 338.2,69.7 338.3,70.0 338.4,70.2 338.5,70.9 338.5,73.2 338.6,73.4 338.7,74.5 338.8,76.3 338.8,77.7 338.9,76.5 339.0,79.0 339.1,79.5 339.1,81.9 339.2,82.0 339.3,82.8 339.4,84.4 339.4,84.2 339.5,85.1 339.6,87.0 339.6,89.0 339.7,89.7 339.8,90.0 339.9,91.7 339.9,91.7 340.0,93.0 340.3,93.2 340.5,93.8 340.8,96.1 341.0,97.5 341.3,98.1 341.6,99.0 341.7,98.0 341.8,96.7 341.9,96.8 342.0,95.0 342.1,93.0 342.2,94.0 342.3,91.6 342.4,91.3 342.5,90.0 342.6,89.8 342.7,88.2 342.8,87.9 342.9,86.2 343.0,85.0 343.0,83.7 343.1,82.7 343.1,82.4 343.1,80.4 343.2,80.6 343.2,78.8 343.2,77.4 343.3,76.4 343.3,75.9 343.3,76.2 343.4,74.5 343.4,73.0 343.4,71.4 343.5,72.3 343.5,70.0 343.5,70.8 343.6,72.0 343.6,72.7 343.6,74.9 343.7,75.1 343.7,75.7 343.7,77.1 343.8,77.3 343.8,78.3 343.8,79.9 343.9,79.0 343.9,82.8 343.9,84.4 344.0,83.2 344.0,85.0 344.1,85.9 344.2,85.9 344.2,88.1 344.3,89.1 344.4,90.5 344.5,90.1 344.6,91.6 344.7,92.5 344.7,93.8 344.8,96.5 344.9,95.8 345.0,97.0 345.4,97.9 345.8,98.5 346.3,100.3 346.4,100.0 346.5,100.8 346.6,98.8 346.7,98.1 346.7,95.3 346.8,95.7 346.9,94.0 347.0,93.9 347.1,92.8 347.2,91.5 347.2,88.9 347.3,89.1 347.4,87.7 347.5,87.4 347.6,86.1 347.7,85.8 347.7,83.0 347.8,82.6 347.9,82.0 348.0,81.0 348.0,80.2 348.1,78.7 348.1,78.0 348.1,77.0 348.2,76.7 348.2,74.9 348.2,74.2 348.3,71.8 348.3,70.2 348.3,70.0 348.4,70.3 348.4,67.4 348.4,68.3 348.5,66.9 348.5,66.0 348.6,65.0 348.6,63.5 348.7,62.7 348.7,62.6 348.8,61.3 348.9,60.0 348.9,58.7 349.0,58.2 349.0,57.8 349.1,56.0 349.2,54.8 349.2,53.2 349.3,53.1 349.4,51.4 349.4,50.0 349.5,50.6 349.5,48.6 349.6,48.0 349.7,45.6 349.8,45.5 349.9,46.3 350.0,43.9 350.1,42.1 350.2,41.3 350.3,41.5 350.4,40.3 350.5,39.2 350.6,37.9 350.7,37.4 350.8,37.1 350.9,35.4 351.0,34.0 351.1,34.9 351.2,35.0 351.2,37.3 351.3,39.1 351.4,39.4 351.5,39.1 351.6,41.1 351.7,42.9 351.7,42.5 351.8,44.3 351.9,45.8 352.0,46.0 352.2,48.1 352.4,46.9 352.6,47.7 352.8,50.2 353.0,51.4 353.2,51.6 353.4,52.8 353.6,54.0 354.0,54.6 354.5,56.6 354.9,55.2 355.4,57.8 355.6,58.0 356.3,56.4 357.0,56.1 357.6,56.0 357.8,55.9 357.9,57.3 358.1,58.9 358.3,60.0 358.5,62.2 358.6,61.8 358.8,63.1 359.0,64.0 359.0,65.2 359.1,66.2 359.1,68.0 359.2,68.1 359.2,69.1 359.2,69.9 359.3,71.0 359.3,72.0 359.3,73.7 359.4,74.0 359.4,75.0 359.5,76.0 359.5,77.0 359.5,76.5 359.5,74.7 359.6,74.6 359.6,72.6 359.6,72.5 359.6,72.3 359.6,70.2 359.6,68.9 359.7,67.2 359.7,67.5 359.7,66.0 359.7,65.6 359.7,63.5 359.8,63.4 359.8,63.2 359.8,61.3 359.8,59.8 359.8,58.1 359.9,58.0 359.9,57.5 359.9,56.4 359.9,54.2 359.9,53.3 359.9,52.3 360.0,51.3 360.0,50.8 360.0,50.0 360.2,49.2 360.4,49.4 360.6,47.2 360.8,47.1 361.0,44.0 361.2,45.2 361.4,43.7 361.6,42.0 361.7,41.3 361.8,40.6 361.9,39.4 362.0,39.3 362.1,37.6 362.2,34.8 362.3,33.8 362.4,34.0 362.5,36.1 362.6,35.9 362.7,37.9 362.8,37.7 362.9,38.5 363.0,39.7 363.1,41.2 363.2,42.1 363.3,42.5 363.4,44.3 363.5,45.4 363.6,46.0 363.7,46.4 363.8,47.2 363.9,47.6 364.1,49.8 364.2,51.0 364.3,51.5 364.4,52.5 364.5,53.9 364.6,55.0 364.8,56.3 364.9,57.5 365.0,58.0 365.0,57.3 365.1,56.8 365.1,54.3 365.1,54.4 365.2,53.3 365.2,51.3 365.2,50.5 365.3,50.3 365.3,49.1 365.4,47.1 365.4,46.6 365.4,47.1 365.5,45.6 365.5,44.1 365.5,43.9 365.6,41.4 365.6,40.9 365.6,40.7 365.7,38.8 365.7,37.2 365.7,37.4 365.8,37.1 365.8,33.3 365.9,34.1 365.9,32.2 365.9,31.8 366.0,30.0 366.0,30.0 366.2,30.8 366.5,27.6 366.7,27.1 367.0,26.0 367.8,24.9 368.4,25.0 368.5,25.3 368.5,26.7 368.6,28.1 368.7,30.2 368.8,30.2 368.8,32.1 368.9,31.2 369.0,33.0 369.0,33.7 369.1,33.9 369.2,38.6 369.2,36.8 369.3,38.1 369.4,38.4 369.5,39.6 369.5,40.2 369.6,42.0 369.7,43.7 369.8,43.7 369.8,44.9 369.9,46.1 370.0,46.1 370.1,48.1 370.2,48.9 370.3,50.3 370.3,50.7 370.4,52.0 370.5,53.3 370.6,54.0 370.7,53.7 370.7,51.5 370.8,51.7 370.9,49.3 371.0,48.9 371.0,48.1 371.1,47.1 371.2,44.3 371.2,44.3 371.3,43.9 371.4,43.7 371.5,41.5 371.5,42.1 371.6,40.0 371.9,39.7 372.3,41.9 372.6,43.2 373.0,44.0 373.6,44.8 374.1,45.8 374.7,47.1 375.0,47.0 375.7,47.1 376.4,48.8 377.0,49.0 377.2,50.7 377.4,50.8 377.7,50.3 377.9,52.1 378.1,53.3 378.3,54.1 378.5,56.1 378.7,56.3 379.0,58.0 379.2,60.7 379.4,60.4 379.6,60.0 379.8,61.7 380.0,64.0 380.2,64.4 380.4,64.2 380.6,66.6 380.8,66.5 381.0,68.0 381.0,70.5 381.1,69.6 381.1,71.4 381.2,72.4 381.2,72.7 381.3,73.9 381.3,75.8 381.4,76.3 381.4,76.9 381.5,78.3 381.5,80.2 381.5,80.6 381.6,81.3 381.6,82.2 381.7,81.9 381.7,84.1 381.8,84.6 381.8,86.5 381.9,86.6 381.9,88.3 382.0,88.3 382.0,90.0 382.1,91.6 382.2,91.5 382.2,93.0 382.3,94.4 382.4,94.8 382.5,96.0 382.5,97.7 382.6,99.2 382.7,97.7 382.8,99.3 382.8,101.4 382.9,102.6 383.0,103.0 383.1,101.7 383.2,101.1 383.2,99.9 383.3,100.6 383.4,97.9 383.5,96.2 383.5,94.9 383.6,94.1 383.7,94.9 383.8,92.8 383.8,93.4 383.9,91.5 384.0,90.0 384.1,91.3 384.2,92.4 384.3,93.5 384.4,94.6 384.5,94.3 384.6,95.6 384.7,96.6 384.8,98.0 384.9,98.8 385.0,100.0 385.1,98.2 385.2,97.5 385.4,98.3 385.5,97.5 385.6,94.4 385.7,94.3 385.8,93.0 385.9,91.5 386.1,91.6 386.2,90.0 386.3,90.2 386.4,88.4 386.5,86.9 386.6,84.3 386.8,85.0 386.9,84.7 387.0,83.0 387.0,81.5 387.1,81.6 387.1,80.5 387.2,77.8 387.2,77.9 387.3,77.2 387.3,76.5 387.3,75.1 387.4,74.0 387.4,72.8 387.5,71.8 387.5,71.0 387.6,69.3 387.6,69.5 387.7,67.8 387.7,67.4 387.7,65.7 387.8,65.3 387.8,64.1 387.9,63.6 387.9,62.3 388.0,61.7 388.0,60.0 388.0,58.9 388.1,58.0 388.1,56.8 388.2,55.1 388.2,54.9 388.3,54.8 388.3,53.5 388.4,51.4 388.4,51.2 388.5,50.5 388.5,48.1 388.6,48.3 388.6,47.2 388.7,46.5 388.7,45.2 388.8,42.8 388.8,41.6 388.9,43.4 388.9,40.8 389.0,40.0 389.6,41.7 390.1,42.5 390.4,42.0 390.5,43.1 390.6,43.2 390.7,45.9 390.8,46.0 390.9,47.3 391.0,48.3 391.1,49.6 391.2,50.7 391.3,50.0 391.4,51.0 391.5,53.0 391.6,53.9 391.7,55.5 391.8,55.8 391.9,56.8 392.0,58.0 392.1,60.4 392.1,60.9 392.2,61.8 392.3,62.7 392.3,62.4 392.4,63.9 392.5,64.9 392.5,65.2 392.6,66.4 392.7,68.1 392.7,68.1 392.8,70.3 392.9,71.3 392.9,71.8 393.0,73.0 393.0,73.8 393.1,75.4 393.1,76.3 393.2,77.2 393.2,77.2 393.3,77.9 393.3,81.4 393.4,80.5 393.4,81.7 393.5,81.7 393.5,83.4 393.5,84.5 393.6,86.5 393.6,85.2 393.7,87.0 393.7,88.7 393.8,89.6 393.8,90.4 393.9,91.7 393.9,91.9 394.0,94.2 394.0,95.0 394.1,96.8 394.1,97.1 394.2,97.6 394.2,99.9 394.3,100.3 394.3,100.3 394.4,101.6 394.4,102.6 394.5,104.0 394.6,105.8 394.6,105.5 394.7,106.9 394.7,108.1 394.8,108.2 394.8,109.6 394.9,111.4 394.9,112.8 395.0,113.0 395.2,112.7 395.4,115.5 395.6,115.7 395.8,117.8 396.0,118.0 396.2,119.4 396.5,121.3 396.7,121.1 397.0,122.0 397.1,120.7 397.2,119.4 397.3,118.0 397.4,118.4 397.5,117.4 397.6,116.6 397.7,115.3 397.8,113.0 397.9,112.8 398.0,112.0 398.1,112.8 398.2,114.1 398.3,115.5 398.4,117.0 398.5,117.2 398.5,116.5 398.6,118.3 398.7,118.5 398.8,120.4 398.9,121.1 399.0,123.0 399.2,122.2 399.5,120.9 399.7,120.9 400.0,119.9 400.2,117.8 400.5,117.8 400.7,116.2 401.0,115.0 401.1,116.3 401.2,117.9 401.4,117.2 401.5,118.9 401.6,121.0 401.7,120.4 401.9,122.1 402.0,123.0 403.0,123.0 404.0,123.0 405.0,123.0 406.0,123.0 407.0,123.0 408.0,123.0 409.0,123.0 410.0,123.0 411.0,123.0 412.0,123.0 413.0,123.0 414.0,123.0 415.0,123.0 416.0,123.0 417.0,123.0 418.0,123.0 419.0,123.0 420.0,123.0 421.0,123.0 422.0,123.0 423.0,123.0 424.0,123.0 425.0,123.0 426.0,123.0 427.0,123.0 428.0,123.0 429.0,123.0 430.0,123.0 431.0,123.0 432.0,123.0 433.0,123.0 434.0,123.0 435.0,123.0 436.0,123.0 437.0,123.0 438.0,123.0 439.0,123.0 440.0,123.0 441.0,123.0 442.0,123.0 442.0,122.1 442.1,120.7 442.1,119.1 442.2,118.5 442.2,117.3 442.2,117.8 442.3,116.2 442.3,115.5 442.4,113.2 442.4,113.4 442.4,112.1 442.5,111.7 442.5,109.5 442.6,109.6 442.6,108.0 442.6,109.9 442.7,111.2 442.7,110.4 442.8,111.2 442.8,112.0 442.8,114.7 442.9,115.4 442.9,116.2 443.0,116.4 443.0,118.9 443.0,120.1 443.1,120.0 443.1,120.9 443.2,122.8 443.2,123.0 444.2,123.0 445.2,123.0 446.2,123.0 447.2,123.0 448.2,123.0 449.2,123.0 450.2,123.0 451.2,123.0 452.2,123.0 453.2,123.0 454.2,123.0 455.2,123.0 456.2,123.0 457.2,123.0 458.2,123.0 459.2,123.0 460.2,123.0 461.2,123.0 462.2,123.0 463.2,123.0 464.2,123.0 465.2,123.0 466.2,123.0 467.2,123.0 468.2,123.0 469.2,123.0 470.2,123.0 471.2,123.0 472.2,123.0 473.2,123.0 474.2,123.0 475.2,123.0 476.2,123.0 477.2,123.0 478.2,123.0 479.2,123.0 480.0,123.0 480.6,122.5 481.0,121.6 481.2,121.6 481.4,119.4 481.6,118.9 481.8,117.5 482.0,116.3 482.2,115.5 482.4,114.6 482.6,114.1 482.8,112.6 483.0,112.0 483.1,111.1 483.2,109.5 483.3,108.2 483.4,109.0 483.5,106.4 483.6,107.3 483.7,105.7 483.8,102.5 483.9,102.6 484.0,101.8 484.1,101.1 484.2,99.9 484.3,98.6 484.4,98.9 484.5,97.0 484.6,96.7 484.7,94.6 484.8,93.6 484.9,94.0 484.9,92.8 485.0,93.6 485.1,94.0 485.3,95.7 485.4,97.5 485.5,97.7 485.6,98.3 485.7,100.2 485.8,101.4 486.0,101.6 486.0,102.0 486.1,102.8 486.2,103.7 486.3,106.8 486.5,105.8 486.6,108.2 486.7,107.9 486.8,109.2 486.9,108.5 487.0,111.1 487.1,112.0 487.3,112.7 487.4,113.6 487.5,114.0 487.6,114.9 487.7,117.0 487.8,117.5 487.9,118.6 488.0,117.5 488.0,116.5 488.1,115.3 488.2,114.1 488.3,114.9 488.3,111.9 488.4,111.3 488.5,110.4 488.6,108.8 488.6,108.0 488.7,108.2 488.8,107.3 488.9,105.7 488.9,106.9 489.0,104.2 489.1,103.5 489.1,101.1 489.2,101.4 489.3,100.8 489.4,98.4 489.4,98.9 489.5,96.1 489.6,94.9 489.7,94.6 489.7,93.1 489.8,92.8 490.2,94.2 490.5,93.9 490.9,95.7 491.0,96.0 491.1,95.7 491.1,98.0 491.2,99.7 491.3,99.8 491.4,101.2 491.4,102.7 491.5,102.2 491.6,103.1 491.6,105.0 491.7,106.2 491.8,106.8 491.9,107.3 491.9,109.8 492.0,109.2 492.1,110.8 492.1,111.9 492.2,112.7 492.4,114.2 492.6,114.4 492.7,115.1 492.9,118.0 493.1,117.0 493.3,119.2 493.4,119.5 493.6,120.2 493.8,121.6 493.9,120.6 494.0,119.4 494.1,118.8 494.2,115.9 494.3,116.6 494.4,115.7 494.5,114.0 494.6,113.4 494.8,114.2 494.9,112.9 495.0,111.1 495.1,109.8 495.2,108.5 495.3,108.6 495.4,106.4 495.5,105.1 495.6,105.2 495.7,103.0 495.8,102.8 496.0,101.3 496.1,101.8 496.3,98.7 496.5,98.8 496.6,98.0 496.8,97.1 497.0,94.9 497.1,94.8 497.3,93.7 497.5,94.3 497.6,92.6 497.8,90.9 498.0,89.4 498.1,89.5 498.3,88.4 498.5,86.9 498.6,85.8 498.8,84.9 498.9,83.7 499.0,81.8 499.1,81.5 499.1,81.6 499.2,80.9 499.3,80.2 499.4,77.7 499.5,77.4 499.6,74.3 499.6,74.8 499.7,73.1 499.8,73.0 499.9,74.6 500.0,73.9 500.1,75.3 500.2,76.2 500.3,78.3 500.4,79.5 500.5,79.3 500.6,82.2 500.7,82.1 500.8,82.4 500.9,84.2 501.0,85.0 501.1,86.0 501.3,87.6 501.4,88.2 501.6,90.5 501.7,90.7 501.9,90.5 502.0,92.5 502.1,93.4 502.3,93.2 502.4,94.4 502.6,95.3 502.7,96.8 502.8,96.1 502.9,99.2 503.0,99.6 503.1,101.6 503.1,101.4 503.2,102.8 503.3,104.3 503.4,105.4 503.5,106.0 503.6,106.1 503.7,108.0 503.9,110.5 504.0,110.6 504.2,111.9 504.3,113.1 504.5,113.9 504.6,114.2 504.8,115.2 505.0,116.3 505.1,115.9 505.3,118.4 505.4,118.2 505.6,120.1 505.7,120.6 505.8,118.9 505.9,119.1 506.0,117.3 506.1,118.3 506.3,115.8 506.4,115.0 506.5,113.0 506.6,112.5 506.7,111.6 506.8,110.5 506.9,109.4 507.0,108.1 507.2,108.2 507.3,106.4 507.4,105.1 507.5,105.0 507.6,103.2 507.7,102.8 507.9,101.7 508.1,100.5 508.3,99.2 508.5,98.7 508.8,97.4 509.0,96.8 509.1,96.9 509.2,99.0 509.3,99.6 509.4,99.8 509.5,101.5 509.6,102.9 509.7,104.1 509.9,105.0 510.0,105.9 510.1,107.2 510.2,107.4 510.3,108.2 510.4,110.2 510.5,110.4 510.6,111.7 510.7,112.7 510.9,114.1 511.1,115.3 511.3,116.5 511.5,116.1 511.7,117.3 512.0,119.0 512.2,118.6 512.4,119.7 512.6,121.6 513.6,122.0 514.6,121.2 515.6,121.0 516.6,122.2 517.6,122.0 518.6,122.2 519.6,121.4 520.6,121.4 521.6,121.4 522.6,121.8 523.6,120.2 524.6,121.1 525.6,121.6 525.8,121.1 526.0,119.1 526.2,118.6 526.4,117.8 526.6,117.1 526.9,115.4 527.1,114.0 527.3,115.5 527.5,112.7 527.9,111.3 528.4,112.1 528.8,108.8 529.3,109.2 529.5,108.7 529.9,109.5 530.3,111.8 530.7,112.8 531.0,112.0 531.0,111.7 531.1,109.3 531.1,108.5 531.1,107.5 531.1,106.7 531.2,106.2 531.2,104.5 531.2,103.8 531.2,104.0 531.3,103.0 531.3,99.7 531.3,99.4 531.3,98.8 531.4,98.9 531.4,96.8 531.4,97.3 531.4,95.3 531.5,95.0 531.5,92.4 531.5,91.8 531.5,91.7 531.6,90.4 531.6,87.7 531.6,87.8 531.6,87.1 531.7,86.4 531.7,84.6 531.7,85.2 531.7,83.1 531.8,83.0 531.8,81.3 531.8,80.1 531.8,78.8 531.9,77.2 531.9,77.6 531.9,76.5 531.9,75.7 532.0,73.8 532.0,73.0 532.3,71.4 532.6,70.8 533.0,70.0 533.0,70.8 533.1,72.0 533.1,73.7 533.2,73.4 533.2,74.7 533.3,76.5 533.3,77.6 533.4,79.5 533.4,79.4 533.5,79.4 533.5,80.3 533.6,81.4 533.6,83.0 533.7,84.2 533.7,84.9 533.8,85.6 533.8,86.9 533.9,87.9 533.9,89.4 534.0,90.0 534.0,91.1 534.1,91.4 534.1,92.2 534.1,95.0 534.2,94.9 534.2,95.9 534.2,97.0 534.2,98.8 534.3,98.8 534.3,100.1 534.3,100.8 534.4,102.4 534.4,102.3 534.4,104.1 534.5,105.7 534.5,106.8 534.5,107.4 534.6,108.2 534.6,110.1 534.6,110.5 534.7,111.9 534.7,111.2 534.7,112.2 534.7,114.5 534.8,114.8 534.8,115.7 534.8,116.3 534.9,119.0 534.9,118.2 534.9,120.1 535.0,120.0 535.0,122.0 535.9,122.3 537.0,123.0" fill="none" stroke="#ec6a6a" stroke-width="0.85" stroke-linejoin="round" stroke-opacity="1.0"/>
<text x="291.40" y="25.60" text-anchor="end" style="font-family:'Liberation Serif',serif;font-size:4.4px;font-weight:normal" fill="#1a1a1a" stroke="#1a1a1a" stroke-width="0.16">100</text>
<text x="291.40" y="35.51" text-anchor="end" style="font-family:'Liberation Serif',serif;font-size:4.4px;font-weight:normal" fill="#1a1a1a" stroke="#1a1a1a" stroke-width="0.16">90</text>
<text x="291.40" y="45.42" text-anchor="end" style="font-family:'Liberation Serif',serif;font-size:4.4px;font-weight:normal" fill="#1a1a1a" stroke="#1a1a1a" stroke-width="0.16">80</text>
<text x="291.40" y="55.33" text-anchor="end" style="font-family:'Liberation Serif',serif;font-size:4.4px;font-weight:normal" fill="#1a1a1a" stroke="#1a1a1a" stroke-width="0.16">70</text>
<text x="291.40" y="65.24" text-anchor="end" style="font-family:'Liberation Serif',serif;font-size:4.4px;font-weight:normal" fill="#1a1a1a" stroke="#1a1a1a" stroke-width="0.16">60</text>
<text x="291.40" y="75.15" text-anchor="end" style="font-family:'Liberation Serif',serif;font-size:4.4px;font-weight:normal" fill="#1a1a1a" stroke="#1a1a1a" stroke-width="0.16">50</text>
<text x="291.40" y="85.06" text-anchor="end" style="font-family:'Liberation Serif',serif;font-size:4.4px;font-weight:normal" fill="#1a1a1a" stroke="#1a1a1a" stroke-width="0.16">40</text>
<text x="291.40" y="94.97" text-anchor="end" style="font-family:'Liberation Serif',serif;font-size:4.4px;font-weight:normal" fill="#1a1a1a" stroke="#1a1a1a" stroke-width="0.16">30</text>
<text x="291.40" y="104.88" text-anchor="end" style="font-family:'Liberation Serif',serif;font-size:4.4px;font-weight:normal" fill="#1a1a1a" stroke="#1a1a1a" stroke-width="0.16">20</text>
<text x="291.40" y="114.79" text-anchor="end" style="font-family:'Liberation Serif',serif;font-size:4.4px;font-weight:normal" fill="#1a1a1a" stroke="#1a1a1a" stroke-width="0.16">10</text>
<text x="291.40" y="124.70" text-anchor="end" style="font-family:'Liberation Serif',serif;font-size:4.4px;font-weight:normal" fill="#1a1a1a" stroke="#1a1a1a" stroke-width="0.16">0</text>
<text x="291.83" y="132.50" text-anchor="middle" style="font-family:'Liberation Serif',serif;font-size:4.4px;font-weight:normal" fill="#1a1a1a" stroke="#1a1a1a" stroke-width="0.16">0</text>
<text x="312.76" y="132.50" text-anchor="middle" style="font-family:'Liberation Serif',serif;font-size:4.4px;font-weight:normal" fill="#1a1a1a" stroke="#1a1a1a" stroke-width="0.16">600</text>
<text x="333.70" y="132.50" text-anchor="middle" style="font-family:'Liberation Serif',serif;font-size:4.4px;font-weight:normal" fill="#1a1a1a" stroke="#1a1a1a" stroke-width="0.16">1200</text>
<text x="354.63" y="132.50" text-anchor="middle" style="font-family:'Liberation Serif',serif;font-size:4.4px;font-weight:normal" fill="#1a1a1a" stroke="#1a1a1a" stroke-width="0.16">1800</text>
<text x="375.57" y="132.50" text-anchor="middle" style="font-family:'Liberation Serif',serif;font-size:4.4px;font-weight:normal" fill="#1a1a1a" stroke="#1a1a1a" stroke-width="0.16">2400</text>
<text x="396.50" y="132.50" text-anchor="middle" style="font-family:'Liberation Serif',serif;font-size:4.4px;font-weight:normal" fill="#1a1a1a" stroke="#1a1a1a" stroke-width="0.16">3000</text>
<text x="417.43" y="132.50" text-anchor="middle" style="font-family:'Liberation Serif',serif;font-size:4.4px;font-weight:normal" fill="#1a1a1a" stroke="#1a1a1a" stroke-width="0.16">3600</text>
<text x="438.37" y="132.50" text-anchor="middle" style="font-family:'Liberation Serif',serif;font-size:4.4px;font-weight:normal" fill="#1a1a1a" stroke="#1a1a1a" stroke-width="0.16">4200</text>
<text x="459.30" y="132.50" text-anchor="middle" style="font-family:'Liberation Serif',serif;font-size:4.4px;font-weight:normal" fill="#1a1a1a" stroke="#1a1a1a" stroke-width="0.16">4800</text>
<text x="480.24" y="132.50" text-anchor="middle" style="font-family:'Liberation Serif',serif;font-size:4.4px;font-weight:normal" fill="#1a1a1a" stroke="#1a1a1a" stroke-width="0.16">5400</text>
<text x="501.17" y="132.50" text-anchor="middle" style="font-family:'Liberation Serif',serif;font-size:4.4px;font-weight:normal" fill="#1a1a1a" stroke="#1a1a1a" stroke-width="0.16">6000</text>
<text x="522.10" y="132.50" text-anchor="middle" style="font-family:'Liberation Serif',serif;font-size:4.4px;font-weight:normal" fill="#1a1a1a" stroke="#1a1a1a" stroke-width="0.16">6600</text>
<text x="536.13" y="132.50" text-anchor="middle" style="font-family:'Liberation Serif',serif;font-size:4.4px;font-weight:normal" fill="#1a1a1a" stroke="#1a1a1a" stroke-width="0.16">7002</text>
<text x="419.30" y="137.60" text-anchor="middle" style="font-family:'Liberation Sans',sans-serif;font-size:4.35px;font-weight:bold" fill="#111" stroke="#111" stroke-width="0.08">Nucleotide Position</text>
<text transform="translate(283.90,73.30) rotate(-90)" text-anchor="middle" style="font-family:'Liberation Sans',sans-serif;font-size:4.38px;font-weight:bold" fill="#111" stroke="#111" stroke-width="0.08">% of Permuted Trees</text>
<rect x="376.1" y="26.6" width="73.00" height="7.00" fill="#fff" stroke="#8c8c8c" stroke-width="0.6"/><line x1="376.40000000000003" y1="26.6" x2="448.8" y2="26.6" stroke="#cfcfcf" stroke-width="0.7"/><text x="378.00" y="31.70" text-anchor="start" style="font-family:'Liberation Sans',sans-serif;font-size:4.52px;font-weight:bold" fill="#111" stroke="#111" stroke-width="0.2">Query Sequence: MZ493232</text>
<text x="277.00" y="18.70" text-anchor="start" style="font-family:'Liberation Sans',sans-serif;font-size:10.8px;font-weight:bold" fill="#000" stroke="#000" stroke-width="0.08">b</text>
<line x1="17.8" y1="157.09" x2="266.4" y2="157.09" stroke="#e9e9e9" stroke-width="0.8"/><line x1="17.8" y1="162.28" x2="266.4" y2="162.28" stroke="#e9e9e9" stroke-width="0.8"/><line x1="17.8" y1="167.47" x2="266.4" y2="167.47" stroke="#e9e9e9" stroke-width="0.8"/><line x1="17.8" y1="172.66" x2="266.4" y2="172.66" stroke="#e9e9e9" stroke-width="0.8"/><line x1="17.8" y1="177.85" x2="266.4" y2="177.85" stroke="#e9e9e9" stroke-width="0.8"/><line x1="17.8" y1="183.04" x2="266.4" y2="183.04" stroke="#e9e9e9" stroke-width="0.8"/><line x1="17.8" y1="188.23" x2="266.4" y2="188.23" stroke="#e9e9e9" stroke-width="0.8"/><line x1="17.8" y1="193.42" x2="266.4" y2="193.42" stroke="#e9e9e9" stroke-width="0.8"/><line x1="17.8" y1="198.61" x2="266.4" y2="198.61" stroke="#e9e9e9" stroke-width="0.8"/><line x1="17.8" y1="203.80" x2="266.4" y2="203.80" stroke="#e9e9e9" stroke-width="0.8"/><line x1="17.8" y1="208.99" x2="266.4" y2="208.99" stroke="#e9e9e9" stroke-width="0.8"/><line x1="17.8" y1="214.18" x2="266.4" y2="214.18" stroke="#e9e9e9" stroke-width="0.8"/><line x1="17.8" y1="219.37" x2="266.4" y2="219.37" stroke="#e9e9e9" stroke-width="0.8"/><line x1="17.8" y1="224.56" x2="266.4" y2="224.56" stroke="#e9e9e9" stroke-width="0.8"/><line x1="17.8" y1="229.75" x2="266.4" y2="229.75" stroke="#e9e9e9" stroke-width="0.8"/><line x1="17.8" y1="234.94" x2="266.4" y2="234.94" stroke="#e9e9e9" stroke-width="0.8"/><line x1="17.8" y1="240.13" x2="266.4" y2="240.13" stroke="#e9e9e9" stroke-width="0.8"/><line x1="17.8" y1="245.32" x2="266.4" y2="245.32" stroke="#e9e9e9" stroke-width="0.8"/><line x1="17.8" y1="250.51" x2="266.4" y2="250.51" stroke="#e9e9e9" stroke-width="0.8"/><polyline points="17.8,151.9 266.4,151.9 266.4,255.7" fill="none" stroke="#cdcdcd" stroke-width="1"/><polyline points="17.8,151.9 17.8,255.7 266.4,255.7" fill="none" stroke="#a6a6a6" stroke-width="1.4"/>
<polyline points="21.0,198.0 21.1,201.8 21.1,203.1 21.2,200.4 21.2,200.7 21.3,205.0 21.4,202.9 21.4,202.7 21.5,206.4 21.5,205.6 21.6,206.2 21.6,210.4 21.7,209.1 21.8,209.6 21.8,212.2 21.9,212.7 21.9,215.4 22.0,215.0 22.0,216.1 22.1,219.0 22.1,219.4 22.2,221.3 22.2,221.4 22.3,221.1 22.3,222.7 22.4,223.0 22.4,222.0 22.5,223.5 22.5,226.9 22.6,224.0 22.6,226.9 22.7,227.4 22.7,229.9 22.8,229.7 22.8,232.3 22.9,232.7 22.9,233.4 23.0,235.0 23.6,234.8 24.1,233.9 24.7,237.6 25.0,238.0 25.9,235.9 27.0,237.0 27.4,237.5 27.9,239.3 28.3,241.0 28.5,240.0 28.6,239.9 28.7,239.9 28.7,235.2 28.8,236.9 28.9,237.0 29.0,234.5 29.1,231.6 29.2,232.6 29.2,230.4 29.3,229.2 29.4,230.4 29.5,227.8 29.6,225.6 29.7,225.2 29.7,227.5 29.8,223.0 29.9,223.9 30.0,222.0 30.4,221.3 30.7,221.6 31.1,218.9 31.4,217.1 31.5,218.0 31.8,216.2 32.1,214.8 32.4,218.4 32.6,214.4 33.0,213.0 33.2,213.6 33.4,216.5 33.6,216.8 33.8,216.7 34.0,218.7 34.3,219.2 34.5,220.0 34.6,222.4 34.7,224.1 34.8,222.6 34.9,223.9 35.0,224.8 35.2,227.5 35.3,227.5 35.4,228.9 35.5,230.1 35.6,229.1 35.7,231.1 35.8,233.7 35.9,234.1 36.0,234.9 36.1,234.6 36.3,235.5 36.4,235.8 36.5,237.6 36.6,239.0 36.7,237.9 36.8,235.2 36.9,237.5 37.0,234.1 37.1,234.4 37.2,233.8 37.3,231.4 37.4,228.8 37.5,231.3 37.6,229.6 37.7,227.8 37.8,228.5 37.9,227.2 38.0,225.0 38.2,222.8 38.3,222.9 38.5,219.8 38.7,220.7 38.8,221.8 39.0,218.0 39.2,219.1 39.3,215.2 39.5,215.8 39.6,216.4 39.8,216.3 40.0,213.0 40.3,214.5 40.6,215.9 41.0,216.0 41.1,219.2 41.2,214.9 41.3,216.8 41.4,222.4 41.6,224.1 41.7,222.7 41.8,223.1 41.9,224.3 42.0,225.0 42.1,224.1 42.2,222.2 42.2,222.0 42.3,220.9 42.4,220.9 42.5,219.9 42.5,219.3 42.6,217.8 42.7,214.8 42.8,216.8 42.8,210.7 42.9,213.2 43.0,212.0 43.2,211.5 43.4,209.4 43.6,211.5 43.8,206.7 44.0,207.0 44.1,206.5 44.1,208.4 44.2,210.5 44.2,212.0 44.3,212.2 44.3,213.8 44.4,213.1 44.4,214.2 44.5,216.2 44.6,215.3 44.6,218.2 44.7,218.5 44.7,220.9 44.8,219.7 44.8,221.3 44.9,222.3 44.9,223.5 45.0,223.7 45.1,225.7 45.1,225.3 45.2,228.7 45.2,229.8 45.3,230.0 45.3,230.7 45.4,230.9 45.4,231.8 45.5,233.7 45.6,233.8 45.6,234.5 45.7,237.2 45.7,237.9 45.8,238.4 45.8,238.9 45.9,240.9 45.9,241.1 46.0,243.0 46.4,243.4 47.0,245.0 47.3,244.3 47.6,244.0 47.9,243.1 48.2,240.4 48.6,240.0 48.7,242.5 48.7,240.5 48.8,242.8 48.8,245.6 48.9,248.0 48.9,246.2 49.0,246.6 49.1,247.5 49.1,247.5 49.2,249.8 49.2,250.5 49.3,251.0 49.3,254.5 49.4,253.0 49.5,255.7 49.5,255.8" fill="none" stroke="#f4a8bc" stroke-width="0.85" stroke-linejoin="round" stroke-opacity="1.0"/><polyline points="119.0,255.8 119.0,255.7 119.1,254.6 119.1,252.1 119.2,251.2 119.2,248.3 119.2,250.2 119.3,248.5 119.3,248.3 119.3,246.0 119.4,246.4 119.4,242.9 119.5,241.1 119.5,243.4 119.5,243.2 119.6,236.9 119.6,241.5 119.7,238.4 119.7,237.6 119.7,234.9 119.8,234.6 119.8,235.7 119.9,232.9 119.9,232.8 119.9,231.6 120.0,233.3 120.0,230.0 120.1,230.1 120.2,226.4 120.3,226.4 120.4,224.6 120.5,223.3 120.6,223.2 120.7,224.4 120.8,222.1 120.9,221.9 121.0,219.9 121.1,218.5 121.2,218.2 121.3,217.0 121.4,218.5 121.5,217.4 121.6,214.6 121.7,213.9 121.8,209.6 121.9,211.0 122.0,210.0 122.1,212.0 122.2,207.0 122.3,208.0 122.4,207.6 122.5,204.5 122.5,203.8 122.6,202.5 122.7,203.1 122.8,201.1 122.9,201.9 123.0,200.5 123.1,198.1 123.2,200.3 123.3,195.7 123.4,194.3 123.4,193.8 123.5,192.0 123.6,191.6 123.7,191.0 123.8,191.2 123.9,187.1 124.0,188.0 124.2,185.3 124.4,185.1 124.6,184.7 124.8,184.7 125.0,182.1 125.2,184.0 125.4,180.5 125.6,179.9 125.8,179.3 126.0,178.0 126.3,178.5 126.6,176.5 126.9,175.2 127.1,173.5 127.4,173.4 127.7,172.8 128.0,170.9 128.3,170.3 128.6,167.1 128.9,167.8 129.0,168.0 129.4,168.6 129.9,168.0 130.3,165.2 130.8,161.7 131.0,164.0 131.7,165.6 132.4,162.4 133.0,162.0 133.4,166.1 133.9,163.3 134.3,165.9 134.8,164.8 135.0,166.0 135.2,168.7 135.5,169.4 135.7,167.6 136.0,171.5 136.2,174.5 136.5,171.6 136.7,171.3 137.0,174.0 137.2,175.3 137.5,175.4 137.7,175.0 138.0,176.6 138.2,179.2 138.5,177.9 138.7,182.2 139.0,182.0 139.3,183.5 139.6,183.7 139.9,186.6 140.3,184.7 140.6,187.6 140.9,186.0 141.0,188.0 141.2,188.6 141.5,190.8 141.7,190.2 142.0,191.8 142.2,193.7 142.5,195.7 142.7,196.4 143.0,196.0 143.4,197.5 143.9,197.5 144.3,196.9 144.8,201.7 145.0,200.0 145.1,203.4 145.2,199.3 145.2,204.1 145.3,203.9 145.4,205.9 145.5,206.4 145.6,206.7 145.6,208.0 145.7,208.9 145.8,211.4 145.9,210.7 146.0,211.3 146.0,213.8 146.1,214.8 146.2,215.5 146.3,216.3 146.4,218.8 146.4,219.4 146.5,219.2 146.6,219.7 146.7,221.8 146.8,219.6 146.8,222.3 146.9,223.0 147.0,225.0 147.2,224.2 147.3,222.5 147.5,225.1 147.6,222.0 147.8,220.6 147.9,221.9 148.1,218.1 148.2,216.7 148.4,217.7 148.5,216.2 148.7,215.3 148.8,214.7 149.0,212.0 149.6,212.4 150.1,212.8 150.7,213.6 151.0,215.0 151.2,216.1 151.4,218.2 151.6,216.6 151.8,218.3 152.0,218.2 152.2,223.4 152.4,222.9 152.6,223.0 152.7,222.3 152.8,219.5 152.8,218.7 152.9,218.2 153.0,218.1 153.1,215.4 153.1,215.7 153.2,216.6 153.3,214.1 153.4,213.2 153.5,209.4 153.5,210.7 153.6,209.9 153.7,208.2 153.8,206.3 153.8,207.0 153.9,204.8 154.0,205.0 154.2,203.3 154.4,201.1 154.6,201.9 154.8,202.2 155.0,199.0 155.2,199.5 155.4,196.2 155.6,197.9 155.8,196.9 156.0,195.0 156.1,193.5 156.3,194.1 156.4,190.9 156.5,191.1 156.7,192.2 156.8,189.0 156.9,186.7 157.1,188.5 157.2,186.8 157.3,184.7 157.5,181.8 157.6,180.7 157.7,180.2 157.9,183.0 158.0,180.0 158.3,179.4 158.6,177.0 158.9,178.6 159.1,178.0 159.4,174.2 159.7,174.9 160.0,171.3 160.3,172.8 160.6,173.7 160.9,168.6 161.0,170.0 161.7,169.4 162.4,167.8 163.0,168.0 163.7,168.6 164.4,169.5 165.0,170.0 165.3,171.3 165.6,173.0 165.9,173.5 166.3,175.1 166.6,176.0 166.9,177.1 167.0,176.0 167.3,176.1 167.6,178.4 167.9,178.4 168.3,178.7 168.6,183.2 168.9,182.1 169.0,182.0 169.2,183.0 169.5,181.3 169.7,184.6 170.0,186.9 170.2,186.6 170.5,187.1 170.7,190.6 171.0,190.0 171.3,190.6 171.6,191.5 171.9,192.7 172.3,193.5 172.6,196.1 172.9,196.4 173.0,196.0 173.3,195.0 173.6,193.7 173.9,192.9 174.3,194.3 174.6,190.9 174.9,191.1 175.0,190.0 175.4,187.1 175.9,188.6 176.3,188.2 176.8,188.0 177.0,186.0 177.4,187.3 177.9,188.5 178.3,189.1 178.8,190.9 179.0,190.0 179.3,193.5 179.6,192.2 179.9,191.8 180.3,194.5 180.6,194.6 180.9,196.5 181.0,196.0 181.4,197.9 181.9,198.0 182.3,198.1 182.8,200.0 183.0,200.0 183.2,199.4 183.4,202.3 183.6,201.8 183.8,204.5 184.0,205.1 184.2,205.6 184.4,205.3 184.6,207.9 184.8,208.0 185.0,210.0 185.2,208.9 185.4,208.9 185.6,208.3 185.8,204.4 186.0,206.3 186.2,205.8 186.4,204.6 186.6,202.5 186.8,201.1 187.0,200.0 187.2,201.2 187.5,197.7 187.7,195.2 188.0,196.2 188.2,195.5 188.5,192.9 188.7,191.7 189.0,192.0 189.3,193.5 189.6,190.2 189.9,190.1 190.3,187.5 190.6,185.4 190.9,186.1 191.0,186.0 191.4,186.8 191.9,183.4 192.3,181.1 192.8,182.2 193.0,182.0 193.3,182.6 193.7,183.9 194.0,183.5 194.3,185.4 194.7,186.1 195.0,187.7 195.3,187.9 195.7,186.0 196.0,186.0 196.3,183.9 196.7,180.3 197.0,182.0 197.4,178.7 197.9,180.9 198.3,180.4 198.8,179.5 199.0,178.0 199.7,177.2 200.3,174.3 201.0,175.8 201.3,174.3 201.6,174.4 201.9,174.7 202.3,171.6 202.6,170.4 202.9,169.1 203.0,169.8 203.7,171.8 204.3,172.4 205.0,172.0 205.2,170.7 205.5,175.5 205.7,173.8 206.0,174.0 206.2,174.9 206.5,176.9 206.7,181.7 207.0,179.8 207.3,182.1 207.6,176.4 207.9,176.1 208.3,176.2 208.6,175.6 208.9,173.5 209.0,173.8 209.5,172.6 210.1,175.0 210.6,175.5 211.0,177.0 211.4,175.7 211.8,179.0 212.2,177.9 212.6,178.4 213.0,183.5 213.5,183.7 213.9,185.2 214.0,183.7 214.4,182.9 214.8,181.4 215.2,180.8 215.6,178.3 216.0,179.0 216.7,179.2 217.3,177.8 218.0,176.4 218.6,173.7 218.8,175.8 219.4,174.8 220.0,176.2 220.5,175.2 220.8,173.0 221.2,175.0 221.6,174.4 222.0,176.0 222.3,177.4 222.8,177.8 223.4,177.2 224.0,177.5 224.5,174.5 224.8,175.0 225.3,172.9 225.9,173.7 226.4,176.4 226.7,178.0 227.0,177.2 227.4,180.7 227.7,182.2 228.0,181.8 228.4,183.4 228.7,183.7 229.1,184.7 229.6,185.7 230.0,185.8 230.5,186.8 230.7,187.7 230.9,188.2 231.1,185.4 231.3,184.7 231.5,185.3 231.7,184.1 231.9,181.4 232.1,181.2 232.3,178.6 232.5,179.1 232.7,178.0 232.9,177.4 233.0,176.0 233.2,175.3 233.4,174.5 233.5,169.9 233.7,171.0 233.8,171.2 234.0,169.5 234.2,167.9 234.3,167.8 234.5,169.2 234.7,165.9 234.7,165.9 235.0,164.2 235.3,163.4 235.7,161.6 236.0,162.7 236.3,160.0 236.7,160.0 237.4,160.4 238.1,159.7 238.6,158.0 239.0,159.6 239.5,161.1 239.9,160.6 240.4,159.4 240.6,162.0 241.1,162.8 241.5,164.6 242.0,162.7 242.4,164.1 242.6,165.9 243.3,166.6 244.0,165.0 244.6,163.9 245.0,166.5 245.5,166.5 245.9,166.7 246.4,168.0 246.6,168.0 247.1,170.0 247.5,169.7 248.0,170.4 248.5,171.9 248.6,171.8 249.3,172.1 249.9,176.3 250.6,174.0 251.0,172.1 251.4,170.3 251.8,169.6 252.2,171.7 252.5,169.8 253.2,170.0 253.8,171.5 254.5,172.0 255.2,171.0 255.9,170.9 256.5,170.0 257.2,167.4 257.9,168.7 258.5,167.9 259.2,166.5 259.9,167.9 260.5,166.0 260.9,165.9 261.4,162.7 261.8,162.1 262.3,163.1 262.5,162.0" fill="none" stroke="#f4a8bc" stroke-width="0.85" stroke-linejoin="round" stroke-opacity="1.0"/>
<polyline points="21.0,200.0 21.1,202.5 21.1,203.0 21.2,202.8 21.3,205.4 21.4,202.0 21.4,205.3 21.5,207.0 21.5,206.8 21.6,207.7 21.6,210.7 21.6,211.4 21.7,212.4 21.7,212.8 21.7,214.8 21.7,216.0 21.8,215.3 21.8,218.2 21.8,216.8 21.9,221.2 21.9,218.3 21.9,220.7 22.0,220.6 22.0,223.0 22.2,224.1 22.3,226.6 22.5,225.0 22.7,229.2 22.8,229.7 23.0,229.0 23.1,230.5 23.2,230.3 23.4,233.1 23.5,229.4 23.6,233.0 23.7,236.2 23.9,235.9 24.0,237.0 24.6,240.9 25.1,237.8 25.4,239.0 25.7,238.3 26.0,240.6 26.3,242.6 26.6,243.0 27.0,244.2 27.4,241.0 27.5,239.8 27.7,243.2 27.8,245.6 27.9,244.1 28.1,245.4 28.2,245.4 28.3,248.9 28.5,250.0 28.6,250.0 28.7,249.8 28.8,248.3 28.9,248.3 29.1,245.9 29.2,246.0 29.3,245.1 29.4,243.0 29.5,243.7 29.6,241.7 29.8,240.1 29.9,239.9 30.0,236.1 30.1,234.8 30.2,238.1 30.4,235.2 30.5,232.8 30.6,233.0 30.8,231.3 30.9,230.9 31.1,230.1 31.3,228.1 31.5,229.3 31.6,225.0 31.8,229.7 32.0,225.0 32.2,222.7 32.3,225.2 32.5,222.9 32.7,218.9 32.9,218.5 33.0,219.2 33.2,218.5 33.4,217.0 33.6,217.4 33.8,219.0 34.0,220.1 34.2,219.5 34.4,222.0 34.6,223.0 34.7,226.9 34.8,224.2 34.8,224.7 34.9,227.8 35.0,229.7 35.1,230.3 35.2,229.2 35.3,230.9 35.3,232.2 35.4,232.7 35.5,234.5 35.6,236.3 35.7,236.7 35.7,236.9 35.8,237.7 35.9,241.2 36.0,240.0 36.1,237.5 36.2,240.6 36.3,238.0 36.4,236.1 36.5,234.1 36.5,236.4 36.6,234.6 36.7,233.2 36.8,233.7 36.9,227.7 37.0,229.0 37.1,228.2 37.2,226.6 37.3,225.1 37.5,225.1 37.6,224.7 37.7,223.7 37.8,221.9 37.9,219.4 38.0,220.8 38.1,219.8 38.2,220.8 38.4,218.3 38.5,216.1 38.6,215.0 38.8,212.5 38.9,216.5 39.1,211.2 39.3,211.3 39.5,211.0 39.6,209.7 39.8,209.8 40.0,207.0 40.1,206.7 40.2,208.1 40.4,210.2 40.5,209.4 40.6,211.2 40.7,214.7 40.9,214.3 41.0,215.0 41.1,215.9 41.2,216.3 41.3,218.0 41.4,219.0 41.5,218.6 41.6,222.0 41.7,220.3 41.8,224.6 41.9,223.5 42.0,225.0 42.1,221.1 42.1,221.0 42.2,222.4 42.2,219.9 42.3,222.3 42.4,220.8 42.4,220.7 42.5,218.2 42.6,217.8 42.6,214.2 42.7,215.7 42.7,212.5 42.8,212.0 42.9,209.3 42.9,210.1 43.0,209.0 43.2,208.5 43.3,207.0 43.5,204.6 43.7,206.2 43.8,205.2 44.0,203.0 44.1,203.9 44.2,206.0 44.3,207.3 44.4,205.7 44.5,207.9 44.6,206.6 44.7,208.7 44.8,211.5 44.9,210.8 45.0,213.0 45.0,214.5 45.1,215.5 45.1,213.3 45.1,216.4 45.2,220.0 45.2,219.0 45.2,220.2 45.3,220.1 45.3,219.9 45.3,221.0 45.4,227.7 45.4,224.8 45.4,224.9 45.5,227.2 45.5,225.5 45.5,230.8 45.6,232.2 45.6,230.0 45.6,232.4 45.7,231.8 45.7,235.1 45.7,233.9 45.8,235.8 45.8,238.7 45.8,238.7 45.9,238.6 45.9,238.0 45.9,238.9 46.0,243.5 46.0,243.0 46.1,244.7 46.2,245.1 46.2,247.6 46.3,247.2 46.4,247.1 46.5,248.8 46.5,249.9 46.6,251.0 46.7,255.2 46.8,253.7 46.9,254.3 46.9,254.6 47.0,255.8" fill="none" stroke="#4aa56c" stroke-width="0.85" stroke-linejoin="round" stroke-opacity="1.0"/><polyline points="47.5,255.8 47.6,253.9 47.6,252.5 47.7,250.4 47.7,251.2 47.8,248.9 47.8,247.4 47.9,247.6 48.0,245.2 48.0,247.0 48.2,247.8 48.5,246.7 48.7,242.9 49.0,243.0 49.1,246.6 49.2,245.9 49.2,242.7 49.3,247.0 49.4,246.7 49.5,246.7 49.5,249.6 49.6,252.5 49.7,252.5 49.8,251.1 49.9,253.1 49.9,254.0 50.0,255.8" fill="none" stroke="#4aa56c" stroke-width="0.85" stroke-linejoin="round" stroke-opacity="1.0"/><polyline points="118.5,255.8 118.5,255.7 118.6,253.7 118.6,251.5 118.7,250.6 118.7,248.2 118.7,248.7 118.8,250.0 118.8,245.3 118.8,247.1 118.9,245.7 118.9,245.9 119.0,242.3 119.0,244.0 119.0,243.8 119.1,243.8 119.1,237.7 119.2,238.8 119.2,237.6 119.2,237.0 119.3,234.5 119.3,235.9 119.4,236.9 119.4,234.8 119.4,230.6 119.5,230.1 119.5,230.0 119.6,230.0 119.6,228.2 119.7,226.0 119.7,227.6 119.8,225.7 119.9,225.3 119.9,222.8 120.0,223.7 120.0,220.4 120.1,218.6 120.2,219.0 120.2,216.2 120.3,218.7 120.3,217.0 120.4,212.8 120.5,214.3 120.5,214.1 120.6,211.6 120.6,211.6 120.7,209.3 120.8,209.0 120.8,207.9 120.9,207.7 120.9,204.8 121.0,205.0 121.6,202.7 122.1,203.8 122.7,201.9 123.0,202.0 124.0,202.7 125.0,202.0 125.2,200.4 125.3,198.3 125.5,200.0 125.7,198.4 125.8,198.0 126.0,195.6 126.2,194.6 126.3,195.8 126.5,190.9 126.6,194.4 126.8,191.8 127.0,190.0 127.1,188.9 127.3,188.1 127.4,187.8 127.6,185.0 127.7,185.4 127.8,182.8 128.0,180.7 128.1,182.4 128.3,181.2 128.4,181.0 128.6,179.8 128.7,179.0 128.8,178.2 129.0,176.0 129.3,173.7 129.6,175.7 129.9,176.7 130.3,171.5 130.6,169.6 130.9,171.2 131.0,170.0 131.7,170.5 132.4,169.9 133.0,168.0 133.4,170.9 133.9,168.0 134.3,171.2 134.8,172.2 135.0,172.0 135.3,174.6 135.6,172.7 135.9,174.9 136.3,175.3 136.6,176.5 136.9,177.5 137.0,178.0 137.2,178.8 137.5,177.6 137.7,180.9 138.0,182.0 138.2,182.4 138.5,179.2 138.7,183.9 139.0,186.0 139.4,186.0 139.9,186.7 140.3,190.8 140.8,190.8 141.0,190.0 141.4,190.7 141.9,192.6 142.3,197.0 142.8,192.3 143.0,194.0 143.4,193.7 143.9,191.4 144.3,193.3 144.8,191.9 145.0,190.0 145.1,190.8 145.2,192.8 145.3,191.9 145.4,191.9 145.5,196.1 145.6,198.1 145.7,196.6 145.8,197.3 145.9,196.6 146.0,200.0 146.1,203.8 146.2,200.4 146.3,201.7 146.4,203.7 146.5,206.6 146.6,206.0 146.7,206.9 146.8,208.0 146.9,210.1 147.0,210.0 147.4,209.1 147.9,208.4 148.3,207.2 148.8,205.0 149.0,206.0 149.2,208.7 149.5,207.0 149.7,207.2 150.0,209.3 150.2,210.9 150.5,212.9 150.7,210.9 151.0,214.0 151.1,211.3 151.2,212.2 151.3,211.5 151.4,208.6 151.5,207.5 151.5,208.3 151.6,206.8 151.7,203.9 151.8,203.9 151.9,206.0 152.0,201.7 152.1,203.4 152.2,199.1 152.3,202.0 152.4,201.2 152.4,197.2 152.5,196.2 152.6,196.9 152.7,193.5 152.8,194.8 152.9,194.7 153.0,192.0 153.3,193.3 153.6,194.3 153.9,194.6 154.3,197.1 154.6,195.7 154.9,199.8 155.0,198.0 155.2,197.0 155.5,195.6 155.7,193.0 156.0,193.5 156.2,193.5 156.5,193.8 156.7,189.1 157.0,190.0 157.2,188.9 157.4,187.1 157.6,185.5 157.8,186.1 158.0,184.1 158.2,185.3 158.4,179.6 158.6,183.1 158.8,178.7 159.0,180.0 159.4,176.6 159.9,178.9 160.3,176.9 160.8,176.6 161.0,176.0 161.7,174.0 162.4,173.2 163.0,174.0 163.4,173.9 163.9,175.7 164.3,175.6 164.8,177.0 165.0,178.0 165.4,177.8 165.9,180.1 166.3,179.2 166.8,178.9 167.0,182.0 167.7,179.3 168.4,183.4 169.0,184.0 169.4,185.0 169.9,187.0 170.3,185.7 170.8,186.1 171.0,188.0 171.3,185.1 171.6,187.1 171.9,184.3 172.3,185.5 172.6,183.2 172.9,182.0 173.0,182.0 173.7,180.3 174.4,182.5 175.0,184.0 175.7,185.7 176.4,184.6 177.0,186.0 177.7,186.2 178.4,182.4 179.0,184.0 179.3,186.3 179.6,189.5 179.9,188.3 180.3,188.2 180.6,187.1 180.9,189.0 181.0,190.0 181.4,190.0 181.9,192.0 182.3,190.0 182.8,192.5 183.0,194.0 183.1,196.0 183.2,196.2 183.3,198.0 183.4,199.1 183.5,197.5 183.5,198.2 183.6,201.6 183.7,202.0 183.8,203.1 183.9,202.9 184.0,205.0 184.2,207.3 184.4,207.6 184.6,209.4 184.8,208.5 185.0,210.8 185.2,210.8 185.4,210.6 185.6,212.7 185.8,211.7 186.0,215.0 186.2,213.8 186.4,213.3 186.6,213.0 186.8,209.7 187.0,208.4 187.2,208.2 187.4,205.4 187.6,206.3 187.8,209.6 188.0,205.0 188.2,204.2 188.4,202.0 188.6,201.2 188.8,203.4 189.0,198.6 189.2,199.0 189.4,198.0 189.6,196.2 189.8,195.2 190.0,195.0 190.2,191.8 190.4,191.9 190.6,193.8 190.8,192.9 191.0,190.0 191.2,188.7 191.5,189.0 191.7,187.7 192.0,186.3 192.2,185.0 192.5,185.8 192.7,184.0 193.0,182.0 193.7,181.0 194.4,180.3 195.0,180.0 195.6,180.4 196.1,177.6 196.7,176.6 197.0,177.0 197.6,175.8 198.1,174.7 198.7,176.2 199.0,174.0 199.3,175.4 199.6,175.8 199.9,176.2 200.3,179.6 200.6,179.3 200.9,182.4 201.0,180.0 201.3,182.1 201.6,181.6 201.9,182.1 202.3,183.4 202.6,185.0 202.9,186.7 203.0,186.0 203.4,187.5 203.9,189.8 204.3,186.7 204.8,189.6 205.0,190.0 205.3,187.2 205.6,186.8 205.9,186.4 206.3,185.4 206.6,184.0 206.9,182.3 207.0,184.0 207.3,184.5 207.6,181.7 207.9,182.4 208.3,178.8 208.6,176.2 208.9,177.5 209.0,178.0 209.3,180.1 209.5,179.2 209.8,181.4 210.1,180.4 210.4,184.6 210.6,184.3 210.9,186.1 211.0,185.0 211.6,185.5 212.1,188.3 212.7,187.6 213.0,188.0 213.4,188.3 213.9,189.0 214.3,190.8 214.8,190.4 215.0,192.0 215.1,189.5 215.3,190.2 215.4,190.0 215.6,187.7 215.7,188.1 215.8,188.1 216.0,183.4 216.1,184.4 216.3,181.8 216.4,181.3 216.6,181.3 216.7,177.0 216.8,179.9 217.0,178.0 217.2,178.1 217.3,176.7 217.5,175.9 217.7,176.4 217.9,172.6 218.0,173.5 218.2,173.0 218.4,170.0 219.1,169.9 219.8,166.3 220.4,168.0 221.3,168.2 222.4,169.0 223.0,169.4 223.5,168.6 224.1,171.4 224.4,172.0 224.7,173.9 225.0,173.6 225.3,174.6 225.6,177.7 225.9,176.0 226.2,176.5 226.3,178.0 226.7,178.9 227.2,181.3 227.6,181.5 228.1,181.7 228.3,182.0 228.7,182.3 229.2,185.4 229.6,185.8 230.1,183.3 230.3,186.0 230.6,187.4 230.9,184.8 231.2,190.8 231.6,190.6 231.9,189.9 232.2,190.0 232.3,192.0 232.4,190.6 232.5,187.7 232.6,189.7 232.6,187.3 232.7,184.7 232.8,186.0 232.9,186.6 233.0,182.4 233.1,182.6 233.2,184.4 233.3,181.3 233.3,179.3 233.4,179.3 233.5,179.1 233.6,175.7 233.7,176.0 233.8,174.9 233.9,171.9 234.1,171.0 234.2,170.0 234.3,172.1 234.4,170.4 234.6,170.0 234.7,168.0 235.0,168.6 235.2,166.1 235.5,165.4 235.7,164.7 236.0,163.8 236.3,162.0 236.7,159.7 237.1,159.8 237.6,159.1 237.7,159.0 238.4,158.3 239.0,157.5 239.5,157.4 240.1,159.0 240.6,160.0 240.9,161.3 241.1,162.2 241.4,163.7 241.6,164.9 241.9,165.6 242.2,166.0 242.6,168.2 243.0,168.9 243.5,170.5 243.6,169.0 243.9,170.8 244.1,170.1 244.4,174.9 244.7,174.3 245.0,174.0 245.6,176.4 246.2,176.5 246.6,176.0 247.6,176.1 248.6,176.0 249.4,174.0 250.2,175.0 250.5,174.6 250.8,172.6 251.1,171.6 251.5,171.0 252.4,167.8 253.5,170.0 254.1,171.2 254.6,166.8 255.2,166.1 255.5,167.0 256.1,166.8 256.6,166.1 257.2,163.5 257.5,164.0 258.2,163.3 258.9,162.9 259.5,162.0 260.4,162.7 261.5,163.0 262.2,163.0 262.5,162.0" fill="none" stroke="#4aa56c" stroke-width="0.85" stroke-linejoin="round" stroke-opacity="1.0"/>
<polyline points="21.0,202.0 21.1,204.0 21.2,203.5 21.4,202.9 21.5,208.8 21.6,206.5 21.7,206.7 21.9,209.9 22.0,210.0 22.4,211.7 22.9,211.0 23.3,215.7 23.8,210.5 24.0,214.0 24.4,216.6 24.9,215.7 25.3,217.1 25.8,218.0 26.0,218.0 26.4,216.8 26.9,216.6 27.3,213.6 27.8,213.9 28.0,214.0 28.7,215.7 29.4,209.2 30.0,212.0 30.4,212.7 30.9,207.3 31.3,208.2 31.8,209.6 32.0,208.0 32.4,206.6 32.9,205.5 33.3,203.4 33.8,204.3 34.0,204.0 34.3,202.8 34.6,201.3 34.9,199.1 35.3,200.4 35.6,199.8 35.9,199.8 36.0,198.0 36.1,197.7 36.3,198.0 36.4,196.6 36.6,190.4 36.7,195.2 36.8,191.9 37.0,189.7 37.1,190.6 37.2,190.3 37.4,186.1 37.5,185.5 37.7,187.0 37.8,184.4 37.9,186.0 38.1,183.4 38.2,181.4 38.3,181.6 39.0,179.2 39.7,181.0 40.4,177.2 41.1,177.1 41.6,178.3 42.4,177.1 43.3,181.6 44.2,180.0 44.3,183.2 44.4,181.7 44.6,182.5 44.7,184.9 44.8,186.6 44.9,184.9 45.0,189.8 45.2,187.7 45.3,190.4 45.4,186.8 45.5,190.9 45.6,191.6 45.7,191.7 45.7,196.2 45.8,194.3 45.9,193.9 46.0,199.1 46.0,196.7 46.1,198.6 46.2,197.9 46.3,201.5 46.3,201.8 46.4,202.2 46.5,203.0 46.6,203.8 46.6,204.9 46.7,205.0 46.8,205.1 46.8,209.5 46.9,210.1 47.0,208.1 47.1,209.4 47.2,212.4 47.2,215.8 47.3,213.6 47.4,214.5 47.5,215.5 47.6,217.2 47.6,217.6 47.7,220.3 47.8,221.1 47.9,221.6 48.0,223.9 48.0,222.5 48.1,223.1 48.2,224.8 48.3,229.7 48.4,224.3 48.5,225.8 48.5,225.7 48.6,230.2 48.7,229.4 48.8,233.2 48.9,230.0 49.0,233.6 49.1,234.3 49.1,234.3 49.2,238.2 49.3,237.2 49.4,239.3 49.5,239.1 49.6,240.9 49.6,241.2 49.7,242.8 49.8,243.6 49.9,244.7 50.0,244.8 50.1,247.3 50.2,247.4 50.3,247.4 50.3,248.3 50.4,251.3 50.5,253.4 50.6,251.0 50.7,253.1 50.8,255.2 50.9,255.8" fill="none" stroke="#f2a468" stroke-width="0.85" stroke-linejoin="round" stroke-opacity="1.0"/><polyline points="118.0,255.8 118.1,255.7 118.2,254.7 118.2,251.3 118.3,251.9 118.4,252.0 118.5,250.1 118.5,248.5 118.6,246.3 118.7,247.0 118.8,245.7 118.9,244.9 118.9,245.8 119.0,244.4 119.1,240.8 119.2,241.1 119.2,239.4 119.3,239.0 119.4,240.0 119.5,238.1 119.5,235.9 119.6,234.0 119.7,233.7 119.8,233.3 119.9,231.2 119.9,232.3 120.0,230.0 120.1,229.0 120.1,226.5 120.2,229.7 120.3,222.2 120.3,224.7 120.4,223.9 120.5,224.3 120.5,223.5 120.6,222.9 120.7,222.1 120.7,219.4 120.8,218.2 120.9,218.4 120.9,216.0 121.0,215.0 121.1,214.4 121.2,216.4 121.2,218.9 121.3,219.8 121.4,218.5 121.5,222.5 121.5,222.4 121.6,221.0 121.7,224.6 121.8,226.3 121.8,226.7 121.9,226.6 122.0,228.0 122.4,226.1 123.0,226.0 123.1,226.5 123.1,224.3 123.2,223.0 123.2,221.5 123.3,219.7 123.3,217.6 123.4,218.6 123.4,219.5 123.5,218.0 123.6,215.1 123.6,217.0 123.7,213.7 123.7,211.7 123.8,213.3 123.8,212.8 123.9,209.5 123.9,207.4 124.0,208.0 124.1,206.9 124.2,202.8 124.4,205.1 124.5,206.0 124.6,203.4 124.7,201.1 124.9,202.0 125.0,199.4 125.1,200.7 125.2,197.6 125.4,199.7 125.5,195.6 125.6,195.3 125.7,192.9 125.9,191.4 126.0,192.0 126.2,191.5 126.3,190.5 126.5,187.8 126.7,188.8 126.9,186.5 127.0,185.4 127.2,185.0 127.4,184.6 127.6,184.1 127.7,183.8 127.9,181.7 128.1,179.2 128.3,178.3 128.4,178.7 128.6,175.7 128.8,176.0 129.0,174.8 129.0,175.0 129.2,173.9 129.4,173.3 129.7,173.4 129.9,173.2 130.1,171.3 130.3,170.5 130.5,166.8 130.7,168.5 131.0,166.0 131.4,166.8 131.9,162.4 132.3,166.6 132.8,161.7 133.0,162.0 133.3,159.8 133.6,166.2 133.9,164.9 134.3,164.7 134.6,166.0 134.9,169.1 135.0,168.0 135.2,169.3 135.5,169.4 135.7,172.4 136.0,170.7 136.2,171.7 136.5,173.1 136.7,173.8 137.0,176.0 137.2,177.9 137.5,177.6 137.7,177.5 138.0,179.3 138.2,178.3 138.5,182.0 138.7,182.9 139.0,184.0 139.3,185.7 139.6,185.6 139.9,187.4 140.3,186.6 140.6,188.8 140.9,189.9 141.0,190.0 141.3,189.4 141.6,192.7 141.9,193.0 142.3,193.9 142.6,194.1 142.9,198.3 143.0,196.0 143.4,196.9 143.9,196.8 144.3,197.6 144.8,200.3 145.0,200.0 145.1,200.7 145.2,201.0 145.3,202.0 145.5,205.2 145.6,205.1 145.7,207.3 145.8,206.9 145.9,206.4 146.0,210.1 146.1,210.3 146.2,210.1 146.4,211.5 146.5,211.6 146.6,214.0 146.8,214.1 147.1,211.5 147.3,211.7 147.5,210.4 147.7,208.8 148.0,208.0 148.6,207.7 149.1,206.0 149.7,204.0 150.0,205.0 150.2,205.4 150.3,205.4 150.5,208.9 150.6,209.8 150.8,209.2 150.9,211.7 151.1,212.2 151.2,214.2 151.4,214.0 151.6,211.8 151.8,212.1 151.9,209.8 152.1,209.2 152.3,210.9 152.5,205.5 152.6,205.9 152.8,206.8 153.0,205.0 153.9,205.6 155.0,204.0 155.4,202.1 155.9,199.6 156.3,199.1 156.8,200.9 157.0,200.0 157.2,200.4 157.3,199.2 157.5,196.1 157.7,197.8 157.8,194.8 158.0,194.9 158.2,192.8 158.3,194.2 158.5,190.4 158.6,187.3 158.8,188.7 159.0,188.0 159.2,187.3 159.5,186.4 159.7,184.2 160.0,183.8 160.2,181.7 160.5,181.9 160.7,181.3 161.0,180.0 161.4,179.4 161.9,180.3 162.3,174.7 162.8,177.1 163.0,176.0 163.7,177.3 164.4,175.9 165.0,178.0 165.4,179.0 165.9,179.8 166.3,179.4 166.8,182.5 167.0,182.0 167.7,183.8 168.4,181.5 169.0,180.0 169.4,181.9 169.9,183.2 170.3,182.5 170.8,184.8 171.0,184.0 171.7,182.2 172.4,182.8 173.0,182.0 173.4,182.0 173.9,181.9 174.3,178.9 174.8,178.0 175.0,178.0 175.7,179.3 176.4,179.3 177.0,180.0 177.2,181.2 177.3,183.0 177.5,182.0 177.7,185.1 177.8,185.4 178.0,185.6 178.2,185.3 178.3,187.1 178.5,188.8 178.6,191.1 178.8,188.3 179.0,192.0 179.1,193.9 179.1,194.2 179.2,193.5 179.3,197.1 179.4,197.5 179.4,198.5 179.5,197.7 179.6,198.5 179.7,202.2 179.7,203.8 179.8,203.4 179.9,203.7 179.9,204.4 180.0,203.7 180.1,208.2 180.2,207.8 180.2,210.5 180.3,209.0 180.4,212.3 180.5,211.0 180.5,213.7 180.6,214.0 180.7,216.8 180.8,215.1 180.9,218.2 181.1,218.0 181.2,217.8 181.3,220.2 181.4,221.8 181.5,221.0 181.6,222.6 181.8,223.2 181.9,223.9 182.0,226.0 182.1,226.7 182.1,229.1 182.2,228.4 182.3,231.6 182.3,230.5 182.4,231.1 182.5,234.4 182.5,235.8 182.6,235.0 182.8,233.2 183.0,233.8 183.2,230.6 183.4,230.6 183.6,229.6 183.8,230.0 184.0,228.0 184.1,225.4 184.3,225.4 184.4,224.1 184.6,224.2 184.7,221.5 184.8,220.3 185.0,224.7 185.1,220.4 185.3,217.2 185.4,219.2 185.6,215.4 185.7,213.7 185.8,217.3 186.0,214.0 186.1,214.6 186.2,210.9 186.3,209.6 186.4,210.6 186.5,211.6 186.6,208.8 186.7,207.9 186.8,204.5 186.9,202.8 187.0,204.6 187.2,204.4 187.3,202.2 187.4,201.1 187.5,201.9 187.6,198.0 187.7,199.5 187.8,198.2 187.9,195.3 188.0,195.0 188.1,194.2 188.2,193.1 188.2,192.8 188.3,189.8 188.4,189.7 188.5,189.1 188.5,188.1 188.6,187.1 188.7,186.3 188.8,184.8 188.8,183.4 188.9,184.4 189.0,182.0 189.7,180.5 190.4,180.2 191.0,180.0 191.7,178.2 192.4,177.1 193.0,178.0 193.7,177.9 194.4,176.5 195.0,176.0 195.4,174.9 195.9,174.8 196.3,173.1 196.8,173.3 197.0,172.0 197.4,173.4 197.9,170.7 198.3,169.0 198.8,170.5 199.0,168.0 199.5,168.0 199.9,164.1 200.4,167.1 200.6,165.0 201.1,166.1 201.7,167.8 202.2,166.1 202.5,168.0 202.9,167.8 203.4,169.0 203.8,171.4 204.3,170.1 204.5,172.0 204.7,172.1 204.9,175.2 205.1,174.1 205.2,176.1 205.4,175.8 205.6,175.7 205.8,178.8 206.0,180.0 206.2,180.8 206.3,180.1 206.5,184.2 206.6,185.0 206.8,186.1 207.0,185.3 207.1,185.4 207.3,188.0 207.5,188.9 207.6,190.2 207.8,190.7 208.0,191.2 208.1,191.7 208.3,193.0 208.5,194.8 208.6,195.3 208.8,199.0 209.0,198.0 209.2,198.6 209.4,200.5 209.6,200.3 209.8,201.7 210.0,201.6 210.3,203.2 210.5,205.0 211.5,203.1 212.0,205.0 212.2,203.3 212.5,208.7 212.7,206.6 213.0,209.4 213.2,209.7 213.5,210.1 213.7,212.7 214.0,213.0 214.5,213.1 215.0,215.3 215.5,215.1 216.1,217.7 216.4,217.0 216.5,219.2 216.6,219.1 216.7,221.4 216.8,221.6 216.9,224.0 217.0,222.8 217.1,222.0 217.2,224.8 217.5,224.1 217.7,223.2 218.0,221.4 218.2,220.7 218.5,220.0 219.4,220.2 219.8,220.8 220.2,220.1 220.5,224.9 220.9,222.6 221.0,224.0 221.3,223.6 221.6,223.9 221.9,225.8 222.1,227.8 222.4,228.7 222.6,229.6 222.7,227.5 222.9,224.8 223.0,223.2 223.2,222.3 223.4,222.7 223.5,222.0 223.8,222.2 224.1,219.5 224.4,221.2 224.8,218.0 225.5,219.7 226.2,216.7 226.7,216.0 227.0,212.3 227.3,215.5 227.6,213.0 228.0,212.0 228.3,211.9 228.5,211.3 228.8,207.8 229.1,208.2 229.4,207.4 229.7,206.0 229.9,204.1 230.2,204.9 230.4,202.9 230.7,202.0 231.1,200.6 231.6,202.6 232.0,199.5 232.5,200.5 232.7,198.0 232.9,196.8 233.1,197.4 233.4,194.1 233.6,194.3 233.8,194.5 234.0,189.4 234.3,191.0 234.5,190.7 234.8,188.7 235.0,189.5 235.2,187.3 235.4,186.0 235.7,185.0 236.0,182.4 236.3,186.8 236.6,181.2 237.0,181.0 237.4,181.5 237.7,181.9 238.1,183.4 238.5,185.0 238.6,185.0 238.9,184.2 239.2,188.2 239.5,187.5 239.9,189.6 240.2,187.1 240.5,190.0 240.6,191.0 240.8,191.6 241.1,192.4 241.3,193.1 241.6,195.3 241.8,196.4 242.1,195.6 242.3,195.3 242.6,199.0 242.7,200.9 242.8,200.6 242.9,203.3 243.0,204.1 243.1,203.8 243.2,203.1 243.3,205.5 243.4,206.0 243.6,209.5 243.7,206.8 243.8,211.1 243.9,209.0 244.0,211.2 244.1,211.1 244.2,214.0 244.4,214.1 244.5,215.4 244.7,217.4 244.9,217.2 245.1,219.8 245.2,222.1 245.4,221.1 245.6,222.0 245.9,219.6 246.3,219.9 246.6,219.0 247.0,218.0 247.1,216.5 247.2,217.5 247.4,216.5 247.5,216.6 247.6,213.7 247.7,208.7 247.8,210.9 248.0,210.9 248.1,208.0 248.2,208.0 248.3,206.2 248.4,207.2 248.5,205.2 248.7,202.6 248.8,202.3 248.9,198.1 249.0,201.0 249.1,198.5 249.2,199.0 249.4,196.6 249.5,195.9 249.6,196.0 250.2,195.0 250.4,193.4 250.6,196.6 250.8,190.5 250.9,189.6 251.1,189.4 251.3,190.4 251.5,189.1 251.7,188.0 251.9,185.7 252.1,185.0 252.4,184.2 252.7,182.1 253.0,181.9 253.4,180.2 253.7,178.4 254.0,178.0 254.1,179.0 254.7,180.6 255.2,177.9 255.5,177.0 256.3,175.5 257.0,176.0 257.3,176.8 257.6,177.3 257.9,180.4 258.1,179.8 258.5,181.0 258.7,179.2 258.9,179.9 259.1,178.5 259.2,176.2 259.4,175.1 259.6,175.3 259.8,172.0 260.0,173.0 260.6,171.0 261.2,172.7 261.5,171.0 261.9,173.0 262.5,173.0" fill="none" stroke="#f2a468" stroke-width="0.85" stroke-linejoin="round" stroke-opacity="1.0"/>
<polyline points="21.4,192.0 21.5,194.4 21.6,193.4 21.7,194.2 21.8,195.6 21.9,196.4 22.0,199.6 22.1,198.7 22.1,201.7 22.2,200.1 22.3,202.4 22.4,205.0 22.5,203.0 22.6,204.1 22.7,205.2 22.8,204.9 22.9,207.5 23.0,209.0 23.3,209.1 23.6,213.7 23.9,211.2 24.3,210.1 24.6,214.9 24.9,215.9 25.0,215.0 25.3,215.9 25.5,217.3 25.8,218.8 26.0,218.1 26.3,219.9 26.6,221.0 26.8,220.2 26.9,221.1 27.1,219.8 27.3,217.3 27.5,214.4 27.6,216.2 27.8,214.0 28.0,213.0 28.4,213.6 28.9,211.3 29.3,210.5 29.8,210.2 30.0,209.0 30.6,207.2 31.1,206.5 31.7,209.4 32.0,206.0 32.6,204.1 33.1,205.5 33.7,204.4 34.0,203.0 34.3,203.1 34.6,202.8 35.0,200.0 35.4,197.4 35.9,199.4 36.3,194.7 36.8,196.5 37.0,196.0 37.2,195.4 37.4,195.3 37.5,194.4 37.7,190.9 37.9,190.7 38.1,189.9 38.3,188.2 38.4,187.1 38.6,186.3 38.8,187.6 39.0,185.0 39.3,185.8 39.5,184.0 39.8,184.3 40.1,181.3 40.4,178.8 40.6,178.4 40.9,178.5 41.0,178.0 41.2,178.3 41.5,177.6 41.7,173.9 42.0,175.3 42.2,172.5 42.5,172.9 42.7,172.4 43.0,170.0 43.8,172.4 44.6,171.0 44.9,171.3 45.1,173.2 45.4,174.4 45.7,174.3 46.0,176.0 46.1,177.1 46.2,178.7 46.4,176.9 46.5,179.1 46.6,183.9 46.7,182.5 46.9,182.2 47.0,184.0 47.4,182.6 47.7,184.6 48.1,187.4 48.5,188.6 48.6,188.0 49.2,187.7 49.7,187.1 50.0,186.0 50.2,186.2 50.3,190.0 50.5,187.5 50.7,190.6 50.8,190.6 51.0,192.0 51.4,190.7 51.9,194.9 52.3,194.3 52.8,196.5 53.0,196.0 53.7,196.9 54.4,194.8 55.0,194.0 55.4,194.0 55.9,195.5 56.3,196.6 56.8,199.4 57.0,198.0 57.3,198.1 57.6,198.1 57.9,196.1 58.3,193.2 58.6,194.4 58.9,193.5 59.0,192.0 59.7,191.1 60.4,191.2 61.0,190.0 61.7,188.9 62.4,187.0 63.0,188.0 63.4,188.8 63.9,190.8 64.3,190.2 64.8,188.7 65.0,192.0 65.7,190.3 66.4,192.0 67.0,190.0 67.7,189.6 68.4,190.0 69.0,188.0 69.7,187.7 70.4,188.9 71.0,190.0 71.4,187.8 71.9,187.2 72.3,187.9 72.8,186.6 73.0,186.0 73.6,186.2 74.1,188.0 74.7,186.8 75.0,189.0 75.3,189.4 75.6,189.0 75.9,189.9 76.3,191.1 76.6,192.3 76.9,196.7 77.0,195.0 77.4,195.8 77.7,194.7 78.1,191.5 78.5,192.1 78.9,188.9 79.0,190.0 79.4,188.4 79.9,188.5 80.3,185.3 80.8,186.7 81.0,186.0 81.9,186.3 83.0,185.0 83.6,183.2 84.1,183.6 84.7,187.1 85.0,188.0 85.7,188.5 86.4,189.6 87.0,190.0 87.7,187.8 88.4,189.3 89.0,188.0 89.3,187.2 89.6,185.2 89.9,187.2 90.3,184.5 90.6,184.2 90.9,184.7 91.0,182.0 91.2,182.3 91.4,183.7 91.6,182.7 91.8,185.6 92.0,187.4 92.2,191.1 92.4,189.6 92.6,190.1 92.8,189.2 93.0,192.0 93.4,191.8 93.9,191.4 94.3,192.9 94.8,195.7 95.0,196.0 95.7,197.1 96.4,196.2 97.0,198.0 97.4,198.6 97.9,198.8 98.3,201.5 98.8,202.4 99.0,202.0 99.2,200.3 99.3,199.4 99.5,197.5 99.7,197.4 99.8,199.9 100.0,196.0 100.2,196.2 100.3,194.8 100.5,195.0 100.6,191.7 100.8,190.0 101.0,190.0 101.4,192.2 101.9,193.0 102.3,191.8 102.8,195.0 103.0,194.0 103.3,194.9 103.6,195.8 103.9,199.2 104.3,198.5 104.6,199.1 104.9,199.3 105.0,200.0 105.2,201.2 105.5,203.3 105.7,203.5 106.0,202.9 106.2,205.4 106.5,205.7 106.7,207.2 107.0,208.0 107.3,208.7 107.6,207.1 108.0,211.0 108.0,207.9 108.1,208.5 108.1,205.2 108.2,205.1 108.2,208.6 108.3,205.9 108.3,203.4 108.4,203.4 108.4,199.1 108.5,201.3 108.5,201.3 108.6,199.2 108.6,196.3 108.7,198.2 108.7,195.3 108.8,194.3 108.8,194.3 108.9,192.6 108.9,194.6 109.0,190.8 109.0,190.0 109.7,192.1 110.4,189.1 111.0,188.0 111.2,187.4 111.5,189.9 111.7,191.0 112.0,193.7 112.2,194.5 112.5,197.0 112.7,193.9 113.0,196.0 113.7,196.1 114.4,200.4 115.0,198.0 115.7,197.5 116.4,199.9 117.0,200.0 117.2,203.0 117.3,200.7 117.5,202.5 117.7,203.0 117.8,205.6 118.0,206.0 118.2,207.5 118.5,207.9 118.7,209.8 119.0,210.0 119.3,208.0 119.6,207.6 119.9,207.7 120.3,208.8 120.6,205.2 120.9,204.4 121.0,204.0 121.4,204.7 121.9,202.3 122.3,202.9 122.8,200.7 123.0,200.0 124.0,201.4 125.0,200.0 125.1,199.2 125.3,196.8 125.4,195.9 125.6,196.6 125.7,197.5 125.8,196.4 126.0,192.7 126.1,195.2 126.3,189.7 126.4,189.0 126.6,190.3 126.7,186.2 126.8,188.3 127.0,186.0 127.1,185.5 127.2,184.8 127.4,181.5 127.5,182.5 127.6,182.2 127.7,180.0 127.9,180.3 128.0,178.1 128.1,177.5 128.2,175.7 128.4,173.3 128.5,173.9 128.6,173.7 128.7,171.1 128.9,168.6 129.0,170.0 129.2,167.0 129.5,169.7 129.7,166.8 130.0,165.1 130.2,166.8 130.5,163.9 130.7,161.3 131.0,162.0 131.7,160.7 132.4,159.4 133.0,160.0 133.7,160.5 134.4,160.2 135.0,162.0 135.7,162.8 136.4,164.0 137.0,164.0 137.3,164.2 137.6,165.6 137.9,166.6 138.3,168.9 138.6,167.8 138.9,170.7 139.0,170.0 139.1,172.6 139.2,171.7 139.3,171.7 139.4,173.6 139.5,172.7 139.6,175.3 139.7,175.4 139.8,177.7 139.9,178.5 140.0,180.0 140.1,181.7 140.2,182.1 140.3,183.5 140.4,183.9 140.5,185.3 140.6,184.5 140.7,187.8 140.8,189.6 140.9,190.4 141.0,190.0 141.7,189.0 142.4,192.0 143.0,192.0 143.2,190.9 143.5,194.9 143.7,194.6 144.0,195.3 144.2,195.9 144.5,197.5 144.7,198.8 145.0,200.0 145.1,199.7 145.2,202.0 145.3,203.3 145.5,204.6 145.6,204.9 145.7,205.9 145.8,210.0 145.9,209.2 146.0,209.4 146.1,208.1 146.2,211.7 146.4,212.6 146.5,209.5 146.6,214.0 146.7,212.8 146.7,212.5 146.8,211.0 146.9,210.1 146.9,208.8 147.0,208.0 147.1,208.8 147.1,206.5 147.2,204.6 147.2,203.7 147.3,205.7 147.4,200.9 147.4,200.3 147.5,200.4 147.6,199.2 147.6,198.4 147.7,198.8 147.7,197.5 147.8,195.6 147.9,194.1 147.9,192.9 148.0,192.0 148.4,192.6 148.9,195.1 149.3,193.0 149.8,194.2 150.0,196.0 150.1,196.4 150.2,196.7 150.3,198.0 150.3,201.5 150.4,198.1 150.5,202.7 150.6,201.3 150.7,203.7 150.8,204.2 150.9,204.7 151.0,205.0 151.0,208.0 151.1,205.1 151.2,207.2 151.3,210.4 151.4,212.0 151.6,212.4 151.8,212.4 152.0,208.7 152.2,207.0 152.4,206.7 152.6,206.7 152.8,206.4 153.0,204.0 153.6,201.9 154.1,203.0 154.7,201.4 155.0,201.0 155.9,202.0 157.0,200.0 157.2,198.5 157.3,197.8 157.5,195.9 157.7,194.3 157.8,195.4 158.0,195.0 158.2,194.5 158.3,192.5 158.5,190.5 158.6,188.9 158.8,187.6 159.0,188.0 159.2,186.1 159.4,186.5 159.6,185.2 159.8,181.1 160.0,183.0 160.2,181.7 160.4,179.8 160.6,180.1 160.8,179.9 161.0,178.0 161.4,175.8 161.9,174.5 162.3,174.9 162.8,174.8 163.0,174.0 163.7,174.4 164.4,177.4 165.0,176.0 165.4,177.1 165.9,176.5 166.3,179.7 166.8,178.7 167.0,180.0 167.7,180.2 168.4,178.7 169.0,178.0 169.4,180.5 169.9,178.5 170.3,181.6 170.8,182.1 171.0,182.0 171.7,180.1 172.4,181.5 173.0,180.0 173.3,181.9 173.6,178.6 173.9,176.2 174.3,176.0 174.6,176.9 174.9,174.6 175.0,174.0 175.4,176.8 175.9,174.9 176.3,178.4 176.8,175.5 177.0,178.0 177.2,178.8 177.3,179.6 177.5,180.3 177.7,183.5 177.8,182.1 178.0,184.4 178.2,187.3 178.3,187.0 178.5,186.3 178.6,186.9 178.8,186.3 179.0,190.0 179.1,191.5 179.1,193.1 179.2,194.4 179.3,194.3 179.4,197.8 179.4,197.0 179.5,194.0 179.6,196.8 179.7,200.0 179.7,199.4 179.8,202.1 179.9,205.3 179.9,202.0 180.0,206.8 180.1,204.9 180.2,204.1 180.2,207.1 180.3,209.1 180.4,208.2 180.5,212.0 180.5,209.8 180.6,212.0 180.7,212.7 180.8,215.2 180.9,214.7 181.1,215.2 181.2,216.9 181.3,218.8 181.4,221.2 181.5,221.7 181.6,223.3 181.8,221.9 181.9,220.8 182.0,224.0 182.4,224.8 182.9,225.2 183.3,225.4 183.8,226.9 184.0,228.0 184.1,226.9 184.2,226.1 184.4,226.2 184.5,222.8 184.6,224.5 184.7,222.1 184.9,222.0 185.0,221.7 185.1,217.5 185.2,220.1 185.4,216.2 185.5,216.6 185.6,216.5 185.7,215.3 185.9,211.1 186.0,212.0 186.1,211.2 186.3,211.5 186.4,208.9 186.6,207.9 186.7,207.1 186.8,208.2 187.0,205.0 187.1,203.3 187.1,201.8 187.2,200.6 187.3,200.3 187.3,199.7 187.4,199.5 187.5,197.9 187.5,194.8 187.6,194.0 187.7,195.9 187.7,195.0 187.8,191.3 187.9,193.2 187.9,187.9 188.0,190.0 188.1,192.0 188.2,188.8 188.3,184.9 188.4,186.7 188.5,185.0 188.6,183.4 188.7,182.6 188.8,181.7 188.9,180.9 189.0,180.0 189.7,178.1 190.4,177.8 191.0,178.0 191.7,178.0 192.4,177.3 193.0,176.0 193.7,173.6 194.4,173.9 195.0,174.0 195.4,175.1 195.9,173.1 196.3,173.5 196.8,168.7 197.0,170.0 197.4,167.8 197.9,165.4 198.3,164.8 198.8,165.9 199.0,166.0 199.5,163.8 199.9,162.8 200.4,162.4 200.6,163.0 201.1,163.6 201.7,165.8 202.2,166.3 202.5,166.0 202.9,164.6 203.4,169.7 203.8,168.3 204.3,168.3 204.5,170.0 204.7,170.9 204.9,171.4 205.1,171.1 205.2,176.0 205.4,174.2 205.6,175.1 205.8,177.6 206.0,178.0 206.2,181.2 206.3,180.6 206.5,179.8 206.6,182.5 206.8,184.4 207.0,184.4 207.1,185.8 207.3,186.0 207.5,186.4 207.6,187.9 207.8,186.8 208.0,189.0 208.1,189.5 208.3,191.9 208.5,194.8 208.6,191.0 208.8,193.2 209.0,196.0 209.2,195.8 209.3,197.9 209.5,200.5 209.7,198.9 209.8,199.9 210.0,203.5 210.2,203.4 210.3,204.6 210.5,205.0 211.1,205.3 211.7,202.4 212.0,203.0 212.2,204.3 212.5,204.1 212.7,205.0 213.0,207.1 213.2,208.4 213.5,207.2 213.7,208.8 214.0,211.0 214.4,210.9 215.0,209.0 215.2,210.2 215.5,211.8 215.7,211.5 215.9,211.8 216.1,214.9 216.4,215.0 216.9,216.7 217.3,213.1 217.8,218.8 218.0,218.0 218.7,216.3 219.3,217.4 219.8,216.0 220.1,219.0 220.4,217.6 220.7,217.6 221.0,220.0 221.2,221.3 221.5,222.1 221.7,223.7 221.9,222.1 222.1,225.2 222.4,226.0 222.7,226.2 222.9,225.0 223.2,223.9 223.5,222.0 223.7,222.6 224.0,219.0 224.2,220.7 224.5,218.4 224.7,215.9 224.8,216.8 225.5,215.7 226.2,215.7 226.7,214.8 227.0,214.3 227.2,214.6 227.5,212.2 227.7,210.3 228.0,210.0 228.3,211.9 228.6,207.7 228.9,206.1 229.3,207.4 229.6,204.7 229.7,204.9 230.0,202.9 230.3,201.6 230.6,203.6 230.7,201.6 231.1,199.3 231.6,199.9 232.0,198.3 232.5,197.8 232.7,197.6 232.9,195.6 233.1,195.8 233.3,195.4 233.5,195.1 233.7,192.2 233.9,190.2 234.1,188.8 234.3,189.7 234.5,188.7 234.8,184.5 235.0,188.5 235.2,185.8 235.4,185.0 235.7,183.7 236.0,180.9 236.3,181.0 236.6,179.9 237.0,179.8 237.4,181.6 237.8,181.1 238.1,183.4 238.6,183.7 238.9,185.3 239.2,183.1 239.5,186.2 239.9,189.1 240.2,187.8 240.5,189.6 240.6,189.7 240.8,190.5 241.1,190.0 241.3,195.5 241.6,193.4 241.8,195.4 242.1,194.9 242.3,198.3 242.6,197.6 242.7,200.1 242.8,201.1 242.9,201.8 243.0,202.5 243.1,204.4 243.2,204.1 243.3,204.7 243.4,206.6 243.5,205.4 243.6,204.2 243.7,209.6 243.8,209.7 244.0,209.6 244.1,211.2 244.2,211.3 244.2,212.9 244.4,212.8 244.5,215.1 244.7,216.0 244.9,217.9 245.1,217.7 245.2,219.6 245.4,220.7 245.6,220.8 245.9,218.9 246.2,216.7 246.4,217.0 246.7,216.6 247.0,216.0 247.1,214.3 247.3,216.9 247.4,212.1 247.5,212.7 247.7,210.1 247.8,211.0 247.9,207.4 248.0,209.3 248.2,206.9 248.3,206.2 248.4,204.4 248.6,202.4 248.7,205.1 248.8,201.2 248.9,202.8 249.0,196.8 249.1,197.4 249.3,200.3 249.4,199.3 249.5,196.0 249.6,195.0 250.0,195.4 250.2,193.7 250.4,193.5 250.6,191.3 250.8,190.9 250.9,188.3 251.1,187.1 251.3,188.0 251.5,187.8 251.7,186.0 251.9,183.3 252.1,183.7 252.4,183.9 252.7,181.9 253.1,181.8 253.4,179.5 253.7,178.6 254.1,177.8 254.7,178.4 255.2,178.0 255.5,175.8 256.1,173.5 256.8,172.8 257.0,174.0 257.3,176.2 257.5,176.4 257.8,177.0 258.0,176.6 258.3,180.2 258.5,179.8 258.7,179.1 258.9,178.1 259.1,177.4 259.2,175.2 259.4,175.4 259.6,174.1 259.8,173.9 260.0,171.8 260.6,171.5 261.2,168.5 261.5,169.8 261.9,169.8 262.5,171.8" fill="none" stroke="#3fe1e3" stroke-width="0.85" stroke-linejoin="round" stroke-opacity="1.0"/>
<polyline points="21.4,176.0 21.8,176.6 22.1,179.4 22.5,177.9 22.9,181.2 23.0,180.0 23.3,182.4 23.6,183.1 23.9,185.8 24.2,183.8 24.6,185.0 24.7,186.4 24.9,188.6 25.0,188.5 25.1,190.3 25.2,189.8 25.4,192.8 25.5,192.4 25.6,190.5 25.7,195.3 25.9,194.7 26.0,196.0 26.3,193.9 26.7,193.7 27.0,192.8 27.4,192.0 27.6,192.5 27.8,190.5 28.1,189.0 28.3,188.1 28.5,186.0 28.7,185.3 29.0,185.0 29.3,185.4 29.6,186.6 29.9,186.4 30.2,188.3 30.6,190.0 31.0,192.2 31.4,192.4 31.9,192.7 32.0,193.0 32.1,192.5 32.3,190.7 32.4,188.5 32.6,190.2 32.7,191.0 32.8,187.7 33.0,187.0 33.1,188.3 33.2,182.5 33.4,183.0 33.6,184.7 33.8,184.5 34.1,185.6 34.3,184.7 34.5,187.8 34.7,189.4 35.0,190.0 35.2,188.9 35.4,191.7 35.6,192.3 35.8,192.6 36.0,195.7 36.2,198.0 36.4,197.4 36.6,198.0 36.8,198.4 37.1,197.1 37.3,195.0 37.5,194.9 37.7,194.9 38.0,192.0 38.1,190.5 38.2,189.8 38.3,187.3 38.5,185.6 38.6,186.0 38.7,187.2 38.8,185.5 38.9,184.4 39.0,184.8 39.2,179.8 39.3,182.9 39.4,180.0 39.5,179.1 39.7,179.0 39.8,178.8 39.9,175.0 40.1,173.9 40.2,174.6 40.3,173.0 40.5,171.3 40.6,170.9 40.7,169.2 40.9,169.3 41.0,168.0 41.5,166.6 41.9,168.5 42.4,164.0 42.6,165.0 43.2,164.9 43.7,163.5 44.0,163.0 44.4,166.0 44.8,163.6 45.3,165.1 45.4,166.0 45.7,169.2 45.9,167.1 46.2,168.4 46.4,169.4 46.7,169.6 47.0,172.0 47.3,174.5 47.6,175.9 47.9,174.7 48.2,174.9 48.6,177.0 49.0,174.3 49.4,176.1 49.9,173.6 50.0,174.0 50.6,173.9 51.1,169.2 51.4,172.0 51.8,170.5 52.1,171.0 52.5,169.8 52.9,164.5 53.0,168.0 53.4,167.5 53.7,166.3 54.1,165.2 54.5,163.8 54.6,164.0 55.4,164.0 56.0,165.0 56.4,164.3 56.8,163.9 57.3,158.2 57.4,162.0 57.6,163.0 57.8,165.2 58.0,164.7 58.2,167.5 58.4,165.7 58.6,168.0 58.9,171.4 59.3,171.1 59.6,170.3 60.0,172.0 60.4,176.5 60.8,175.7 61.3,176.8 61.4,175.0 62.0,172.7 62.6,173.3 63.0,173.0 63.4,174.5 63.7,176.2 64.1,175.9 64.5,175.1 64.6,177.0 64.9,179.5 65.2,178.7 65.5,180.4 65.9,180.4 66.2,181.6 66.5,180.9 66.6,183.0 67.3,184.6 68.0,183.6 68.6,185.0 69.0,181.8 69.3,183.7 69.7,182.2 70.1,182.5 70.5,181.4 70.6,180.0 71.0,177.6 71.5,178.0 71.9,177.3 72.3,176.5 72.8,174.2 73.0,175.0 73.3,176.1 73.6,178.2 73.9,179.5 74.2,180.7 74.6,180.0 75.0,181.9 75.4,178.6 75.9,182.4 76.0,183.0 76.7,181.6 77.4,177.8 78.0,181.0 78.4,183.9 78.9,184.0 79.3,183.7 79.8,185.0 80.0,185.0 80.4,184.7 80.7,182.9 81.1,184.0 81.5,183.7 81.9,181.4 82.0,180.0 82.7,180.0 83.4,181.8 84.0,182.0 84.9,183.7 86.0,183.0 86.7,183.2 87.4,180.7 88.0,181.0 88.9,181.8 90.0,180.0 90.4,180.0 90.7,178.9 91.1,176.7 91.5,176.3 91.9,172.9 92.0,175.0 92.8,174.4 93.6,174.0 94.2,174.2 94.7,175.3 95.0,176.0 95.4,176.5 95.9,177.4 96.3,178.8 96.8,179.7 97.0,180.0 97.7,178.5 98.4,178.4 99.0,178.0 99.7,178.6 100.4,180.1 101.0,180.0 101.4,181.5 101.9,181.3 102.3,181.6 102.8,181.5 103.0,184.0 103.4,183.3 103.9,186.3 104.3,185.5 104.8,189.7 105.0,188.0 105.7,188.5 106.4,188.9 107.0,190.0 107.9,189.3 109.0,189.0 109.4,187.4 109.7,186.3 110.1,186.3 110.5,183.4 110.9,184.5 111.0,184.0 111.4,184.8 111.9,184.6 112.3,188.0 112.8,188.1 113.0,188.0 113.7,188.7 114.4,185.7 115.0,186.0 115.4,185.3 115.9,186.3 116.3,186.6 116.8,187.2 117.0,190.0 117.1,193.0 117.2,191.4 117.4,193.2 117.5,193.3 117.6,194.8 117.7,198.0 117.9,194.7 118.0,198.0 118.4,195.9 119.0,196.0 119.3,197.1 119.6,196.7 119.9,199.7 120.3,201.5 120.6,201.9 120.9,202.7 121.0,202.0 121.4,200.9 121.9,201.5 122.3,198.3 122.8,196.9 123.0,198.0 124.0,197.7 125.0,198.0 125.1,196.7 125.3,197.6 125.4,193.8 125.6,195.5 125.7,192.1 125.8,190.4 126.0,188.9 126.1,190.0 126.3,187.2 126.4,188.4 126.6,187.2 126.7,185.6 126.8,182.7 127.0,184.0 127.2,182.3 127.3,182.6 127.5,178.7 127.7,181.0 127.8,179.1 128.0,177.4 128.2,177.4 128.3,177.0 128.5,175.1 128.6,173.1 128.8,174.2 129.0,172.0 129.2,170.2 129.5,170.5 129.7,170.4 130.0,169.8 130.2,169.2 130.5,167.5 130.7,165.4 131.0,164.0 131.7,163.0 132.4,162.8 133.0,162.0 133.3,163.6 133.6,167.7 133.9,165.7 134.3,164.7 134.6,168.7 134.9,165.7 135.0,168.0 135.2,170.3 135.5,168.3 135.7,169.5 136.0,171.2 136.2,172.5 136.5,172.1 136.7,175.6 137.0,176.0 137.2,176.8 137.5,179.7 137.7,177.6 138.0,177.5 138.2,181.7 138.5,181.5 138.7,184.1 139.0,184.0 139.3,181.9 139.6,184.3 139.9,187.0 140.3,190.3 140.6,187.1 140.9,187.3 141.0,190.0 141.2,190.4 141.5,193.8 141.7,195.0 142.0,192.1 142.2,194.1 142.5,193.5 142.7,195.7 143.0,198.0 143.4,197.7 143.9,200.3 144.3,202.2 144.8,204.7 145.0,202.0 145.1,202.5 145.2,205.1 145.3,205.3 145.5,206.1 145.6,209.5 145.7,208.9 145.8,211.0 145.9,210.3 146.0,212.1 146.1,212.6 146.2,212.8 146.4,213.0 146.5,214.4 146.6,216.0 146.8,215.0 147.1,213.6 147.3,212.6 147.5,211.2 147.7,212.3 148.0,210.0 148.4,208.8 148.7,208.0 149.1,206.9 149.5,208.0 149.9,204.7 150.0,205.0 150.1,207.8 150.3,205.9 150.4,210.0 150.5,209.8 150.6,209.3 150.8,211.5 150.9,213.4 151.0,211.7 151.1,213.6 151.3,215.3 151.4,216.0 151.5,214.7 151.7,213.7 151.8,213.1 152.0,212.5 152.1,212.1 152.3,212.0 152.4,208.7 152.6,211.9 152.7,206.7 152.8,208.4 153.0,205.0 153.4,203.9 153.7,201.3 154.1,201.7 154.5,200.8 154.9,201.8 155.0,200.0 155.4,196.5 155.9,197.4 156.3,197.2 156.8,197.3 157.0,196.0 157.1,195.5 157.2,195.1 157.4,192.8 157.5,191.7 157.6,192.6 157.7,192.3 157.9,189.5 158.0,188.3 158.1,186.0 158.2,188.8 158.4,185.6 158.5,184.9 158.6,181.0 158.7,182.9 158.9,184.2 159.0,180.0 159.7,179.1 160.4,178.3 161.0,178.0 161.4,180.9 161.9,179.6 162.3,181.8 162.8,184.1 163.0,182.0 163.4,181.4 163.9,182.7 164.3,185.6 164.8,185.7 165.0,186.0 165.4,185.2 165.9,184.0 166.3,183.5 166.8,182.9 167.0,182.0 167.7,182.1 168.4,183.1 169.0,184.0 169.3,185.3 169.6,184.5 169.9,187.4 170.3,185.0 170.6,189.6 170.9,189.5 171.0,190.0 171.4,189.4 171.9,193.5 172.3,191.2 172.8,196.2 173.0,194.0 173.2,192.1 173.5,193.6 173.7,191.0 174.0,192.2 174.2,188.9 174.5,189.5 174.7,186.8 175.0,186.0 175.4,182.7 175.9,184.7 176.3,183.9 176.8,182.9 177.0,182.0 177.3,183.2 177.6,179.2 177.9,177.3 178.3,178.5 178.6,176.4 178.9,176.2 179.0,176.0 179.4,176.9 179.9,176.7 180.3,180.1 180.8,179.4 181.0,180.0 181.2,183.3 181.4,182.3 181.6,184.3 181.8,183.6 182.0,184.1 182.2,185.2 182.4,185.7 182.6,188.4 182.8,189.0 183.0,190.0 183.1,189.6 183.2,190.0 183.3,191.9 183.4,191.6 183.5,193.8 183.6,194.0 183.7,197.9 183.8,196.5 183.9,198.2 184.0,200.0 184.2,200.8 184.4,202.0 184.6,203.5 184.8,204.9 185.0,205.7 185.2,205.4 185.4,208.5 185.6,208.3 185.8,207.9 186.0,210.0 186.2,211.0 186.4,206.5 186.6,207.7 186.8,207.7 187.0,205.3 187.2,204.6 187.4,203.3 187.6,203.0 187.8,201.5 188.0,200.0 188.8,199.5 189.7,199.8 190.5,195.9 191.0,198.0 191.2,197.4 191.5,195.7 191.7,197.6 192.0,194.5 192.2,192.3 192.5,193.0 192.7,190.7 193.0,190.0 193.2,187.5 193.5,187.7 193.7,187.7 194.0,187.7 194.2,186.5 194.5,184.5 194.7,183.0 195.0,182.0 195.7,181.6 196.4,182.1 197.0,180.0 197.4,180.8 197.7,183.4 198.1,181.8 198.5,183.7 198.9,185.6 199.0,185.0 199.2,186.9 199.4,187.2 199.6,187.3 199.7,186.6 199.9,189.4 200.1,189.8 200.3,191.4 200.5,194.9 200.7,192.9 200.9,195.9 201.0,195.6 201.3,196.5 201.6,196.1 201.9,198.6 202.3,200.4 202.6,198.8 202.9,199.8 203.0,201.6 203.2,202.1 203.3,204.5 203.5,203.8 203.6,206.1 203.8,207.1 203.9,207.6 204.0,208.0 204.2,207.6 204.4,207.7 204.7,204.8 204.9,204.5 205.0,203.6 205.2,201.3 205.5,200.7 205.7,200.6 206.0,200.8 206.2,197.9 206.5,196.0 206.7,198.0 207.0,195.6 207.1,197.7 207.3,190.3 207.4,191.3 207.5,191.8 207.6,191.3 207.8,188.4 207.9,189.1 208.0,189.1 208.1,186.3 208.3,186.6 208.4,184.9 208.5,182.5 208.6,181.9 208.8,180.9 208.9,182.4 209.0,179.8 209.1,180.3 209.3,178.1 209.4,174.8 209.6,175.2 209.7,174.3 209.9,171.4 210.0,172.9 210.2,172.3 210.3,169.2 210.5,169.8 210.7,170.2 210.9,171.2 211.1,175.1 211.2,174.6 211.4,175.7 211.6,175.8 211.8,175.0 212.0,177.8 212.2,180.0 212.5,178.9 212.7,178.2 213.0,182.6 213.2,182.2 213.5,183.6 213.7,185.2 214.0,185.7 214.2,184.4 214.3,184.3 214.5,184.4 214.7,181.3 214.8,180.3 215.0,179.8 215.2,179.6 215.3,177.3 215.5,176.9 215.7,175.0 215.8,174.8 216.0,173.8 216.1,173.5 216.2,170.8 216.4,170.6 216.5,168.0 216.6,167.9 216.7,167.9 216.8,167.5 217.0,164.6 217.1,164.7 217.2,163.9 217.4,163.7 217.6,166.3 217.8,167.2 218.0,168.4 218.2,168.5 218.4,168.0 218.6,170.1 218.8,171.8 219.2,171.0 219.7,172.7 220.1,174.4 220.6,176.8 220.8,175.8 221.2,175.9 221.7,176.6 222.1,178.7 222.6,176.8 222.8,179.8 223.4,181.5 223.9,176.2 224.5,178.6 224.7,177.0 225.3,179.1 225.9,179.9 226.4,179.3 226.7,179.8 227.2,181.6 227.6,181.1 228.1,183.7 228.5,182.5 228.7,183.7 229.3,183.5 229.8,185.8 230.4,185.6 230.7,186.7 231.0,186.6 231.3,183.7 231.5,184.2 231.8,181.6 232.1,181.8 232.4,183.7 232.7,179.8 232.9,177.5 233.1,176.3 233.3,174.8 233.5,175.6 233.7,177.0 233.9,173.3 234.1,174.1 234.3,171.7 234.5,170.2 234.7,169.8 235.2,171.5 235.6,169.4 236.1,164.8 236.5,165.0 236.7,165.9 237.1,167.3 237.6,168.5 238.0,168.3 238.5,169.9 238.6,169.8 238.9,171.4 239.2,171.3 239.5,173.9 239.9,172.5 240.2,175.5 240.5,176.7 240.6,175.8 241.0,177.0 241.5,177.2 241.9,178.5 242.4,176.6 242.6,179.8 243.1,181.0 243.5,179.8 244.0,179.9 244.4,184.3 244.6,183.7 245.1,183.4 245.5,185.9 246.0,186.4 246.2,186.7 246.6,183.6 247.0,183.7 247.5,183.6 247.6,183.7 247.9,183.4 248.2,181.9 248.6,179.2 248.9,179.2 249.2,179.1 249.6,177.8 249.9,175.2 250.2,175.3 250.5,174.3 250.8,171.3 251.1,175.2 251.4,173.2 251.5,171.8 251.8,170.3 252.1,171.1 252.5,167.6 252.8,170.0 253.1,166.6 253.5,165.9 254.2,165.4 254.9,163.8 255.5,163.9 256.2,164.7 256.9,165.8 257.5,166.0 258.0,165.2 258.6,163.3 259.1,164.4 259.5,162.9 260.4,164.1 261.5,163.9 262.0,163.0 262.5,162.0" fill="none" stroke="#f4f458" stroke-width="0.85" stroke-linejoin="round" stroke-opacity="1.0"/>
<text x="16.40" y="154.60" text-anchor="end" style="font-family:'Liberation Serif',serif;font-size:4.4px;font-weight:normal" fill="#1a1a1a" stroke="#1a1a1a" stroke-width="0.16">100</text>
<text x="16.40" y="164.58" text-anchor="end" style="font-family:'Liberation Serif',serif;font-size:4.4px;font-weight:normal" fill="#1a1a1a" stroke="#1a1a1a" stroke-width="0.16">98</text>
<text x="16.40" y="174.96" text-anchor="end" style="font-family:'Liberation Serif',serif;font-size:4.4px;font-weight:normal" fill="#1a1a1a" stroke="#1a1a1a" stroke-width="0.16">96</text>
<text x="16.40" y="185.34" text-anchor="end" style="font-family:'Liberation Serif',serif;font-size:4.4px;font-weight:normal" fill="#1a1a1a" stroke="#1a1a1a" stroke-width="0.16">94</text>
<text x="16.40" y="195.72" text-anchor="end" style="font-family:'Liberation Serif',serif;font-size:4.4px;font-weight:normal" fill="#1a1a1a" stroke="#1a1a1a" stroke-width="0.16">92</text>
<text x="16.40" y="206.10" text-anchor="end" style="font-family:'Liberation Serif',serif;font-size:4.4px;font-weight:normal" fill="#1a1a1a" stroke="#1a1a1a" stroke-width="0.16">90</text>
<text x="16.40" y="216.48" text-anchor="end" style="font-family:'Liberation Serif',serif;font-size:4.4px;font-weight:normal" fill="#1a1a1a" stroke="#1a1a1a" stroke-width="0.16">88</text>
<text x="16.40" y="226.86" text-anchor="end" style="font-family:'Liberation Serif',serif;font-size:4.4px;font-weight:normal" fill="#1a1a1a" stroke="#1a1a1a" stroke-width="0.16">86</text>
<text x="16.40" y="237.24" text-anchor="end" style="font-family:'Liberation Serif',serif;font-size:4.4px;font-weight:normal" fill="#1a1a1a" stroke="#1a1a1a" stroke-width="0.16">84</text>
<text x="16.40" y="247.62" text-anchor="end" style="font-family:'Liberation Serif',serif;font-size:4.4px;font-weight:normal" fill="#1a1a1a" stroke="#1a1a1a" stroke-width="0.16">82</text>
<text x="16.82" y="260.90" text-anchor="middle" style="font-family:'Liberation Serif',serif;font-size:4.4px;font-weight:normal" fill="#1a1a1a" stroke="#1a1a1a" stroke-width="0.16">0</text>
<text x="37.80" y="260.90" text-anchor="middle" style="font-family:'Liberation Serif',serif;font-size:4.4px;font-weight:normal" fill="#1a1a1a" stroke="#1a1a1a" stroke-width="0.16">600</text>
<text x="58.78" y="260.90" text-anchor="middle" style="font-family:'Liberation Serif',serif;font-size:4.4px;font-weight:normal" fill="#1a1a1a" stroke="#1a1a1a" stroke-width="0.16">1200</text>
<text x="79.77" y="260.90" text-anchor="middle" style="font-family:'Liberation Serif',serif;font-size:4.4px;font-weight:normal" fill="#1a1a1a" stroke="#1a1a1a" stroke-width="0.16">1800</text>
<text x="100.75" y="260.90" text-anchor="middle" style="font-family:'Liberation Serif',serif;font-size:4.4px;font-weight:normal" fill="#1a1a1a" stroke="#1a1a1a" stroke-width="0.16">2400</text>
<text x="121.73" y="260.90" text-anchor="middle" style="font-family:'Liberation Serif',serif;font-size:4.4px;font-weight:normal" fill="#1a1a1a" stroke="#1a1a1a" stroke-width="0.16">3000</text>
<text x="142.71" y="260.90" text-anchor="middle" style="font-family:'Liberation Serif',serif;font-size:4.4px;font-weight:normal" fill="#1a1a1a" stroke="#1a1a1a" stroke-width="0.16">3600</text>
<text x="163.69" y="260.90" text-anchor="middle" style="font-family:'Liberation Serif',serif;font-size:4.4px;font-weight:normal" fill="#1a1a1a" stroke="#1a1a1a" stroke-width="0.16">4200</text>
<text x="184.68" y="260.90" text-anchor="middle" style="font-family:'Liberation Serif',serif;font-size:4.4px;font-weight:normal" fill="#1a1a1a" stroke="#1a1a1a" stroke-width="0.16">4800</text>
<text x="205.66" y="260.90" text-anchor="middle" style="font-family:'Liberation Serif',serif;font-size:4.4px;font-weight:normal" fill="#1a1a1a" stroke="#1a1a1a" stroke-width="0.16">5400</text>
<text x="226.64" y="260.90" text-anchor="middle" style="font-family:'Liberation Serif',serif;font-size:4.4px;font-weight:normal" fill="#1a1a1a" stroke="#1a1a1a" stroke-width="0.16">6000</text>
<text x="247.62" y="260.90" text-anchor="middle" style="font-family:'Liberation Serif',serif;font-size:4.4px;font-weight:normal" fill="#1a1a1a" stroke="#1a1a1a" stroke-width="0.16">6600</text>
<text x="261.68" y="260.90" text-anchor="middle" style="font-family:'Liberation Serif',serif;font-size:4.4px;font-weight:normal" fill="#1a1a1a" stroke="#1a1a1a" stroke-width="0.16">7002</text>
<text x="144.80" y="266.00" text-anchor="middle" style="font-family:'Liberation Sans',sans-serif;font-size:4.46px;font-weight:bold" fill="#111" stroke="#111" stroke-width="0.08">Nucleotide Position</text>
<text transform="translate(9.70,199.40) rotate(-90)" text-anchor="middle" style="font-family:'Liberation Sans',sans-serif;font-size:4.5px;font-weight:bold" fill="#111" stroke="#111" stroke-width="0.08">Similarity Score</text>
<rect x="55.3" y="155.8" width="70.00" height="7.80" fill="#fff" stroke="#8c8c8c" stroke-width="0.6"/><line x1="55.599999999999994" y1="155.8" x2="125.0" y2="155.8" stroke="#cfcfcf" stroke-width="0.7"/><text x="57.20" y="161.30" text-anchor="start" style="font-family:'Liberation Sans',sans-serif;font-size:4.47px;font-weight:bold" fill="#111" stroke="#111" stroke-width="0.2">Query Sequence: MZ493233</text>
<rect x="221.7" y="229.4" width="44.20" height="26.00" fill="#fff" stroke="#7a7a7a" stroke-width="0.6"/><line x1="223.2" y1="232.3" x2="239.9" y2="232.3" stroke="#f27fa5" stroke-width="1.6"/><text x="240.90" y="233.90" text-anchor="start" style="font-family:'Liberation Serif',serif;font-size:4.7px;font-weight:normal" fill="#111" stroke="#111" stroke-width="0.08">MH794435</text><line x1="223.2" y1="237.0" x2="239.9" y2="237.0" stroke="#1f9a55" stroke-width="1.6"/><text x="240.90" y="238.60" text-anchor="start" style="font-family:'Liberation Serif',serif;font-size:4.7px;font-weight:normal" fill="#111" stroke="#111" stroke-width="0.08">MH794434</text><line x1="223.2" y1="241.5" x2="239.9" y2="241.5" stroke="#f4913e" stroke-width="1.6"/><text x="240.90" y="243.10" text-anchor="start" style="font-family:'Liberation Serif',serif;font-size:4.7px;font-weight:normal" fill="#111" stroke="#111" stroke-width="0.08">JN006720</text><line x1="223.2" y1="245.9" x2="239.9" y2="245.9" stroke="#3fe3e3" stroke-width="1.6"/><text x="240.90" y="247.50" text-anchor="start" style="font-family:'Liberation Serif',serif;font-size:4.7px;font-weight:normal" fill="#111" stroke="#111" stroke-width="0.08">JN006722</text><line x1="223.2" y1="250.4" x2="239.9" y2="250.4" stroke="#ffff33" stroke-width="1.6"/><text x="240.90" y="252.00" text-anchor="start" style="font-family:'Liberation Serif',serif;font-size:4.7px;font-weight:normal" fill="#111" stroke="#111" stroke-width="0.08">MZ493232</text>
<text x="8.50" y="146.90" text-anchor="start" style="font-family:'Liberation Sans',sans-serif;font-size:10.6px;font-weight:bold" fill="#000" stroke="#000" stroke-width="0.08">c</text>
<line x1="290.3" y1="256.20" x2="538.3" y2="256.20" stroke="#dfdfdf" stroke-width="0.9"/><line x1="290.3" y1="251.11" x2="538.3" y2="251.11" stroke="#dfdfdf" stroke-width="0.9"/><line x1="290.3" y1="246.03" x2="538.3" y2="246.03" stroke="#dfdfdf" stroke-width="0.9"/><line x1="290.3" y1="240.94" x2="538.3" y2="240.94" stroke="#dfdfdf" stroke-width="0.9"/><line x1="290.3" y1="235.86" x2="538.3" y2="235.86" stroke="#dfdfdf" stroke-width="0.9"/><line x1="290.3" y1="230.77" x2="538.3" y2="230.77" stroke="#dfdfdf" stroke-width="0.9"/><line x1="290.3" y1="225.69" x2="538.3" y2="225.69" stroke="#dfdfdf" stroke-width="0.9"/><line x1="290.3" y1="220.60" x2="538.3" y2="220.60" stroke="#dfdfdf" stroke-width="0.9"/><line x1="290.3" y1="215.52" x2="538.3" y2="215.52" stroke="#dfdfdf" stroke-width="0.9"/><line x1="290.3" y1="210.44" x2="538.3" y2="210.44" stroke="#dfdfdf" stroke-width="0.9"/><line x1="290.3" y1="205.35" x2="538.3" y2="205.35" stroke="#dfdfdf" stroke-width="0.9"/><line x1="290.3" y1="200.26" x2="538.3" y2="200.26" stroke="#dfdfdf" stroke-width="0.9"/><line x1="290.3" y1="195.18" x2="538.3" y2="195.18" stroke="#dfdfdf" stroke-width="0.9"/><line x1="290.3" y1="190.09" x2="538.3" y2="190.09" stroke="#dfdfdf" stroke-width="0.9"/><line x1="290.3" y1="185.01" x2="538.3" y2="185.01" stroke="#dfdfdf" stroke-width="0.9"/><line x1="290.3" y1="179.92" x2="538.3" y2="179.92" stroke="#dfdfdf" stroke-width="0.9"/><line x1="290.3" y1="174.84" x2="538.3" y2="174.84" stroke="#dfdfdf" stroke-width="0.9"/><line x1="290.3" y1="169.75" x2="538.3" y2="169.75" stroke="#dfdfdf" stroke-width="0.9"/><line x1="290.3" y1="164.67" x2="538.3" y2="164.67" stroke="#dfdfdf" stroke-width="0.9"/><line x1="290.3" y1="159.58" x2="538.3" y2="159.58" stroke="#dfdfdf" stroke-width="0.9"/><line x1="290.3" y1="154.50" x2="538.3" y2="154.50" stroke="#dfdfdf" stroke-width="0.9"/><polyline points="290.3,151.5 538.3,151.5 538.3,259.3" fill="none" stroke="#cdcdcd" stroke-width="1"/><polyline points="290.3,151.5 290.3,259.3 538.3,259.3" fill="none" stroke="#a6a6a6" stroke-width="1.4"/>
<polyline points="290.5,256.2 291.5,256.2 292.5,256.2 293.5,256.2 294.5,256.2 295.5,256.2 296.5,256.2 297.5,256.2 298.5,256.2 299.5,256.2 300.5,256.2 301.5,256.2 302.5,256.2 303.5,256.2 304.5,256.2 305.5,256.2 306.5,256.2 307.5,256.2 308.5,256.2 309.5,256.2 310.5,256.2 311.5,256.2 312.5,256.2 313.5,256.2 314.5,256.2 315.5,256.2 316.5,256.2 317.5,256.2 318.5,256.2 319.5,256.2 320.5,256.2 321.5,256.2 322.5,256.2 323.5,256.2 324.5,256.2 325.5,256.2 326.5,256.2 327.5,256.2 328.5,256.2 329.5,256.2 330.5,256.2 331.5,256.2 332.5,256.2 333.5,256.2 334.5,256.2 335.5,256.2 336.5,256.2 337.5,256.2 338.5,256.2 339.5,256.2 340.5,256.2 341.5,256.2 342.5,256.2 343.5,256.2 344.5,256.2 345.5,256.2 346.5,256.2 347.5,256.2 348.5,256.2 349.5,256.2 350.5,256.2 351.5,256.2 352.5,256.2 353.5,256.2 354.5,256.2 355.5,256.2 356.5,256.2 357.5,256.2 358.5,256.2 359.5,256.2 360.5,256.2 361.5,256.2 362.5,256.2 363.5,256.2 364.5,256.2 365.5,256.2 366.5,256.2 367.5,256.2 368.5,256.2 369.5,256.2 370.5,256.2 371.5,256.2 372.5,256.2 373.5,256.2 374.5,256.2 375.5,256.2 376.5,256.2 377.5,256.2 378.5,256.2 379.5,256.2 380.5,256.2 381.5,256.2 382.5,256.2 383.5,256.2 384.5,256.2 385.5,256.2 386.5,256.2 387.5,256.2 388.5,256.2 389.5,256.2 390.5,256.2 391.5,256.2 392.5,256.2 393.5,256.2 394.5,256.2 395.5,256.2 396.5,256.2 397.0,256.2 397.0,255.9 397.1,253.7 397.1,254.1 397.2,252.1 397.2,252.2 397.2,249.9 397.3,249.0 397.3,248.4 397.3,248.0 397.4,247.2 397.4,244.9 397.5,243.7 397.5,243.7 397.5,243.1 397.6,241.7 397.6,240.0 397.6,240.1 397.7,238.2 397.7,237.3 397.8,236.6 397.8,234.8 397.8,232.7 397.9,233.4 397.9,232.7 398.0,231.5 398.0,230.0 398.0,229.4 398.1,228.1 398.1,227.7 398.2,226.1 398.2,226.0 398.2,224.0 398.3,223.6 398.3,221.6 398.4,221.2 398.4,220.3 398.4,219.1 398.5,219.1 398.5,217.0 398.6,216.8 398.6,215.3 398.6,214.8 398.7,212.4 398.7,211.8 398.8,211.7 398.8,209.5 398.8,209.3 398.9,208.4 398.9,207.2 399.0,206.3 399.0,205.0 399.0,204.4 399.1,202.8 399.1,202.3 399.1,200.7 399.1,199.7 399.2,197.9 399.2,197.9 399.2,195.9 399.2,196.0 399.3,195.1 399.3,193.3 399.3,193.1 399.3,192.2 399.4,190.8 399.4,189.4 399.4,188.9 399.4,188.3 399.5,187.6 399.5,187.3 399.5,183.7 399.5,184.2 399.6,183.3 399.6,181.6 399.6,181.2 399.6,181.5 399.7,179.1 399.7,179.0 399.7,177.7 399.7,175.7 399.8,173.4 399.8,174.8 399.8,174.1 399.8,170.8 399.9,170.9 399.9,169.5 399.9,169.2 399.9,168.1 400.0,167.8 400.0,166.0 400.1,164.6 400.2,165.3 400.3,161.8 400.4,162.2 400.6,162.9 400.7,160.0 400.8,159.5 400.9,157.7 401.0,157.0 401.2,160.3 401.4,159.6 401.6,159.7 401.8,159.6 402.0,162.0 402.0,163.1 402.1,164.5 402.1,163.6 402.2,165.7 402.2,167.4 402.2,166.4 402.3,168.9 402.3,168.9 402.4,170.1 402.4,172.3 402.5,173.8 402.5,174.8 402.5,174.5 402.6,176.3 402.6,175.8 402.7,177.0 402.7,179.4 402.7,179.7 402.8,180.3 402.8,180.7 402.9,182.8 402.9,185.5 403.0,183.6 403.0,186.0 403.4,186.2 404.0,188.0 404.0,189.8 404.1,188.7 404.1,190.6 404.2,192.0 404.2,193.8 404.2,193.9 404.3,196.3 404.3,196.0 404.4,196.9 404.4,198.3 404.4,199.2 404.5,199.0 404.5,200.3 404.6,201.8 404.6,203.0 404.6,204.2 404.6,204.2 404.6,205.5 404.6,206.5 404.6,208.2 404.7,208.7 404.7,210.4 404.7,211.3 404.7,211.4 404.7,212.8 404.7,213.1 404.7,215.1 404.7,216.6 404.7,216.3 404.7,216.8 404.8,219.4 404.8,219.8 404.8,221.0 404.8,222.3 404.8,223.3 404.8,224.6 404.8,224.7 404.8,224.5 404.8,226.7 404.8,227.8 404.9,228.7 404.9,230.3 404.9,230.8 404.9,232.9 404.9,232.6 404.9,234.0 404.9,234.8 404.9,237.5 404.9,236.4 404.9,237.3 405.0,238.7 405.0,240.5 405.0,241.0 405.0,241.9 405.0,243.0 405.1,243.0 405.2,243.6 405.2,245.8 405.3,246.8 405.4,249.2 405.5,249.2 405.5,250.3 405.6,251.7 405.7,251.4 405.8,252.1 405.8,253.7 405.9,256.0 406.0,256.2 407.0,256.2 408.0,256.2 409.0,256.2 410.0,256.2 411.0,256.2 412.0,256.2 413.0,256.2 414.0,256.2 415.0,256.2 416.0,256.2 417.0,256.2 418.0,256.2 419.0,256.2 420.0,256.2 421.0,256.2 422.0,256.2 423.0,256.2 424.0,256.2 425.0,256.2 426.0,256.2 427.0,256.2 428.0,256.2 429.0,256.2 430.0,256.2 431.0,256.2 432.0,256.2 433.0,256.2 433.0,255.9 433.1,253.8 433.1,252.4 433.2,252.8 433.2,252.0 433.3,249.4 433.3,250.3 433.3,247.7 433.4,247.7 433.4,246.1 433.5,245.0 433.5,243.8 433.6,243.7 433.6,242.6 433.6,241.8 433.7,240.0 433.7,238.6 433.8,239.7 433.8,238.4 433.9,236.1 433.9,234.4 433.9,235.3 434.0,233.0 434.1,232.1 434.2,231.0 434.3,230.6 434.4,229.3 434.5,228.1 434.6,228.4 434.7,224.7 434.8,225.5 434.9,223.4 435.0,223.0 435.4,222.2 436.0,221.0 436.2,221.9 436.3,223.2 436.5,222.3 436.7,225.4 436.8,227.5 437.0,227.0 437.1,227.7 437.2,229.6 437.2,230.4 437.3,231.2 437.4,231.6 437.5,233.4 437.5,234.2 437.6,236.0 437.7,236.6 437.8,236.5 437.8,235.9 437.9,240.0 438.0,240.0 438.1,241.3 438.1,242.1 438.2,242.6 438.2,245.7 438.3,245.9 438.4,246.1 438.4,246.7 438.5,248.4 438.6,249.9 438.6,250.3 438.7,251.6 438.7,252.2 438.8,253.2 438.9,253.1 438.9,255.1 439.0,256.2 440.0,256.2 441.0,256.2 442.0,256.2 443.0,256.2 444.0,256.2 445.0,256.2 446.0,256.2 447.0,256.2 448.0,256.2 449.0,256.2 450.0,256.2 451.0,256.2 452.0,256.2 453.0,256.2 454.0,256.2 455.0,256.2 456.0,256.2 457.0,256.2 458.0,256.2 459.0,256.2 460.0,256.2 461.0,256.2 462.0,256.2 463.0,256.2 464.0,256.2 465.0,256.2 466.0,256.2 467.0,256.2 468.0,256.2 469.0,256.2 470.0,256.2 471.0,256.2 472.0,256.2 473.0,256.2 474.0,256.2 475.0,256.2 476.0,256.2 477.0,256.2 478.0,256.2 479.0,256.2 480.0,256.2 480.5,256.2 480.5,255.2 480.5,254.1 480.6,253.0 480.6,252.4 480.6,250.8 480.6,250.1 480.7,248.3 480.7,249.8 480.7,246.6 480.7,245.4 480.8,244.8 480.8,243.9 480.8,242.5 480.8,240.5 480.9,242.3 480.9,240.9 480.9,238.9 480.9,238.6 480.9,236.4 481.0,235.1 481.0,235.0 481.0,234.2 481.1,233.4 481.1,231.5 481.2,231.0 481.2,227.9 481.3,228.9 481.3,228.7 481.3,227.1 481.4,226.1 481.4,225.4 481.5,222.6 481.5,222.1 481.6,221.1 481.6,221.2 481.6,219.6 481.7,217.7 481.7,218.6 481.8,216.9 481.8,216.7 481.9,216.4 481.9,212.9 481.9,212.1 482.0,212.8 482.0,212.0 482.1,210.3 482.1,209.3 482.2,208.5 482.2,207.5 482.2,205.1 482.3,205.5 482.3,204.6 482.4,204.3 482.4,202.3 482.5,201.0 482.5,200.3 482.6,199.2 482.6,199.0 482.7,198.1 482.7,196.6 482.8,195.4 482.8,193.4 482.9,193.3 482.9,192.7 482.9,193.0 483.0,194.3 483.0,195.9 483.0,196.8 483.1,200.1 483.1,198.1 483.1,199.3 483.2,199.9 483.2,201.5 483.2,202.5 483.3,204.4 483.3,203.3 483.4,206.3 483.4,207.1 483.4,207.3 483.5,208.2 483.5,209.8 483.5,210.0 483.5,211.4 483.5,211.9 483.5,212.9 483.5,214.0 483.6,214.2 483.6,216.2 483.6,217.4 483.6,218.0 483.6,218.2 483.6,220.0 483.6,220.9 483.6,222.2 483.6,222.7 483.7,224.6 483.7,225.8 483.7,226.6 483.7,227.2 483.7,228.8 483.7,229.0 483.7,229.9 483.7,230.0 483.7,232.0 483.7,233.8 483.8,233.3 483.8,235.5 483.8,235.1 483.8,237.2 483.8,239.3 483.8,239.0 483.8,239.2 483.8,241.2 483.8,241.9 483.9,243.5 483.9,243.6 483.9,243.8 483.9,245.7 483.9,247.4 483.9,248.7 483.9,249.2 483.9,250.0 483.9,251.5 484.0,251.9 484.0,252.7 484.0,254.2 484.0,255.8 484.0,256.2 485.0,256.2 486.0,256.2 487.0,256.2 488.0,256.2 489.0,256.2 490.0,256.2 491.0,256.2 492.0,256.2 493.0,256.2 494.0,256.2 495.0,256.2 496.0,256.2 497.0,256.2 498.0,256.2 499.0,256.2 500.0,256.2 501.0,256.2 502.0,256.2 503.0,256.2 504.0,256.2 505.0,256.2 505.5,256.2 505.5,254.9 505.6,254.5 505.6,252.8 505.6,251.7 505.7,251.3 505.7,249.3 505.8,248.6 505.8,247.4 505.8,246.8 505.9,245.6 505.9,246.8 505.9,244.6 506.0,243.3 506.0,241.3 506.0,239.6 506.1,240.5 506.1,238.8 506.1,238.9 506.2,236.9 506.2,235.3 506.3,234.8 506.3,233.1 506.3,232.2 506.4,232.7 506.4,230.9 506.4,230.7 506.5,228.8 506.5,228.1 506.5,226.8 506.6,225.8 506.6,224.8 506.6,225.3 506.7,223.2 506.7,222.8 506.8,220.4 506.8,222.0 506.9,220.7 506.9,219.6 507.0,217.7 507.0,216.7 507.1,215.5 507.1,214.9 507.2,214.1 507.2,212.8 507.3,211.2 507.3,210.2 507.4,211.0 507.4,210.0 507.5,207.0 507.5,206.4 507.6,205.8 507.6,205.2 507.7,203.7 507.7,203.0 507.8,202.2 508.0,201.3 508.1,200.8 508.2,198.1 508.4,198.8 508.5,197.4 508.6,196.4 508.7,195.6 508.8,195.5 508.8,197.4 508.9,198.4 508.9,200.0 509.0,201.1 509.0,202.1 509.1,201.7 509.1,204.4 509.2,204.6 509.3,206.2 509.3,206.6 509.4,207.1 509.4,210.4 509.5,210.0 509.5,210.0 509.5,211.5 509.5,211.7 509.5,212.8 509.5,214.8 509.6,215.3 509.6,217.2 509.6,217.8 509.6,217.3 509.6,217.9 509.6,220.8 509.6,221.4 509.6,221.8 509.6,222.8 509.7,223.6 509.7,226.2 509.7,225.9 509.7,226.0 509.7,228.6 509.7,228.9 509.7,230.2 509.7,230.7 509.7,232.0 509.7,231.7 509.8,234.4 509.8,234.5 509.8,235.7 509.8,237.2 509.8,238.9 509.8,237.5 509.8,239.9 509.8,241.4 509.8,242.7 509.9,242.4 509.9,244.2 509.9,245.3 509.9,246.6 509.9,246.6 509.9,247.9 509.9,248.6 509.9,250.8 509.9,251.7 510.0,251.7 510.0,252.9 510.0,254.1 510.0,254.4 510.0,256.2 511.0,256.2 512.0,256.2 513.0,256.2 514.0,256.2 515.0,256.2 515.5,256.2 515.5,255.1 515.5,254.8 515.6,253.7 515.6,251.7 515.6,250.8 515.6,250.1 515.6,248.2 515.7,248.4 515.7,247.3 515.7,245.3 515.7,245.0 515.7,243.7 515.8,243.0 515.8,241.6 515.8,242.1 515.8,239.5 515.9,239.7 515.9,238.3 515.9,238.2 515.9,236.2 515.9,235.2 516.0,234.2 516.0,231.9 516.0,233.9 516.0,231.1 516.0,230.0 516.1,228.5 516.1,228.1 516.1,228.3 516.1,225.7 516.1,225.5 516.2,224.9 516.2,223.8 516.2,221.9 516.2,220.0 516.2,220.5 516.3,219.6 516.3,218.0 516.3,216.9 516.3,217.4 516.3,214.2 516.4,213.8 516.4,212.8 516.4,211.1 516.4,210.8 516.5,209.6 516.5,210.0 516.5,207.0 516.5,206.3 516.5,206.4 516.6,204.2 516.6,202.8 516.6,203.0 516.6,201.6 516.7,200.1 516.7,199.4 516.8,198.9 516.8,198.3 516.9,196.5 516.9,195.8 517.0,195.5 517.0,193.9 517.0,193.5 517.1,191.6 517.1,191.3 517.2,190.9 517.2,188.0 517.3,190.0 517.3,186.8 517.4,185.8 517.4,184.9 517.5,184.3 517.5,182.2 517.5,182.1 517.6,180.8 517.8,181.4 518.0,183.7 518.2,182.5 518.4,185.2 518.5,185.5 518.6,186.0 518.6,186.5 518.7,188.1 518.7,188.8 518.7,190.0 518.8,191.2 518.8,192.8 518.8,192.7 518.9,195.1 518.9,193.2 518.9,197.3 519.0,197.8 519.0,199.1 519.0,199.1 519.1,200.2 519.1,200.3 519.2,202.9 519.2,202.2 519.2,203.4 519.3,205.0 519.3,206.1 519.3,207.2 519.4,207.2 519.4,208.8 519.4,210.3 519.5,211.8 519.5,212.5 519.5,213.3 519.6,213.8 519.6,214.9 519.6,213.6 519.7,212.5 519.7,211.8 519.8,211.3 519.8,209.6 519.8,210.3 519.9,207.3 519.9,207.5 520.0,205.8 520.0,204.8 520.1,203.7 520.1,204.0 520.1,201.7 520.2,201.3 520.2,200.0 520.3,199.4 520.3,198.3 520.3,198.1 520.4,195.4 520.4,194.3 520.5,195.0 520.5,193.8 520.5,192.0 520.6,190.7 521.0,191.4 521.4,192.7 521.6,193.0 521.7,194.9 521.7,194.5 521.8,197.0 521.8,197.0 521.9,197.7 521.9,198.7 522.0,198.5 522.0,201.2 522.1,201.1 522.1,202.6 522.2,203.3 522.2,205.1 522.3,206.5 522.3,207.0 522.4,208.1 522.4,209.3 522.5,210.0 522.6,212.1 522.7,212.4 522.8,214.1 522.8,214.0 522.9,215.2 523.0,215.6 523.1,217.4 523.2,217.4 523.3,219.3 523.4,219.6 523.4,220.7 523.5,222.8 523.6,222.8 523.7,223.9 523.7,225.3 523.8,225.6 523.8,225.6 523.9,228.8 523.9,228.7 524.0,229.3 524.0,231.4 524.1,231.0 524.1,232.3 524.2,234.6 524.2,234.3 524.3,236.6 524.3,236.6 524.4,237.6 524.4,238.8 524.5,240.0 525.1,240.4 525.7,242.3 526.3,243.2 526.5,242.7 526.7,241.8 526.9,241.1 527.1,240.1 527.3,239.9 527.5,236.8 527.6,237.5 527.8,236.4 528.0,235.0 528.1,235.8 528.2,237.0 528.3,237.7 528.5,239.8 528.6,239.2 528.7,241.4 528.8,242.8 528.9,243.3 529.0,243.6 529.1,244.6 529.3,244.4 529.4,246.3 529.5,248.0 529.7,247.8 529.9,245.4 530.1,243.9 530.3,243.9 530.6,242.1 530.8,242.4 531.0,240.5 531.2,240.8 531.4,239.1 531.5,238.7 531.6,238.8 531.8,240.1 531.9,241.3 532.0,242.1 532.2,244.5 532.3,243.9 532.4,245.9 532.6,246.2 532.7,248.0 532.8,247.6 532.9,248.6 533.0,250.0 533.3,251.3 533.6,252.9 533.9,251.9 534.2,253.6 534.5,254.4 534.8,255.1 535.0,256.2 536.0,256.2 537.0,256.2 537.5,256.2" fill="none" stroke="#f4a8bc" stroke-width="0.85" stroke-linejoin="round" stroke-opacity="1.0"/>
<polyline points="290.5,256.4 291.5,256.4 292.5,256.4 293.5,256.4 294.5,256.4 295.5,256.4 296.5,256.4 297.5,256.4 298.5,256.4 299.5,256.4 300.5,256.4 301.5,256.4 302.5,256.4 303.5,256.4 304.5,256.4 305.5,256.4 306.5,256.4 307.5,256.4 308.5,256.4 309.5,256.4 310.5,256.4 311.5,256.4 312.5,256.4 313.5,256.4 314.5,256.4 315.5,256.4 316.5,256.4 317.5,256.4 318.5,256.4 319.5,256.4 320.5,256.4 321.5,256.4 322.5,256.4 323.5,256.4 324.5,256.4 325.5,256.4 326.5,256.4 327.5,256.4 328.5,256.4 329.5,256.4 330.5,256.4 331.5,256.4 332.5,256.4 333.5,256.4 334.5,256.4 335.5,256.4 336.5,256.4 337.5,256.4 338.5,256.4 339.5,256.4 340.5,256.4 341.5,256.4 342.5,256.4 343.5,256.4 344.5,256.4 345.5,256.4 346.5,256.4 347.5,256.4 348.5,256.4 349.5,256.4 350.5,256.4 351.5,256.4 352.5,256.4 353.5,256.4 354.5,256.4 355.5,256.4 356.5,256.4 357.5,256.4 358.5,256.4 359.5,256.4 360.5,256.4 361.5,256.4 362.5,256.4 363.5,256.4 364.5,256.4 365.5,256.4 366.5,256.4 367.5,256.4 368.5,256.4 369.5,256.4 370.5,256.4 371.5,256.4 372.5,256.4 373.5,256.4 374.5,256.4 375.5,256.4 376.5,256.4 377.5,256.4 378.5,256.4 379.5,256.4 380.5,256.4 381.5,256.4 382.5,256.4 383.5,256.4 384.5,256.4 385.5,256.4 386.5,256.4 387.5,256.4 388.5,256.4 389.5,256.4 390.5,256.4 391.5,256.4 392.5,256.4 393.5,256.4 394.5,256.4 395.5,256.4 396.5,256.4 397.5,256.4 398.5,256.4 399.5,256.4 400.5,256.4 401.5,256.4 402.5,256.4 403.5,256.4 404.5,256.4 405.5,256.4 406.5,256.4 407.5,256.4 408.5,256.4 409.5,256.4 410.5,256.4 411.5,256.4 412.5,256.4 413.5,256.4 414.5,256.4 415.5,256.4 416.5,256.4 417.5,256.4 418.5,256.4 419.5,256.4 420.5,256.4 421.5,256.4 422.5,256.4 423.5,256.4 424.5,256.4 425.0,256.4 426.0,256.0 426.1,255.7 426.2,254.1 426.3,252.0 426.4,251.9 426.6,251.9 426.7,249.6 426.8,248.7 426.9,247.5 427.0,247.0 427.2,246.1 427.5,244.7 427.7,244.7 428.0,243.0 428.2,241.5 428.5,240.0 428.7,240.4 429.0,239.0 429.5,235.9 429.9,236.6 430.4,236.5 430.6,236.0 430.9,235.2 431.3,233.7 431.6,232.9 432.0,232.0 432.7,233.1 433.0,233.0 433.1,236.5 433.2,234.4 433.3,235.9 433.4,236.6 433.5,238.4 433.6,239.0 433.7,240.3 433.8,242.1 433.9,241.8 434.0,243.0 434.3,241.8 434.6,241.4 435.0,240.0 435.3,242.4 435.5,241.7 435.8,244.1 436.1,244.6 436.4,242.9 436.6,245.1 436.9,246.0 437.0,247.0 437.4,246.4 437.9,246.1 438.3,244.4 438.8,243.5 439.0,243.0 439.3,245.4 439.6,245.1 439.9,247.3 440.3,246.2 440.6,248.8 440.9,248.3 441.0,249.0 441.4,248.3 441.9,250.2 442.3,251.4 442.8,252.5 443.0,253.0 443.3,254.5 443.6,255.4 443.8,256.2 444.0,256.4 445.0,256.4 446.0,256.4 447.0,256.4 448.0,256.4 449.0,256.4 450.0,256.4 451.0,256.4 452.0,256.4 453.0,256.4 454.0,256.4 455.0,256.4 456.0,256.4 457.0,256.4 458.0,256.4 459.0,256.4 460.0,256.4 461.0,256.4 462.0,256.4 463.0,256.4 464.0,256.4 465.0,256.4 466.0,256.4 467.0,256.4 468.0,256.4 469.0,256.4 470.0,256.4 471.0,256.4 472.0,256.4 473.0,256.4 474.0,256.4 475.0,256.4 476.0,256.4 477.0,256.4 478.0,256.4 478.2,254.9 478.4,255.6 478.6,254.3 478.8,252.5 478.9,251.1 479.1,250.5 479.3,249.4 479.5,248.6 479.7,247.2 479.9,246.6 480.1,245.2 480.2,245.1 480.4,243.3 480.6,243.0 480.8,241.9 481.0,240.7 481.2,241.8 481.3,243.0 481.5,242.9 481.6,246.4 481.8,245.1 482.0,247.1 482.1,247.6 482.3,248.6 482.5,249.3 482.6,251.8 482.8,252.3 482.9,252.4 483.1,253.9 483.2,255.0 483.4,256.4 483.5,256.4 484.5,256.4 485.5,256.4 486.5,256.4 487.5,256.4 487.9,256.4 488.0,256.1 488.2,254.3 488.3,253.2 488.4,251.7 488.6,251.6 488.7,251.0 488.9,249.2 489.0,248.9 489.1,247.6 489.3,246.2 489.4,244.6 489.5,245.3 489.7,245.3 489.8,242.7 489.9,242.1 490.0,239.9 490.1,239.0 490.2,238.9 490.3,238.2 490.4,237.8 490.5,234.1 490.6,236.0 490.7,233.9 490.8,232.8 490.9,232.0 491.0,230.5 491.1,229.6 491.2,229.5 491.3,226.6 491.4,226.7 491.5,226.2 491.6,223.6 491.7,223.7 491.8,222.8 491.9,222.9 491.9,221.1 492.0,220.3 492.0,219.3 492.1,218.0 492.1,217.1 492.2,215.2 492.2,214.7 492.3,215.1 492.3,212.0 492.4,211.7 492.4,210.0 492.5,209.4 492.5,208.3 492.6,207.0 492.6,207.0 492.7,205.2 492.8,205.2 492.8,204.0 493.0,204.3 493.1,200.3 493.3,200.9 493.4,198.7 493.6,199.0 493.7,198.3 493.8,197.6 494.2,196.8 494.8,195.6 495.0,197.4 495.1,197.7 495.3,197.4 495.4,200.6 495.5,200.0 495.7,198.4 495.8,198.0 496.0,197.3 496.1,195.4 496.3,195.1 496.4,195.1 496.6,192.0 496.7,190.9 496.8,191.7 496.9,192.4 497.0,193.6 497.1,193.8 497.2,194.1 497.4,197.3 497.5,197.9 497.5,198.0 497.6,198.1 497.7,200.4 497.7,201.0 497.8,202.1 497.9,202.1 498.0,203.8 498.1,205.3 498.2,204.7 498.2,206.3 498.3,208.6 498.4,210.3 498.5,210.0 498.5,211.5 498.6,212.0 498.6,212.2 498.6,213.7 498.6,214.8 498.7,216.3 498.7,216.8 498.7,219.7 498.7,219.9 498.8,218.5 498.8,220.2 498.8,222.0 498.9,223.7 498.9,224.3 498.9,223.1 498.9,224.9 499.0,227.9 499.0,228.0 499.1,229.4 499.1,231.8 499.2,231.5 499.3,232.3 499.4,234.0 499.4,233.7 499.5,234.6 499.6,235.3 499.7,237.1 499.7,238.3 499.8,238.7 499.8,238.3 499.9,237.7 499.9,236.1 500.0,235.6 500.0,233.5 500.1,232.0 500.1,232.2 500.1,231.4 500.2,230.6 500.2,228.6 500.3,227.4 500.3,226.5 500.3,226.0 500.4,224.7 500.4,223.6 500.5,222.9 500.5,221.5 500.6,220.9 500.6,219.3 500.6,217.6 500.7,217.5 500.7,218.0 500.8,215.2 500.8,215.0 501.2,214.7 501.6,214.1 501.7,212.9 501.8,213.5 501.8,215.1 501.9,214.3 501.9,217.3 502.0,219.0 502.0,219.0 502.1,218.5 502.1,220.5 502.2,221.4 502.2,223.0 502.3,224.1 502.3,224.6 502.4,225.7 502.4,226.3 502.5,228.3 502.5,229.0 502.6,230.1 502.6,230.5 502.7,232.2 502.7,232.8 502.8,233.6 502.8,235.0 502.9,235.7 503.0,236.3 503.1,237.1 503.1,237.5 503.2,238.9 503.3,241.1 503.3,244.0 503.4,241.6 503.5,243.2 503.6,244.8 503.6,248.2 503.7,246.7 503.9,245.6 504.1,244.0 504.3,244.1 504.5,244.2 504.7,239.8 504.9,240.0 505.1,240.7 505.3,238.7 505.4,236.9 505.6,236.6 505.7,235.3 505.9,235.3 506.0,232.8 506.1,233.0 506.3,231.9 506.4,231.2 506.6,230.1 506.7,228.8 506.8,229.9 506.8,229.6 506.9,231.6 507.0,232.2 507.1,234.2 507.1,234.6 507.2,235.9 507.3,237.5 507.3,237.7 507.4,239.9 507.5,240.4 507.6,239.8 507.6,241.4 507.7,242.7 507.8,244.5 508.0,244.3 508.1,246.5 508.2,246.3 508.4,247.6 508.5,249.4 508.7,248.6 508.7,250.0 509.5,249.5 510.3,248.6 510.7,248.6 510.9,247.7 511.1,247.8 511.3,246.0 511.5,243.8 511.7,244.4 511.9,242.4 512.1,241.9 512.3,241.5 512.5,239.6 512.7,238.7 513.1,238.4 513.6,237.0 514.0,235.4 514.4,234.9 514.6,234.7 514.8,234.8 515.1,237.5 515.3,237.7 515.5,239.3 515.7,238.8 516.0,240.7 516.2,240.3 516.3,237.9 516.5,237.9 516.6,236.7 516.8,235.3 517.0,235.0 517.1,233.8 517.3,232.2 517.4,231.3 517.6,230.8 517.7,230.9 517.9,233.7 518.0,233.9 518.2,234.5 518.3,236.2 518.4,236.1 518.6,236.9 518.6,238.0 518.9,239.2 519.2,241.0 519.5,241.1 519.7,241.9 520.0,244.0 520.3,242.7 520.6,244.7 520.9,247.8 521.1,245.9 521.4,247.5 521.6,247.7 521.9,248.7 522.0,250.0 522.5,250.7 523.0,253.4 523.6,252.6 524.0,251.0 524.4,250.3 524.7,250.0 525.1,248.2 525.5,248.0 525.9,246.9 526.2,246.7 526.6,243.7 526.9,244.0 527.3,243.1 527.5,242.7 528.2,241.6 528.9,241.2 529.5,240.7 530.2,238.7 530.9,239.0 531.5,238.7 531.9,239.2 532.4,239.8 532.8,242.3 533.3,243.6 533.5,242.7 533.9,244.2 534.2,244.0 534.6,246.5 534.9,246.8 535.0,246.7 535.3,247.1 535.6,249.0 535.9,249.2 536.0,250.0" fill="none" stroke="#4aa56c" stroke-width="0.85" stroke-linejoin="round" stroke-opacity="1.0"/>
<polyline points="290.5,256.5 291.5,256.5 292.5,256.5 293.5,256.5 294.5,256.5 295.5,256.5 296.5,256.5 297.5,256.5 298.5,256.5 299.5,256.5 300.5,256.5 301.5,256.5 302.5,256.5 303.5,256.5 304.5,256.5 305.5,256.5 306.5,256.5 307.0,256.5 307.3,255.9 307.5,255.2 307.8,254.4 308.0,253.0 308.3,253.2 308.5,254.8 308.8,255.9 309.0,256.5 310.0,256.5 311.0,256.5 312.0,256.5 312.2,254.7 312.4,254.8 312.7,254.0 312.9,251.6 313.0,252.0 313.2,252.6 313.4,253.2 313.7,254.1 313.9,255.2 314.0,256.5 315.0,256.5 316.0,256.5 317.0,256.5 318.0,256.5 319.0,256.5 320.0,256.5 321.0,256.5 322.0,256.5 323.0,256.5 324.0,256.5 325.0,256.5 326.0,256.5 327.0,256.5 328.0,256.5 329.0,256.5 330.0,256.5 331.0,256.5 332.0,256.5 333.0,256.5 334.0,256.5 335.0,256.5 336.0,256.5 337.0,256.5 338.0,256.5 339.0,256.5 340.0,256.5 341.0,256.5 342.0,256.5 343.0,256.5 344.0,256.5 345.0,256.5 346.0,256.5 347.0,256.5 348.0,256.5 349.0,256.5 350.0,256.5 351.0,256.5 352.0,256.5 353.0,256.5 354.0,256.5 355.0,256.5 356.0,256.5 357.0,256.5 358.0,256.5 359.0,256.5 360.0,256.5 361.0,256.5 362.0,256.5 363.0,256.5 364.0,256.5 365.0,256.5 366.0,256.5 367.0,256.5 368.0,256.5 369.0,256.5 370.0,256.5 371.0,256.5 372.0,256.5 373.0,256.5 374.0,256.5 375.0,256.5 376.0,256.5 377.0,256.5 378.0,256.5 379.0,256.5 380.0,256.5 381.0,256.5 382.0,256.5 383.0,256.5 384.0,256.5 385.0,256.5 386.0,256.5 387.0,256.5 388.0,256.5 389.0,256.5 390.0,256.5 391.0,256.5 392.0,256.5 392.2,256.4 392.3,254.1 392.5,253.3 392.6,253.2 392.8,252.3 392.9,251.6 393.0,250.0 393.2,247.6 393.4,248.6 393.6,245.9 393.8,245.6 394.0,244.8 394.2,243.7 394.4,244.5 394.6,242.0 394.8,242.0 395.0,240.0 395.3,238.9 395.6,238.1 396.0,237.0 396.1,238.4 396.2,239.3 396.4,240.3 396.5,239.8 396.6,242.3 396.7,243.2 396.9,244.4 397.0,245.0 397.1,246.0 397.2,247.3 397.3,247.1 397.3,249.8 397.4,249.2 397.5,252.0 397.6,252.7 397.7,252.9 397.8,253.8 397.9,255.5 398.0,255.8 398.0,256.5 399.0,256.5 400.0,256.5 401.0,256.5 402.0,256.5 403.0,256.5 404.0,256.5 404.2,254.7 404.3,254.7 404.5,252.7 404.6,252.2 404.8,252.8 404.9,251.1 405.0,250.0 405.7,250.4 406.4,251.4 407.0,252.0 407.4,252.5 407.8,253.8 408.2,253.7 408.6,256.1 409.0,256.5 410.0,256.5 411.0,256.5 412.0,256.5 413.0,256.5 414.0,256.5 415.0,256.5 416.0,256.5 417.0,256.5 418.0,256.5 419.0,256.5 420.0,256.5 421.0,256.5 422.0,256.5 423.0,256.5 424.0,256.5 425.0,256.5 426.0,256.5 427.0,256.5 428.0,256.5 429.0,256.5 430.0,256.5 431.0,256.5 432.0,256.5 433.0,256.5 434.0,256.5 435.0,256.5 436.0,256.5 437.0,256.5 438.0,256.5 439.0,256.5 440.0,256.5 441.0,256.5 442.0,256.5 443.0,256.5 444.0,256.5 445.0,256.5 446.0,256.5 447.0,256.5 448.0,256.5 449.0,256.5 450.0,256.5 451.0,256.5 452.0,256.5 453.0,256.5 454.0,256.5 455.0,256.5 456.0,256.5 457.0,256.5 458.0,256.5 459.0,256.5 460.0,256.5 461.0,256.5 462.0,256.5 463.0,256.5 464.0,256.5 465.0,256.5 466.0,256.5 467.0,256.5 468.0,256.5 469.0,256.5 470.0,256.5 471.0,256.5 472.0,256.5 473.0,256.5 474.0,256.5 475.0,256.5 476.0,256.5 477.0,256.5 478.0,256.5 479.0,256.5 480.0,256.5 481.0,256.5 482.0,256.5 483.0,256.5 483.1,255.5 483.2,254.1 483.3,253.1 483.3,254.3 483.4,251.2 483.5,250.2 483.6,249.1 483.7,248.2 483.8,248.5 483.9,247.0 484.0,245.8 484.0,245.0 484.2,244.3 484.3,242.2 484.5,240.4 484.7,242.1 484.8,240.6 485.0,239.0 485.1,240.1 485.2,241.2 485.3,242.1 485.4,243.0 485.6,243.8 485.7,243.4 485.8,246.4 485.9,247.0 486.0,248.0 486.1,249.7 486.2,250.2 486.4,250.8 486.5,252.4 486.6,253.1 486.7,253.7 486.8,254.7 486.9,255.7 487.0,256.5 488.0,256.5 489.0,256.5 490.0,256.5 491.0,256.5 492.0,256.5 493.0,256.5 494.0,256.5 495.0,256.5 496.0,256.5 497.0,256.5 498.0,256.5 499.0,256.5 500.0,256.5 501.0,256.5 502.0,256.5 503.0,256.5 504.0,256.5 505.0,256.5 506.0,256.5 507.0,256.5 508.0,256.5 509.0,256.5 510.0,256.5 511.0,256.5 512.0,256.5 513.0,256.5 514.0,256.5 515.0,256.5 516.0,256.5 517.0,256.5 518.0,256.5 519.0,256.5 520.0,256.5 521.0,256.5 522.0,256.5 523.0,256.5 524.0,256.5 525.0,256.5 526.0,256.5 527.0,256.5 528.0,256.5 529.0,256.5 530.0,256.5 531.0,256.5 532.0,256.5 533.0,256.5 534.0,256.5 535.0,256.5 536.0,256.5 537.0,256.5 537.5,256.5" fill="none" stroke="#f2a468" stroke-width="0.85" stroke-linejoin="round" stroke-opacity="1.0"/>
<polyline points="290.5,256.2 291.5,256.2 292.5,256.2 293.5,256.2 294.5,256.2 295.5,256.2 296.5,256.2 297.5,256.2 298.5,256.2 299.5,256.2 300.5,256.2 301.5,256.2 302.5,256.2 303.5,256.2 304.5,256.2 305.5,256.2 306.5,256.2 307.5,256.2 308.5,256.2 309.5,256.2 310.5,256.2 311.5,256.2 312.5,256.2 313.5,256.2 314.5,256.2 315.5,256.2 316.5,256.2 317.5,256.2 318.5,256.2 319.5,256.2 320.5,256.2 321.5,256.2 322.5,256.2 323.0,256.2 323.1,255.0 323.2,253.9 323.3,253.9 323.3,254.2 323.4,251.1 323.5,251.0 323.6,247.8 323.7,246.0 323.8,246.9 323.9,246.1 323.9,244.7 324.0,243.3 324.1,242.7 324.2,241.9 324.3,241.4 324.4,240.0 324.5,238.4 324.5,238.0 324.6,238.3 324.7,235.7 324.8,235.3 324.9,235.0 325.0,232.7 325.0,233.0 325.1,231.6 325.2,233.0 325.2,230.9 325.3,228.6 325.4,228.1 325.5,227.1 325.5,226.1 325.6,225.3 325.7,223.8 325.8,221.5 325.9,221.4 325.9,221.1 326.0,219.1 326.1,218.8 326.2,219.1 326.2,217.2 326.3,215.6 326.4,215.0 326.7,214.1 327.0,213.8 327.3,210.9 327.6,211.0 327.7,211.1 327.7,212.5 327.8,213.7 327.9,214.9 327.9,215.6 328.0,217.1 328.0,218.0 328.1,218.2 328.2,219.6 328.2,220.1 328.3,222.2 328.4,223.2 328.4,224.4 328.5,224.4 328.6,225.6 328.6,225.4 328.7,228.0 328.7,227.8 328.8,230.2 328.9,231.7 328.9,232.3 329.0,233.0 329.0,232.4 329.1,231.2 329.1,230.3 329.2,229.6 329.2,228.9 329.3,228.4 329.3,225.8 329.4,225.6 329.4,224.6 329.5,223.3 329.5,222.2 329.5,220.2 329.6,220.8 329.6,218.4 329.7,217.6 329.7,216.4 329.8,216.4 329.8,214.4 329.9,214.3 329.9,213.4 330.0,212.1 330.0,211.0 330.1,209.8 330.1,209.4 330.2,208.9 330.2,206.7 330.3,205.3 330.4,204.6 330.4,203.4 330.5,203.0 330.5,203.8 330.6,204.9 330.6,204.4 330.7,208.0 330.7,207.4 330.8,208.7 330.8,208.6 330.9,209.7 330.9,211.3 331.0,213.1 331.0,214.0 331.0,213.6 331.1,210.8 331.1,211.2 331.1,211.0 331.2,208.8 331.2,208.6 331.2,207.2 331.3,205.4 331.3,205.7 331.4,203.6 331.4,203.3 331.4,201.7 331.5,200.9 331.5,200.0 331.5,201.1 331.6,202.9 331.6,201.9 331.7,203.2 331.7,205.1 331.8,206.7 331.8,206.9 331.9,207.9 331.9,209.3 332.0,210.0 332.0,210.1 332.1,207.4 332.1,205.9 332.2,205.8 332.2,205.5 332.2,203.1 332.3,203.8 332.3,202.6 332.4,201.6 332.4,199.4 332.5,198.1 332.5,198.0 332.5,199.4 332.6,200.2 332.6,201.5 332.6,201.1 332.7,201.0 332.7,204.8 332.7,205.7 332.8,205.8 332.8,207.0 332.9,208.3 332.9,209.5 332.9,209.9 333.0,210.6 333.0,212.0 333.0,210.3 333.1,210.7 333.1,209.1 333.2,205.7 333.2,207.2 333.2,205.6 333.3,204.1 333.3,203.7 333.4,202.1 333.4,201.7 333.5,200.6 333.5,200.0 333.5,201.3 333.5,201.3 333.6,201.8 333.6,203.6 333.6,204.1 333.6,206.5 333.7,206.9 333.7,206.8 333.7,208.4 333.7,210.0 333.7,211.0 333.8,210.7 333.8,212.9 333.8,214.2 333.8,215.7 333.9,216.8 333.9,216.9 333.9,217.1 333.9,218.7 334.0,220.4 334.0,220.4 334.0,222.0 334.0,221.9 334.1,219.4 334.1,218.2 334.1,218.6 334.2,216.9 334.2,216.2 334.2,214.8 334.3,214.0 334.3,212.6 334.4,213.3 334.4,211.5 334.4,209.9 334.5,209.3 334.5,208.0 334.5,209.6 334.5,209.6 334.6,211.1 334.6,212.1 334.6,212.6 334.6,213.5 334.7,214.9 334.7,215.8 334.7,216.7 334.7,216.6 334.8,219.0 334.8,220.5 334.8,221.0 334.8,223.2 334.9,223.6 334.9,223.7 334.9,224.5 334.9,226.3 335.0,226.7 335.0,228.0 335.1,227.9 335.3,230.1 335.4,230.8 335.6,231.8 335.7,233.4 335.8,234.1 336.0,235.0 336.2,237.4 336.3,236.5 336.5,237.9 336.7,239.2 336.8,239.6 337.0,240.6 337.2,243.1 337.3,241.9 337.5,244.1 337.6,243.7 337.8,246.1 338.0,247.0 338.2,246.7 338.4,248.1 338.6,250.7 338.8,252.0 339.1,252.0 339.3,251.0 339.5,254.5 339.7,255.0 339.9,255.0 340.0,256.2 340.3,255.0 340.5,253.4 340.8,253.2 341.1,252.3 341.3,251.5 341.6,251.0 341.9,249.0 342.0,249.0 342.3,246.5 342.5,246.3 342.8,245.2 343.0,244.9 343.3,243.9 343.6,243.0 344.2,242.2 344.7,242.3 345.0,241.0 345.2,242.0 345.3,242.2 345.5,243.7 345.7,244.4 345.8,245.8 346.0,247.0 346.2,246.4 346.3,244.2 346.5,244.5 346.7,244.3 346.8,243.1 347.0,241.0 347.1,243.1 347.2,243.0 347.3,243.0 347.4,246.3 347.5,245.9 347.6,247.1 347.7,247.7 347.8,248.3 347.9,250.4 348.0,251.0 348.4,249.2 349.0,249.0 349.2,249.0 349.3,251.3 349.5,251.7 349.7,252.4 349.8,254.3 350.0,255.0 350.9,256.2 351.7,255.8 352.0,256.2 352.0,255.1 352.1,254.6 352.1,253.8 352.2,252.9 352.2,251.7 352.2,249.7 352.3,249.6 352.3,248.2 352.4,246.1 352.4,247.1 352.4,245.6 352.5,245.2 352.5,243.2 352.6,242.7 352.6,241.2 352.6,240.3 352.7,239.8 352.7,238.3 352.8,237.6 352.8,236.2 352.8,236.0 352.9,234.7 352.9,232.1 353.0,233.4 353.0,231.0 353.1,230.3 353.2,228.7 353.4,227.6 353.5,228.4 353.6,226.1 353.7,225.4 353.9,224.5 354.0,223.0 354.7,223.3 355.4,225.6 356.0,225.0 356.1,225.5 356.2,222.5 356.3,222.8 356.4,219.9 356.5,219.8 356.6,219.1 356.7,218.1 356.8,217.4 356.9,216.3 357.0,215.3 357.1,214.0 357.2,213.3 357.3,211.7 357.4,212.4 357.5,210.1 357.6,209.0 357.7,210.8 357.9,211.1 358.0,211.9 358.1,212.8 358.3,213.1 358.4,215.0 358.5,217.4 358.6,217.3 358.7,218.1 358.8,218.7 358.9,220.9 359.0,220.7 359.1,221.6 359.2,222.6 359.3,225.0 359.4,225.2 359.5,225.8 359.6,227.0 359.7,227.6 359.8,229.9 359.9,230.2 360.0,230.8 360.1,232.6 360.2,233.6 360.3,233.3 360.4,235.8 360.5,236.7 360.6,236.8 360.7,237.1 360.8,239.7 360.9,239.7 361.0,241.0 361.2,239.9 361.3,238.8 361.5,237.9 361.7,237.6 361.8,235.3 362.0,235.0 362.1,234.4 362.2,233.8 362.2,232.7 362.3,231.5 362.4,230.2 362.5,228.9 362.6,227.9 362.7,226.4 362.7,227.2 362.8,225.0 362.9,223.4 363.0,223.0 363.1,224.6 363.1,226.0 363.2,226.2 363.2,226.8 363.3,227.2 363.4,229.4 363.4,229.8 363.5,230.5 363.6,232.4 363.6,232.1 363.7,234.5 363.7,233.4 363.8,235.6 363.9,236.0 363.9,237.8 364.0,239.0 364.1,240.5 364.1,240.1 364.2,242.9 364.2,242.5 364.3,243.7 364.3,245.7 364.4,245.5 364.5,248.0 364.5,247.8 364.6,248.9 364.6,249.3 364.7,251.8 364.8,251.9 364.8,252.6 364.9,253.3 364.9,254.5 365.0,256.2 366.0,256.2 367.0,256.2 368.0,256.2 369.0,256.2 370.0,256.2 371.0,256.2 372.0,256.2 373.0,256.2 374.0,256.2 375.0,256.2 376.0,256.2 377.0,256.2 378.0,256.2 378.1,255.1 378.1,253.7 378.2,253.7 378.2,252.2 378.3,250.8 378.4,250.5 378.4,250.2 378.5,246.8 378.5,247.5 378.6,247.0 378.7,245.3 378.7,244.8 378.8,242.2 378.8,241.7 378.9,241.9 379.0,240.2 379.0,239.3 379.1,238.7 379.1,237.5 379.2,236.6 379.3,234.9 379.3,234.0 379.4,234.1 379.4,231.9 379.5,230.3 379.6,230.0 379.6,229.8 379.7,229.5 379.7,227.4 379.8,225.8 379.9,225.7 379.9,224.5 380.0,224.0 380.0,223.0 380.4,222.5 380.9,221.7 381.3,220.7 381.8,219.7 382.0,219.0 382.2,217.4 382.4,216.9 382.6,217.2 382.8,216.0 383.0,214.8 383.2,213.4 383.4,212.1 383.6,211.0 383.7,210.2 383.8,208.8 383.9,208.7 384.0,206.8 384.1,205.5 384.2,203.9 384.3,205.1 384.4,202.5 384.5,202.0 384.5,202.4 384.6,204.3 384.6,206.2 384.7,206.5 384.7,206.8 384.7,208.4 384.8,208.4 384.8,209.8 384.8,211.0 384.9,212.0 384.9,213.5 385.0,214.4 385.0,215.0 385.1,217.2 385.2,217.6 385.2,217.8 385.3,219.2 385.4,219.4 385.5,220.6 385.6,221.8 385.7,223.7 385.7,223.5 385.8,223.9 385.9,225.3 386.0,227.0 386.0,227.2 386.1,228.9 386.1,229.8 386.1,230.2 386.2,231.5 386.2,232.7 386.2,234.3 386.3,235.4 386.3,236.9 386.3,236.8 386.4,238.4 386.4,239.0 386.4,239.3 386.5,240.6 386.5,243.5 386.5,242.9 386.6,245.1 386.6,245.5 386.7,247.1 386.7,246.9 386.7,248.6 386.8,248.8 386.8,249.3 386.8,250.2 386.9,252.3 386.9,251.9 386.9,254.3 387.0,254.4 387.0,256.2 388.0,256.2 389.0,256.2 389.1,255.5 389.2,253.3 389.2,253.8 389.3,252.1 389.4,250.2 389.5,249.3 389.5,249.3 389.6,247.1 389.7,247.5 389.8,246.6 389.8,244.8 389.9,245.2 390.0,243.0 390.0,243.0 390.0,241.2 390.1,240.3 390.1,239.3 390.1,237.8 390.1,237.9 390.2,235.7 390.2,233.3 390.2,234.0 390.2,233.3 390.3,232.6 390.3,230.3 390.3,231.0 390.3,228.5 390.4,228.5 390.4,227.5 390.4,226.2 390.4,225.8 390.5,223.7 390.5,224.4 390.5,222.4 390.5,220.7 390.6,221.8 390.6,219.0 390.6,216.9 390.6,217.9 390.7,217.1 390.7,214.6 390.7,213.4 390.7,213.8 390.8,212.1 390.8,210.4 390.8,209.7 390.8,209.1 390.9,208.7 390.9,208.0 390.9,205.6 390.9,206.0 391.0,203.0 391.0,203.0 391.0,202.5 391.1,200.9 391.1,200.3 391.1,198.7 391.2,197.5 391.2,197.2 391.2,196.8 391.3,193.5 391.3,194.0 391.4,192.8 391.4,191.3 391.4,190.1 391.5,190.4 391.5,189.4 391.5,188.4 391.6,185.7 391.6,185.0 391.6,184.6 391.7,183.7 391.7,184.2 391.7,181.8 391.8,181.1 391.8,180.7 391.9,180.2 391.9,178.3 391.9,177.3 392.0,177.3 392.0,175.0 392.1,173.8 392.2,171.8 392.2,171.5 392.3,170.8 392.4,170.9 392.5,169.2 392.5,168.9 392.6,167.1 392.7,166.1 392.8,164.6 392.8,163.2 392.9,163.4 393.0,162.0 393.1,163.3 393.1,164.4 393.2,164.7 393.2,165.7 393.3,167.3 393.3,168.4 393.4,170.4 393.4,169.4 393.5,171.7 393.6,172.6 393.6,172.8 393.7,174.1 393.7,175.0 393.8,177.0 393.8,178.7 393.9,178.2 393.9,178.8 394.0,180.0 394.0,181.6 394.1,182.4 394.1,182.9 394.2,184.5 394.2,185.6 394.3,185.8 394.3,187.6 394.3,186.5 394.4,188.1 394.4,189.8 394.5,191.1 394.5,191.0 394.6,194.0 394.6,193.8 394.7,195.1 394.7,196.0 394.7,197.5 394.8,197.6 394.8,199.5 394.9,199.4 394.9,200.0 395.0,202.4 395.0,203.0 395.0,204.1 395.1,205.6 395.1,204.7 395.2,207.1 395.2,207.6 395.3,208.9 395.3,209.7 395.4,210.8 395.4,211.5 395.5,213.7 395.5,212.8 395.6,213.9 395.6,216.2 395.7,218.4 395.7,217.5 395.8,218.4 395.8,219.2 395.9,220.3 395.9,222.8 396.0,223.0 396.0,224.5 396.1,225.6 396.1,226.3 396.2,227.2 396.2,227.6 396.2,228.4 396.3,230.4 396.3,232.6 396.3,231.8 396.4,233.8 396.4,233.5 396.5,235.0 396.5,237.2 396.5,236.9 396.6,238.4 396.6,238.6 396.7,241.3 396.7,240.2 396.7,242.4 396.8,242.8 396.8,244.1 396.8,245.2 396.9,246.9 396.9,247.6 397.0,248.7 397.0,249.0 397.1,250.2 397.3,250.3 397.4,252.9 397.6,254.0 397.7,254.3 397.8,255.5 398.0,255.8 398.0,256.2 398.5,254.4 399.1,255.2 399.6,253.2 400.2,254.1 400.7,252.5 401.3,251.1 401.8,249.9 402.0,250.0 402.1,249.1 402.1,247.3 402.2,246.8 402.2,247.1 402.3,244.8 402.4,245.3 402.4,242.9 402.5,242.3 402.5,240.4 402.6,239.8 402.6,238.7 402.7,237.1 402.8,238.3 402.8,236.5 402.9,235.0 402.9,233.3 403.0,233.0 403.1,234.0 403.3,234.3 403.4,235.3 403.6,236.9 403.7,239.4 403.8,237.8 404.0,240.0 404.1,241.4 404.2,241.7 404.2,241.1 404.3,243.1 404.4,244.9 404.5,246.1 404.5,246.5 404.6,249.2 404.7,249.3 404.8,249.6 404.8,249.9 404.9,252.1 405.0,253.0 405.7,253.3 406.4,255.1 407.0,255.0 407.2,253.3 407.5,253.9 407.7,251.8 408.0,251.3 408.2,250.0 408.5,249.6 408.7,249.0 409.0,247.0 409.3,247.6 409.6,248.3 410.0,250.0 410.2,252.3 410.3,252.6 410.5,254.3 410.6,254.6 410.8,255.1 411.0,256.2 411.0,256.2 412.0,256.2 413.0,256.2 414.0,256.2 415.0,256.2 416.0,256.2 417.0,256.2 418.0,256.2 419.0,256.2 420.0,256.2 421.0,256.2 422.0,256.2 423.0,256.2 424.0,256.2 425.0,256.2 426.0,256.2 427.0,256.2 428.0,256.2 429.0,256.2 430.0,256.2 431.0,256.2 432.0,256.2 433.0,256.2 434.0,256.2 435.0,256.2 436.0,256.2 437.0,256.2 438.0,256.2 439.0,256.2 440.0,256.2 441.0,256.2 442.0,256.2 443.0,256.2 444.0,256.2 445.0,256.2 446.0,256.2 447.0,256.2 448.0,256.2 449.0,256.2 450.0,256.2 451.0,256.2 452.0,256.2 453.0,256.2 454.0,256.2 455.0,256.2 456.0,256.2 457.0,256.2 458.0,256.2 459.0,256.2 460.0,256.2 461.0,256.2 462.0,256.2 463.0,256.2 464.0,256.2 465.0,256.2 466.0,256.2 467.0,256.2 468.0,256.2 469.0,256.2 470.0,256.2 471.0,256.2 471.1,254.8 471.2,253.9 471.4,253.0 471.5,252.7 471.6,250.7 471.7,250.1 471.8,248.7 472.0,248.1 472.0,248.0 472.2,249.8 472.5,250.7 472.7,250.8 473.0,252.0 473.2,252.7 473.4,249.6 473.6,249.4 473.8,247.8 474.0,247.0 474.2,246.5 474.3,248.2 474.5,250.8 474.7,249.8 474.8,253.9 475.0,253.0 475.2,252.0 475.4,251.2 475.6,250.9 475.8,249.1 476.0,248.0 476.1,248.6 476.2,249.6 476.4,250.4 476.5,252.3 476.6,252.7 476.7,254.3 476.8,254.0 477.0,255.7 477.0,256.2 478.0,256.2 479.0,256.2 480.0,256.2 481.0,256.2 482.0,256.2 483.0,256.2 484.0,256.2 485.0,256.2 486.0,256.2 487.0,256.2 488.0,256.2 489.0,256.2 490.0,256.2 491.0,256.2 492.0,256.2 493.0,256.2 494.0,256.2 495.0,256.2 496.0,256.2 497.0,256.2 498.0,256.2 499.0,256.2 500.0,256.2 501.0,256.2 502.0,256.2 503.0,256.2 504.0,256.2 505.0,256.2 506.0,256.2 507.0,256.2 508.0,256.2 509.0,256.2 510.0,256.2 511.0,256.2 512.0,256.2 513.0,256.2 514.0,256.2 515.0,256.2 516.0,256.2 517.0,256.2 518.0,256.2 519.0,256.2 520.0,256.2 521.0,256.2 522.0,256.2 523.0,256.2 524.0,256.2 525.0,256.2 526.0,256.2 527.0,256.2 528.0,256.2 529.0,256.2 530.0,256.2 531.0,256.2 532.0,256.2 533.0,256.2 534.0,256.2 535.0,256.2 536.0,256.2 537.0,256.2 537.5,256.2" fill="none" stroke="#3fe1e3" stroke-width="0.85" stroke-linejoin="round" stroke-opacity="1.0"/>
<polyline points="290.5,256.2 291.5,256.2 292.5,256.2 293.5,256.2 294.0,256.2 294.0,256.2 294.0,254.4 294.1,253.2 294.1,253.0 294.1,251.4 294.1,251.2 294.1,248.4 294.1,248.7 294.2,246.5 294.2,246.7 294.2,246.9 294.2,245.2 294.2,242.6 294.2,242.5 294.3,241.5 294.3,239.7 294.3,239.4 294.3,237.5 294.3,237.9 294.3,236.8 294.4,235.1 294.4,234.7 294.4,233.0 294.5,233.6 294.5,230.9 294.6,228.8 294.6,229.2 294.7,227.7 294.8,226.5 294.8,226.6 294.9,225.7 294.9,224.4 295.0,223.0 295.1,223.1 295.1,220.6 295.2,219.7 295.3,219.3 295.4,216.2 295.4,215.2 295.5,216.2 295.6,214.9 295.6,214.1 295.7,212.4 295.8,212.2 295.9,211.8 295.9,209.6 296.0,209.0 296.1,208.4 296.2,206.9 296.3,205.9 296.4,205.1 296.6,205.1 296.7,203.4 296.8,202.5 296.9,201.2 297.0,200.0 297.1,197.6 297.2,198.6 297.3,197.0 297.4,196.1 297.5,194.7 297.6,193.0 297.7,194.1 297.8,193.3 297.9,192.1 298.0,190.0 298.1,187.8 298.2,188.4 298.2,186.2 298.3,185.9 298.4,184.7 298.5,183.6 298.6,182.5 298.7,181.7 298.7,181.6 298.8,181.1 298.9,179.7 299.0,178.0 299.1,177.0 299.1,175.9 299.2,174.9 299.3,174.0 299.4,172.6 299.4,171.9 299.5,171.6 299.6,169.9 299.6,168.5 299.7,167.9 299.8,167.1 299.9,166.0 299.9,164.9 300.0,164.0 300.2,163.5 300.4,162.0 300.6,160.4 300.8,160.5 301.0,159.0 301.3,159.5 301.6,161.4 302.0,162.0 302.1,163.5 302.2,164.3 302.4,165.2 302.5,165.1 302.6,166.8 302.7,168.1 302.9,169.4 303.0,170.0 303.0,170.2 303.1,171.9 303.1,172.0 303.2,174.1 303.2,175.1 303.3,176.1 303.3,178.1 303.4,178.5 303.4,178.9 303.5,179.6 303.5,180.7 303.6,182.5 303.6,183.6 303.7,183.6 303.7,184.9 303.8,185.7 303.8,187.5 303.9,188.1 303.9,188.5 304.0,190.0 304.1,190.4 304.2,192.9 304.4,192.0 304.5,192.7 304.6,192.9 304.7,197.4 304.9,196.6 305.0,198.0 305.0,199.6 305.1,200.4 305.1,201.6 305.2,202.8 305.2,202.7 305.2,204.0 305.3,205.7 305.3,206.4 305.3,206.5 305.4,207.5 305.4,208.0 305.5,210.2 305.5,211.0 305.5,211.6 305.6,212.0 305.6,213.6 305.6,215.2 305.7,216.1 305.7,216.8 305.7,218.1 305.8,219.4 305.8,219.2 305.9,220.4 305.9,222.7 305.9,223.5 306.0,223.0 306.0,225.0 306.0,225.5 306.1,228.0 306.1,228.5 306.2,228.9 306.2,230.7 306.3,231.9 306.3,232.9 306.4,232.0 306.4,233.1 306.5,234.7 306.5,236.0 306.6,236.8 306.6,238.1 306.7,240.0 306.7,240.7 306.8,241.7 306.8,242.0 306.9,244.1 306.9,244.3 307.0,245.0 307.1,244.2 307.2,243.0 307.3,240.8 307.4,242.5 307.6,240.0 307.7,239.6 307.8,239.6 307.9,236.9 308.0,236.0 308.0,234.2 308.1,234.7 308.1,233.2 308.1,231.4 308.2,231.7 308.2,230.0 308.3,228.4 308.3,226.3 308.3,226.3 308.4,226.3 308.4,224.3 308.4,224.7 308.5,224.5 308.5,222.2 308.6,221.2 308.6,220.0 308.6,219.6 308.7,218.0 308.7,217.7 308.7,217.0 308.8,215.6 308.8,213.4 308.9,213.5 308.9,211.8 308.9,211.2 309.0,210.7 309.0,209.0 309.2,207.6 309.3,207.2 309.5,207.1 309.7,204.5 309.8,203.9 310.0,203.0 310.1,202.5 310.1,200.9 310.2,200.7 310.2,198.3 310.3,197.0 310.4,197.3 310.4,195.9 310.5,195.2 310.5,194.7 310.6,193.8 310.6,191.8 310.7,190.8 310.8,188.7 310.8,188.4 310.9,188.2 310.9,187.2 311.0,186.0 311.1,186.0 311.2,188.5 311.3,189.0 311.4,190.7 311.6,190.7 311.7,192.6 311.8,192.2 311.9,192.7 312.0,195.0 312.0,193.5 312.1,193.5 312.1,192.3 312.2,189.7 312.2,190.1 312.2,189.5 312.3,189.1 312.3,187.6 312.4,186.3 312.4,183.9 312.4,184.3 312.5,181.7 312.5,181.8 312.6,180.8 312.6,179.4 312.6,178.3 312.7,177.9 312.7,177.4 312.8,175.6 312.8,175.2 312.8,174.5 312.9,173.0 312.9,173.3 313.0,170.8 313.0,170.0 313.2,168.5 313.3,166.7 313.5,167.8 313.7,166.5 313.8,164.9 314.0,164.0 314.2,165.2 314.3,165.9 314.5,167.6 314.7,167.9 314.8,169.1 315.0,170.0 315.1,169.0 315.2,167.4 315.2,165.5 315.3,166.4 315.4,164.2 315.5,164.3 315.6,163.5 315.7,163.3 315.7,160.5 315.8,160.2 315.9,159.7 316.0,158.0 316.3,156.6 316.5,155.7 316.8,155.4 317.0,154.4 318.0,155.6 319.0,154.9 320.0,154.0 321.0,154.8 322.0,154.4 323.0,154.4 323.2,155.8 323.4,157.2 323.5,156.5 323.7,158.4 323.9,159.2 324.0,160.0 324.2,161.4 324.3,160.8 324.5,163.5 324.7,163.9 324.8,164.8 325.0,166.0 325.0,165.6 325.1,166.6 325.1,168.6 325.2,170.5 325.2,171.3 325.2,172.5 325.3,171.9 325.3,174.1 325.4,175.9 325.4,174.9 325.5,177.4 325.5,177.5 325.5,179.4 325.6,180.1 325.6,179.9 325.7,181.3 325.7,183.8 325.7,183.9 325.8,185.8 325.8,186.2 325.9,187.6 325.9,187.7 326.0,189.1 326.0,190.0 326.0,190.8 326.0,192.6 326.1,192.6 326.1,194.7 326.1,196.1 326.1,195.2 326.1,196.9 326.1,198.4 326.2,200.2 326.2,200.8 326.2,201.1 326.2,200.9 326.2,203.6 326.2,203.6 326.3,205.1 326.3,206.3 326.3,206.0 326.3,208.7 326.3,209.6 326.3,210.4 326.4,211.4 326.4,212.2 326.4,212.0 326.4,213.7 326.4,215.6 326.4,215.8 326.5,217.0 326.5,218.2 326.5,219.0 326.5,218.1 326.6,217.2 326.6,216.3 326.6,215.0 326.7,213.3 326.7,212.8 326.7,212.7 326.8,210.6 326.8,210.3 326.9,209.2 326.9,207.4 326.9,205.1 327.0,206.0 327.0,205.0 327.1,205.5 327.2,206.6 327.3,208.6 327.4,208.5 327.5,210.2 327.6,211.1 327.7,212.1 327.8,214.3 327.9,212.7 328.0,215.0 328.1,214.7 328.2,212.9 328.3,211.8 328.4,210.6 328.5,210.1 328.6,209.1 328.7,207.4 328.8,208.1 328.9,205.5 329.0,205.0 329.0,203.9 329.0,202.1 329.0,202.1 329.1,201.3 329.1,200.7 329.1,199.7 329.1,197.7 329.1,198.1 329.1,195.9 329.2,196.1 329.2,195.1 329.2,192.7 329.2,191.3 329.2,191.4 329.2,191.0 329.3,189.3 329.3,188.7 329.3,187.4 329.3,186.6 329.3,185.9 329.3,183.8 329.4,182.0 329.4,181.9 329.4,180.5 329.4,179.2 329.4,178.9 329.4,178.5 329.5,175.7 329.5,175.0 329.5,175.6 329.5,173.4 329.5,172.7 329.5,172.9 329.6,171.8 329.6,170.2 329.6,169.4 329.6,168.0 329.6,167.2 329.7,170.4 329.7,171.3 329.7,171.0 329.8,173.1 329.8,174.3 329.9,174.9 329.9,176.6 329.9,177.6 330.0,178.0 330.0,178.8 330.0,179.2 330.1,181.7 330.1,181.6 330.1,183.2 330.2,185.1 330.2,185.5 330.3,185.1 330.3,186.9 330.3,187.5 330.4,187.9 330.4,190.0 330.4,190.5 330.5,192.4 330.5,193.2 330.5,193.9 330.5,195.1 330.6,195.2 330.6,196.5 330.6,197.9 330.7,199.6 330.7,199.8 330.7,200.9 330.8,202.2 330.8,204.0 330.8,203.2 330.8,205.4 330.9,206.1 330.9,207.0 330.9,208.2 331.0,207.6 331.0,210.0 331.0,209.0 331.1,207.8 331.1,206.2 331.2,206.6 331.2,204.9 331.3,203.8 331.3,203.5 331.4,201.4 331.4,200.5 331.5,200.6 331.5,199.6 331.6,199.4 331.6,196.7 331.7,195.0 331.7,194.0 331.8,193.2 331.8,193.1 331.9,191.9 331.9,190.6 332.0,190.0 332.0,190.3 332.1,191.5 332.1,192.8 332.1,194.8 332.1,195.4 332.2,196.9 332.2,197.6 332.2,198.5 332.3,199.8 332.3,200.3 332.3,202.1 332.3,202.7 332.4,204.3 332.4,204.1 332.4,204.5 332.5,207.7 332.5,206.8 332.5,208.3 332.5,208.7 332.6,209.5 332.6,211.3 332.6,211.3 332.7,212.9 332.7,214.9 332.7,215.1 332.7,216.5 332.8,217.4 332.8,218.2 332.8,219.1 332.9,220.4 332.9,220.3 332.9,222.4 332.9,222.3 333.0,223.5 333.0,225.0 333.0,225.6 333.1,226.1 333.1,226.6 333.1,229.2 333.2,230.4 333.2,231.4 333.2,233.5 333.3,233.1 333.3,234.5 333.3,234.5 333.4,236.5 333.4,236.2 333.4,239.4 333.4,238.4 333.5,239.7 333.5,241.5 333.5,240.5 333.6,243.9 333.6,243.3 333.6,245.1 333.7,246.7 333.7,247.1 333.7,248.6 333.8,248.7 333.8,250.4 333.8,249.6 333.9,253.0 333.9,252.5 333.9,253.4 334.0,255.0 334.0,256.2 335.0,256.2 336.0,256.2 337.0,256.2 338.0,256.2 339.0,256.2 339.0,256.2 339.0,253.7 339.1,253.2 339.1,252.0 339.1,250.6 339.1,249.3 339.1,249.6 339.2,248.7 339.2,246.7 339.2,246.4 339.2,245.5 339.2,244.5 339.3,243.1 339.3,242.2 339.3,241.4 339.3,239.5 339.3,239.1 339.4,238.7 339.4,236.8 339.4,237.1 339.4,235.0 339.5,233.5 339.5,233.0 339.5,231.3 339.5,231.6 339.5,229.2 339.6,229.2 339.6,228.1 339.6,227.0 339.6,225.8 339.6,225.3 339.6,224.2 339.6,222.6 339.7,222.6 339.7,220.7 339.7,220.6 339.7,219.9 339.7,218.3 339.7,217.6 339.7,215.1 339.7,215.4 339.8,213.0 339.8,212.9 339.8,212.5 339.8,209.2 339.8,209.5 339.8,208.5 339.8,207.4 339.8,207.0 339.9,206.4 339.9,204.2 339.9,203.6 339.9,201.8 339.9,201.5 339.9,199.6 339.9,199.0 339.9,199.3 340.0,198.6 340.0,196.5 340.0,196.2 340.0,194.5 340.0,194.0 340.0,195.7 340.1,197.2 340.1,195.3 340.2,197.4 340.2,198.6 340.3,199.7 340.3,202.1 340.4,203.0 340.4,203.0 340.5,204.4 340.5,205.0 340.5,204.9 340.5,206.8 340.6,207.8 340.6,208.9 340.6,210.2 340.6,210.0 340.7,211.3 340.7,214.4 340.7,212.8 340.7,215.0 340.7,216.5 340.8,217.3 340.8,218.0 340.8,217.9 340.8,219.7 340.9,220.0 340.9,223.4 340.9,223.2 340.9,224.5 341.0,225.1 341.0,225.7 341.0,227.0 341.1,226.8 341.1,225.6 341.2,224.4 341.3,223.4 341.4,222.5 341.4,220.8 341.5,220.3 341.6,219.1 341.6,217.9 341.7,217.5 341.8,217.4 341.9,213.6 341.9,215.0 342.0,213.0 342.0,213.7 342.1,215.8 342.1,215.3 342.2,216.9 342.2,218.7 342.2,218.9 342.3,220.2 342.3,220.2 342.3,221.2 342.4,224.1 342.4,224.1 342.5,224.9 342.5,225.0 342.5,226.3 342.6,227.3 342.6,229.0 342.7,229.9 342.7,230.6 342.7,231.5 342.8,233.1 342.8,234.8 342.8,234.1 342.9,235.0 342.9,237.7 343.0,237.0 343.0,239.0 343.1,237.7 343.1,237.1 343.2,237.2 343.3,233.6 343.4,232.1 343.4,233.0 343.5,232.7 343.6,231.1 343.6,229.5 343.7,229.2 343.8,226.7 343.9,227.6 343.9,227.0 344.0,225.0 344.1,223.9 344.1,223.5 344.2,221.3 344.3,222.0 344.3,219.6 344.4,218.5 344.5,217.5 344.5,215.9 344.6,216.5 344.7,216.3 344.7,213.0 344.8,212.9 344.9,212.3 344.9,210.7 345.0,210.0 345.2,207.9 345.4,208.3 345.6,207.8 345.8,206.1 346.0,205.0 346.1,203.3 346.1,202.8 346.2,200.7 346.2,201.0 346.3,200.8 346.3,199.7 346.4,198.0 346.4,197.3 346.5,195.7 346.5,195.1 346.6,193.6 346.6,193.1 346.7,191.7 346.7,191.1 346.8,190.5 346.8,189.0 346.9,187.1 346.9,187.4 347.0,186.0 347.1,184.8 347.2,183.7 347.3,183.4 347.4,181.5 347.5,181.7 347.6,180.4 347.7,178.6 347.8,177.6 347.9,177.0 348.0,176.0 348.2,176.4 348.5,178.6 348.7,177.4 349.0,180.0 349.1,181.1 349.2,181.8 349.4,182.2 349.5,184.4 349.6,184.6 349.7,186.3 349.9,186.6 350.0,188.0 350.2,188.8 350.5,190.3 350.7,191.5 351.0,192.0 351.4,193.6 352.0,194.0 352.1,193.0 352.2,193.0 352.4,190.8 352.5,189.1 352.6,187.8 352.7,187.1 352.9,186.5 353.0,186.0 353.2,185.7 353.5,188.2 353.7,188.9 354.0,190.0 354.2,191.0 354.3,192.1 354.5,192.9 354.7,193.8 354.8,194.7 355.0,196.0 355.1,195.0 355.2,193.3 355.3,193.9 355.4,193.0 355.5,191.0 355.6,191.5 355.7,188.4 355.8,188.6 355.9,185.9 356.0,186.0 356.2,187.4 356.3,187.5 356.5,189.6 356.7,190.0 356.8,191.6 357.0,192.0 357.1,191.4 357.2,190.4 357.4,188.8 357.5,189.1 357.6,187.3 357.7,186.4 357.9,186.0 358.0,184.0 358.1,182.8 358.2,183.2 358.3,181.7 358.4,180.1 358.5,178.1 358.6,178.9 358.7,176.8 358.8,176.1 358.9,175.1 359.0,174.0 359.2,173.7 359.3,172.4 359.5,169.8 359.7,169.6 359.8,169.3 360.0,168.0 360.1,169.1 360.2,170.5 360.3,171.4 360.4,173.1 360.5,172.5 360.6,174.9 360.7,175.2 360.8,176.2 360.9,177.4 361.0,178.0 361.1,178.8 361.2,180.5 361.4,180.8 361.5,182.4 361.6,182.4 361.7,184.7 361.9,183.9 362.0,186.0 362.1,184.6 362.2,184.0 362.3,183.2 362.4,181.5 362.5,180.8 362.5,180.2 362.6,179.7 362.7,178.9 362.8,176.7 362.9,176.0 363.0,175.0 363.1,173.8 363.2,172.0 363.2,171.7 363.3,171.8 363.4,169.1 363.5,171.0 363.5,168.7 363.6,168.2 363.7,166.1 363.8,163.4 363.8,164.3 363.9,164.1 364.0,162.0 364.2,160.7 364.5,160.9 364.7,159.6 365.0,158.0 365.4,157.6 366.0,156.0 366.2,157.5 366.3,158.4 366.5,159.4 366.7,160.8 366.8,161.2 367.0,162.0 367.1,163.4 367.2,164.3 367.2,165.1 367.3,165.4 367.4,165.8 367.5,167.3 367.6,168.1 367.7,169.0 367.7,171.4 367.8,171.7 367.9,173.8 368.0,174.0 368.2,177.1 368.3,176.5 368.5,176.7 368.7,178.2 368.8,178.8 369.0,180.0 369.1,179.2 369.2,179.4 369.2,178.1 369.3,176.9 369.4,175.2 369.5,175.2 369.6,173.6 369.7,172.6 369.7,170.2 369.8,169.6 369.9,169.2 370.0,168.0 370.1,168.9 370.2,169.6 370.3,169.7 370.4,171.5 370.5,172.9 370.6,174.2 370.7,174.3 370.8,175.9 370.9,178.2 371.0,178.0 371.1,179.1 371.2,178.7 371.2,180.9 371.3,182.0 371.4,183.9 371.5,184.1 371.6,185.9 371.7,186.2 371.7,187.8 371.8,188.9 371.9,190.0 372.0,190.0 372.1,189.1 372.2,188.5 372.3,189.6 372.4,185.2 372.5,185.2 372.6,184.4 372.7,182.6 372.8,182.6 372.9,180.9 373.0,180.0 373.1,179.6 373.2,178.1 373.4,176.4 373.5,176.7 373.6,176.4 373.7,174.7 373.9,173.3 374.0,172.0 374.1,171.9 374.2,174.2 374.4,175.0 374.5,175.4 374.6,175.7 374.7,178.3 374.9,179.6 375.0,180.0 375.0,181.5 375.1,183.5 375.1,181.7 375.2,184.2 375.2,185.0 375.3,186.9 375.3,187.0 375.4,187.3 375.4,189.0 375.5,190.3 375.5,190.5 375.6,191.5 375.6,193.2 375.7,194.6 375.7,194.8 375.8,196.3 375.8,196.6 375.9,197.8 375.9,199.1 376.0,200.0 376.0,201.6 376.1,203.1 376.1,202.9 376.2,204.3 376.2,206.3 376.2,206.6 376.3,206.8 376.3,208.3 376.3,208.1 376.4,208.6 376.4,210.5 376.5,211.5 376.5,213.0 376.5,213.1 376.5,215.7 376.5,215.7 376.6,217.1 376.6,218.1 376.6,218.9 376.6,219.2 376.6,222.3 376.6,220.7 376.7,223.0 376.7,224.5 376.7,224.9 376.7,225.9 376.7,227.2 376.7,228.2 376.8,228.8 376.8,230.7 376.8,231.4 376.8,233.0 376.8,233.1 376.8,232.7 376.9,233.9 376.9,235.7 376.9,237.3 376.9,236.9 376.9,238.6 376.9,240.8 377.0,241.2 377.0,241.5 377.0,243.0 377.1,241.9 377.3,241.1 377.4,239.8 377.6,238.8 377.7,237.6 377.8,237.2 378.0,236.0 378.1,236.1 378.3,235.0 378.4,232.2 378.6,233.6 378.7,231.0 378.8,229.1 379.0,229.0 379.1,227.0 379.1,227.1 379.2,226.2 379.2,224.6 379.3,223.5 379.4,222.9 379.4,222.2 379.5,221.5 379.6,220.4 379.6,217.4 379.7,217.6 379.7,217.2 379.8,216.3 379.9,215.6 379.9,213.0 380.0,213.0 380.1,213.1 380.2,210.2 380.4,209.9 380.5,208.7 380.6,207.7 380.7,206.5 380.9,206.6 381.0,205.0 381.0,206.5 381.1,207.2 381.1,207.1 381.2,208.6 381.2,210.0 381.2,211.3 381.3,211.6 381.3,212.8 381.4,215.8 381.4,215.0 381.4,215.8 381.5,215.4 381.5,217.5 381.6,220.1 381.6,220.6 381.6,220.2 381.7,222.5 381.7,223.1 381.8,223.5 381.8,225.5 381.8,225.6 381.9,226.8 381.9,228.0 382.0,229.1 382.0,230.0 382.0,230.7 382.0,232.2 382.1,233.0 382.1,234.1 382.1,235.3 382.1,235.6 382.1,236.1 382.2,238.0 382.2,239.8 382.2,240.2 382.2,241.2 382.2,241.5 382.2,242.2 382.3,243.2 382.3,244.4 382.3,245.8 382.3,246.0 382.3,247.9 382.4,247.9 382.4,250.4 382.4,251.0 382.4,250.8 382.4,252.6 382.5,254.2 382.5,255.3 382.5,256.2 383.0,256.2 383.0,255.7 383.0,254.0 383.0,253.1 383.0,252.1 383.0,251.6 383.1,249.7 383.1,249.1 383.1,248.3 383.1,247.0 383.1,245.5 383.1,246.1 383.1,244.6 383.1,242.6 383.1,243.5 383.1,240.7 383.1,239.6 383.2,239.0 383.2,238.6 383.2,238.2 383.2,237.1 383.2,235.6 383.2,234.3 383.2,233.6 383.2,231.7 383.2,230.7 383.2,230.6 383.2,229.3 383.2,228.4 383.3,226.5 383.3,226.4 383.3,224.2 383.3,224.8 383.3,223.2 383.3,221.8 383.3,220.9 383.3,222.1 383.3,221.3 383.3,217.7 383.3,218.1 383.4,214.2 383.4,216.0 383.4,214.2 383.4,213.4 383.4,211.6 383.4,210.3 383.4,210.4 383.4,208.9 383.4,208.6 383.4,207.9 383.4,206.1 383.5,205.6 383.5,204.3 383.5,203.4 383.5,201.9 383.5,201.4 383.5,200.0 383.6,199.3 383.6,198.1 383.7,196.7 383.7,195.0 383.8,194.3 383.9,195.1 383.9,193.7 384.0,192.0 384.1,193.2 384.2,194.2 384.4,194.9 384.5,196.4 384.6,197.6 384.7,197.8 384.9,199.2 385.0,200.0 385.1,199.7 385.2,197.0 385.3,196.4 385.4,195.6 385.5,194.3 385.6,193.7 385.7,192.5 385.8,191.8 385.9,191.4 386.0,190.0 386.1,188.2 386.1,188.1 386.2,187.9 386.2,186.2 386.3,184.2 386.4,183.6 386.4,183.8 386.5,181.9 386.6,180.6 386.6,180.6 386.7,178.6 386.7,177.3 386.8,177.4 386.9,176.1 386.9,174.6 387.0,174.0 387.2,173.4 387.5,172.8 387.7,171.8 388.0,170.0 388.0,171.1 388.1,172.3 388.1,173.3 388.2,173.0 388.2,176.1 388.3,175.6 388.3,176.6 388.4,177.4 388.4,178.4 388.5,180.7 388.5,181.0 388.6,181.6 388.6,181.8 388.7,184.1 388.7,185.0 388.8,185.3 388.8,186.9 388.9,186.8 388.9,189.4 389.0,190.0 389.1,190.2 389.2,192.3 389.2,193.1 389.3,192.6 389.4,194.2 389.5,195.6 389.5,197.5 389.6,198.4 389.7,199.4 389.8,201.1 389.8,200.8 389.9,201.6 390.0,203.0 390.0,202.7 390.1,204.3 390.1,206.4 390.2,206.4 390.2,207.4 390.3,209.6 390.3,208.3 390.4,211.9 390.4,212.9 390.5,213.0 390.5,210.8 390.6,211.3 390.6,210.0 390.7,209.6 390.7,207.8 390.8,206.9 390.8,207.0 390.9,204.6 390.9,204.3 391.0,203.0 391.0,204.4 391.1,204.9 391.1,206.6 391.1,207.3 391.2,208.6 391.2,207.9 391.3,209.3 391.3,211.2 391.3,212.8 391.4,214.0 391.4,214.0 391.4,214.5 391.5,215.3 391.5,215.7 391.6,217.7 391.6,219.4 391.6,220.0 391.7,220.0 391.7,221.9 391.7,223.0 391.8,223.5 391.8,226.0 391.9,226.3 391.9,227.7 391.9,228.1 392.0,228.3 392.0,230.0 392.0,231.7 392.1,232.7 392.1,232.6 392.2,233.1 392.2,235.6 392.2,235.6 392.3,236.2 392.3,237.9 392.3,239.4 392.4,239.5 392.4,241.0 392.5,242.7 392.5,243.5 392.5,243.0 392.6,245.5 392.6,247.2 392.6,247.6 392.7,247.9 392.7,249.2 392.8,248.9 392.8,250.6 392.8,251.6 392.9,254.4 392.9,254.0 393.0,254.3 393.0,256.2 394.0,256.2 395.0,256.2 396.0,256.2 397.0,256.2 398.0,256.2 399.0,256.2 400.0,256.2 401.0,256.2 402.0,256.2 403.0,256.2 404.0,256.2 405.0,256.2 406.0,256.2 407.0,256.2 408.0,256.2 409.0,256.2 410.0,256.2 411.0,256.2 412.0,256.2 413.0,256.2 414.0,256.2 415.0,256.2 416.0,256.2 417.0,256.2 418.0,256.2 419.0,256.2 420.0,256.2 421.0,256.2 422.0,256.2 423.0,256.2 424.0,256.2 425.0,256.2 426.0,256.2 427.0,256.2 428.0,256.2 429.0,256.2 430.0,256.2 431.0,256.2 432.0,256.2 433.0,256.2 434.0,256.2 435.0,256.2 436.0,256.2 436.1,256.2 436.1,255.0 436.2,252.1 436.2,252.1 436.3,250.1 436.4,250.9 436.4,247.7 436.5,249.5 436.6,246.5 436.6,245.5 436.7,246.6 436.7,244.6 436.8,243.5 436.9,242.8 436.9,240.6 437.0,240.0 437.1,239.6 437.3,237.8 437.4,237.4 437.6,236.2 437.7,236.0 437.8,233.2 438.0,233.0 438.1,233.1 438.2,235.4 438.3,237.6 438.4,237.4 438.5,237.9 438.6,239.4 438.7,239.2 438.8,241.0 438.9,240.8 439.0,243.0 439.2,244.1 439.4,245.5 439.6,247.1 439.8,246.6 440.0,248.5 440.2,249.8 440.4,249.2 440.6,250.7 440.8,250.6 441.0,253.0 441.3,253.4 441.6,255.2 441.9,254.5 442.0,256.2 443.0,256.2 444.0,256.2 445.0,256.2 446.0,256.2 447.0,256.2 448.0,256.2 449.0,256.2 450.0,256.2 451.0,256.2 452.0,256.2 452.1,255.0 452.1,254.7 452.2,254.2 452.3,250.5 452.3,251.5 452.4,249.8 452.5,247.7 452.5,247.6 452.6,247.6 452.7,246.2 452.7,245.7 452.8,244.0 452.9,243.7 452.9,241.6 453.0,241.0 453.4,239.5 454.0,239.0 454.1,239.9 454.1,239.8 454.2,242.8 454.2,242.8 454.3,243.3 454.3,244.4 454.4,245.4 454.5,247.1 454.5,247.8 454.6,249.6 454.6,249.2 454.7,250.9 454.8,251.0 454.8,252.7 454.9,254.9 454.9,254.9 455.0,256.2 456.0,256.2 457.0,256.2 458.0,256.2 459.0,256.2 460.0,256.2 461.0,256.2 462.0,256.2 463.0,256.2 464.0,256.2 465.0,256.2 466.0,256.2 467.0,256.2 468.0,256.2 469.0,256.2 470.0,256.2 471.0,256.2 472.0,256.2 473.0,256.2 474.0,256.2 475.0,256.2 476.0,256.2 477.0,256.2 478.0,256.2 479.0,256.2 480.0,256.2 481.0,256.2 482.0,256.2 483.0,256.2 484.0,256.2 484.0,255.8 484.1,254.2 484.1,252.5 484.2,251.6 484.2,250.5 484.3,250.4 484.3,249.4 484.3,250.2 484.4,248.3 484.4,246.8 484.5,244.6 484.5,244.3 484.6,242.6 484.6,243.8 484.6,240.7 484.7,241.0 484.7,238.3 484.8,238.7 484.8,236.4 484.9,235.9 484.9,235.3 484.9,234.3 485.0,233.0 485.2,232.0 485.5,231.0 485.7,229.5 486.0,229.0 486.1,229.9 486.2,231.0 486.3,231.4 486.4,233.4 486.5,234.1 486.5,234.5 486.6,236.9 486.7,236.6 486.8,236.7 486.9,239.8 487.0,240.0 487.2,238.8 487.5,239.1 487.7,237.4 488.0,235.5 488.2,235.9 488.5,234.5 488.7,233.8 488.8,232.8 488.9,231.8 489.1,231.9 489.2,230.5 489.4,228.6 489.5,226.9 489.6,226.8 489.8,225.9 489.9,224.2 490.0,223.8 490.2,222.8 490.3,224.8 490.3,224.5 490.4,226.6 490.5,226.2 490.5,227.1 490.6,229.4 490.7,229.7 490.7,230.9 490.8,232.5 490.9,233.9 490.9,233.0 491.0,235.0 491.2,236.4 491.4,237.1 491.6,238.0 491.8,240.1 492.0,239.7 492.2,240.5 492.4,242.2 492.6,241.5 492.8,244.1 493.0,244.2 493.2,246.0 493.4,246.3 493.6,248.1 493.8,248.6 493.9,247.4 493.9,246.1 494.0,246.0 494.1,245.1 494.2,242.5 494.2,241.8 494.3,241.4 494.4,240.4 494.5,240.5 494.5,239.7 494.6,238.0 494.7,237.4 494.8,235.4 494.8,233.7 494.9,233.8 495.0,231.5 495.0,232.7 495.1,230.8 495.2,230.4 495.3,228.2 495.3,226.6 495.4,226.8 495.5,227.7 495.6,229.1 495.8,229.6 495.9,230.4 496.0,231.8 496.1,232.6 496.2,234.7 496.3,233.9 496.5,234.3 496.5,236.0 496.6,234.9 496.7,234.2 496.8,232.0 496.9,232.0 497.0,231.3 497.1,230.3 497.2,229.2 497.3,227.5 497.4,226.1 497.5,226.7 497.6,224.8 497.7,223.1 497.8,224.1 497.9,222.6 498.0,219.2 498.1,221.8 498.2,219.2 498.3,217.0 498.4,217.7 498.5,216.3 498.6,215.9 498.7,214.1 498.8,212.9 498.9,210.8 499.0,210.8 499.1,209.6 499.2,209.1 499.3,207.8 499.4,207.3 499.5,205.1 499.6,204.6 499.7,203.6 499.8,203.0 500.8,203.6 500.9,204.9 501.0,204.4 501.1,206.6 501.2,209.2 501.3,207.4 501.3,209.0 501.4,210.7 501.5,211.1 501.5,212.7 501.6,213.0 501.7,214.2 501.8,215.2 501.8,216.3 501.9,216.2 502.0,217.9 502.1,220.2 502.2,220.9 502.2,220.4 502.3,221.3 502.4,222.8 502.5,224.7 502.6,225.6 502.6,225.6 502.7,226.8 503.3,224.4 503.8,225.1 504.1,224.8 504.2,224.7 504.3,227.6 504.4,228.8 504.5,229.2 504.5,230.2 504.6,231.2 504.7,233.0 504.8,233.5 504.9,234.7 505.0,234.0 505.1,235.4 505.2,236.8 505.3,236.3 505.3,238.6 505.4,239.7 505.5,240.7 505.6,243.4 505.7,242.7 505.9,243.5 506.1,244.5 506.3,245.6 506.5,246.4 506.7,246.6 506.9,249.3 507.1,249.6 507.3,250.6 507.5,249.9 507.6,248.7 507.8,247.1 508.0,245.6 508.2,245.5 508.3,245.1 508.5,243.6 508.7,242.7 508.9,244.2 509.2,244.1 509.4,245.4 509.7,246.7 509.9,247.5 510.1,248.6 510.4,250.5 510.5,250.0 510.6,248.7 510.7,248.1 510.8,246.6 510.9,246.4 511.0,245.2 511.1,243.5 511.2,242.4 511.3,241.2 511.4,240.9 511.5,240.2 511.6,238.7 511.7,238.0 511.8,237.2 511.9,237.7 512.0,235.9 512.0,234.7 512.1,237.3 512.2,236.8 512.3,237.8 512.4,240.0 512.6,239.9 512.7,241.1 512.8,241.3 512.9,242.3 513.0,244.2 513.1,244.2 513.2,245.2 513.3,245.6 513.5,247.8 513.5,248.0 514.1,248.8 514.6,250.0 515.2,249.9 515.7,250.5 516.3,252.9 516.6,252.6 516.8,251.6 517.1,251.2 517.3,248.9 517.6,247.9 517.8,246.0 518.1,247.0 518.3,246.5 518.5,245.0 518.9,246.8 519.2,248.1 519.6,246.6 520.0,248.0 520.4,249.3 520.5,250.0 521.2,248.7 521.9,248.4 522.6,247.3 523.2,246.1 523.6,246.7 523.9,247.6 524.3,248.7 524.6,249.0 524.9,250.5 525.3,250.5 525.5,252.0 525.9,250.9 526.4,250.0 526.8,249.0 527.3,248.4 527.5,248.0 527.9,248.0 528.4,248.9 528.8,250.1 529.3,252.1 529.5,252.0 529.6,250.4 529.7,249.4 529.8,250.4 529.9,247.8 530.0,246.8 530.1,245.4 530.2,246.0 530.3,244.4 530.4,243.2 530.5,243.1 530.6,240.3 530.7,238.9 530.8,239.8 531.0,238.4 531.1,236.7 531.2,236.6 531.3,235.0 531.4,235.4 531.5,232.3 531.5,232.8 531.5,232.0 531.6,231.5 531.6,230.4 531.7,228.6 531.7,227.5 531.8,226.5 531.8,226.3 531.9,224.5 531.9,223.7 532.0,223.5 532.0,221.7 532.0,221.0 532.1,219.7 532.1,218.8 532.2,216.3 532.2,216.2 532.3,216.1 532.3,214.4 532.4,213.4 532.4,212.9 532.5,213.4 532.5,210.9 532.7,211.4 533.0,212.2 533.2,212.6 533.5,215.0 533.5,216.3 533.6,217.0 533.6,217.4 533.6,218.7 533.7,220.7 533.7,221.7 533.7,222.2 533.8,223.8 533.8,224.7 533.8,224.7 533.8,226.5 533.9,227.1 533.9,228.5 533.9,229.2 534.0,231.4 534.0,230.1 534.0,232.2 534.1,232.3 534.1,235.6 534.1,234.6 534.2,235.7 534.2,237.0 534.2,238.0 534.3,240.1 534.3,240.0 534.3,241.2 534.4,242.7 534.4,244.0 534.4,243.3 534.4,245.2 534.5,245.1 534.5,246.7 534.6,248.0 534.8,249.6 534.9,249.3 535.0,250.5 535.2,252.5 535.3,252.9 535.5,254.2 535.5,254.0 536.2,254.4 536.8,255.3 537.5,256.2" fill="none" stroke="#f4f458" stroke-width="0.85" stroke-linejoin="round" stroke-opacity="1.0"/>
<text x="289.00" y="155.43" text-anchor="end" style="font-family:'Liberation Serif',serif;font-size:4.5px;font-weight:normal" fill="#1a1a1a" stroke="#1a1a1a" stroke-width="0.16">100</text>
<text x="289.00" y="165.63" text-anchor="end" style="font-family:'Liberation Serif',serif;font-size:4.5px;font-weight:normal" fill="#1a1a1a" stroke="#1a1a1a" stroke-width="0.16">90</text>
<text x="289.00" y="175.83" text-anchor="end" style="font-family:'Liberation Serif',serif;font-size:4.5px;font-weight:normal" fill="#1a1a1a" stroke="#1a1a1a" stroke-width="0.16">80</text>
<text x="289.00" y="186.03" text-anchor="end" style="font-family:'Liberation Serif',serif;font-size:4.5px;font-weight:normal" fill="#1a1a1a" stroke="#1a1a1a" stroke-width="0.16">70</text>
<text x="289.00" y="196.23" text-anchor="end" style="font-family:'Liberation Serif',serif;font-size:4.5px;font-weight:normal" fill="#1a1a1a" stroke="#1a1a1a" stroke-width="0.16">60</text>
<text x="289.00" y="206.43" text-anchor="end" style="font-family:'Liberation Serif',serif;font-size:4.5px;font-weight:normal" fill="#1a1a1a" stroke="#1a1a1a" stroke-width="0.16">50</text>
<text x="289.00" y="216.63" text-anchor="end" style="font-family:'Liberation Serif',serif;font-size:4.5px;font-weight:normal" fill="#1a1a1a" stroke="#1a1a1a" stroke-width="0.16">40</text>
<text x="289.00" y="226.83" text-anchor="end" style="font-family:'Liberation Serif',serif;font-size:4.5px;font-weight:normal" fill="#1a1a1a" stroke="#1a1a1a" stroke-width="0.16">30</text>
<text x="289.00" y="237.03" text-anchor="end" style="font-family:'Liberation Serif',serif;font-size:4.5px;font-weight:normal" fill="#1a1a1a" stroke="#1a1a1a" stroke-width="0.16">20</text>
<text x="289.00" y="247.23" text-anchor="end" style="font-family:'Liberation Serif',serif;font-size:4.5px;font-weight:normal" fill="#1a1a1a" stroke="#1a1a1a" stroke-width="0.16">10</text>
<text x="289.00" y="257.43" text-anchor="end" style="font-family:'Liberation Serif',serif;font-size:4.5px;font-weight:normal" fill="#1a1a1a" stroke="#1a1a1a" stroke-width="0.16">0</text>
<text x="288.74" y="265.80" text-anchor="middle" style="font-family:'Liberation Serif',serif;font-size:4.5px;font-weight:normal" fill="#1a1a1a" stroke="#1a1a1a" stroke-width="0.16">0</text>
<text x="310.15" y="265.80" text-anchor="middle" style="font-family:'Liberation Serif',serif;font-size:4.5px;font-weight:normal" fill="#1a1a1a" stroke="#1a1a1a" stroke-width="0.16">600</text>
<text x="331.56" y="265.80" text-anchor="middle" style="font-family:'Liberation Serif',serif;font-size:4.5px;font-weight:normal" fill="#1a1a1a" stroke="#1a1a1a" stroke-width="0.16">1200</text>
<text x="352.96" y="265.80" text-anchor="middle" style="font-family:'Liberation Serif',serif;font-size:4.5px;font-weight:normal" fill="#1a1a1a" stroke="#1a1a1a" stroke-width="0.16">1800</text>
<text x="374.37" y="265.80" text-anchor="middle" style="font-family:'Liberation Serif',serif;font-size:4.5px;font-weight:normal" fill="#1a1a1a" stroke="#1a1a1a" stroke-width="0.16">2400</text>
<text x="395.78" y="265.80" text-anchor="middle" style="font-family:'Liberation Serif',serif;font-size:4.5px;font-weight:normal" fill="#1a1a1a" stroke="#1a1a1a" stroke-width="0.16">3000</text>
<text x="417.19" y="265.80" text-anchor="middle" style="font-family:'Liberation Serif',serif;font-size:4.5px;font-weight:normal" fill="#1a1a1a" stroke="#1a1a1a" stroke-width="0.16">3600</text>
<text x="438.60" y="265.80" text-anchor="middle" style="font-family:'Liberation Serif',serif;font-size:4.5px;font-weight:normal" fill="#1a1a1a" stroke="#1a1a1a" stroke-width="0.16">4200</text>
<text x="460.00" y="265.80" text-anchor="middle" style="font-family:'Liberation Serif',serif;font-size:4.5px;font-weight:normal" fill="#1a1a1a" stroke="#1a1a1a" stroke-width="0.16">4800</text>
<text x="481.41" y="265.80" text-anchor="middle" style="font-family:'Liberation Serif',serif;font-size:4.5px;font-weight:normal" fill="#1a1a1a" stroke="#1a1a1a" stroke-width="0.16">5400</text>
<text x="502.82" y="265.80" text-anchor="middle" style="font-family:'Liberation Serif',serif;font-size:4.5px;font-weight:normal" fill="#1a1a1a" stroke="#1a1a1a" stroke-width="0.16">6000</text>
<text x="524.23" y="265.80" text-anchor="middle" style="font-family:'Liberation Serif',serif;font-size:4.5px;font-weight:normal" fill="#1a1a1a" stroke="#1a1a1a" stroke-width="0.16">6600</text>
<text x="538.57" y="265.80" text-anchor="middle" style="font-family:'Liberation Serif',serif;font-size:4.5px;font-weight:normal" fill="#1a1a1a" stroke="#1a1a1a" stroke-width="0.16">7002</text>
<text x="419.00" y="271.00" text-anchor="middle" style="font-family:'Liberation Sans',sans-serif;font-size:4.5px;font-weight:bold" fill="#111" stroke="#111" stroke-width="0.08">Nucleotide Position</text>
<text transform="translate(282.00,205.00) rotate(-90)" text-anchor="middle" style="font-family:'Liberation Sans',sans-serif;font-size:4.6px;font-weight:bold" fill="#111" stroke="#111" stroke-width="0.08">% of Permuted Trees</text>
<rect x="414.8" y="158.4" width="72.50" height="7.80" fill="#fff" stroke="#8c8c8c" stroke-width="0.6"/><line x1="415.1" y1="158.4" x2="487.0" y2="158.4" stroke="#cfcfcf" stroke-width="0.7"/><text x="416.50" y="164.00" text-anchor="start" style="font-family:'Liberation Sans',sans-serif;font-size:5.09px;font-weight:bold" fill="#111" stroke="#111" stroke-width="0.2">Query Sequence: MZ493233</text>
<text x="277.00" y="148.70" text-anchor="start" style="font-family:'Liberation Sans',sans-serif;font-size:10.6px;font-weight:bold" fill="#000" stroke="#000" stroke-width="0.08">d</text>
</svg>
</body></html>
